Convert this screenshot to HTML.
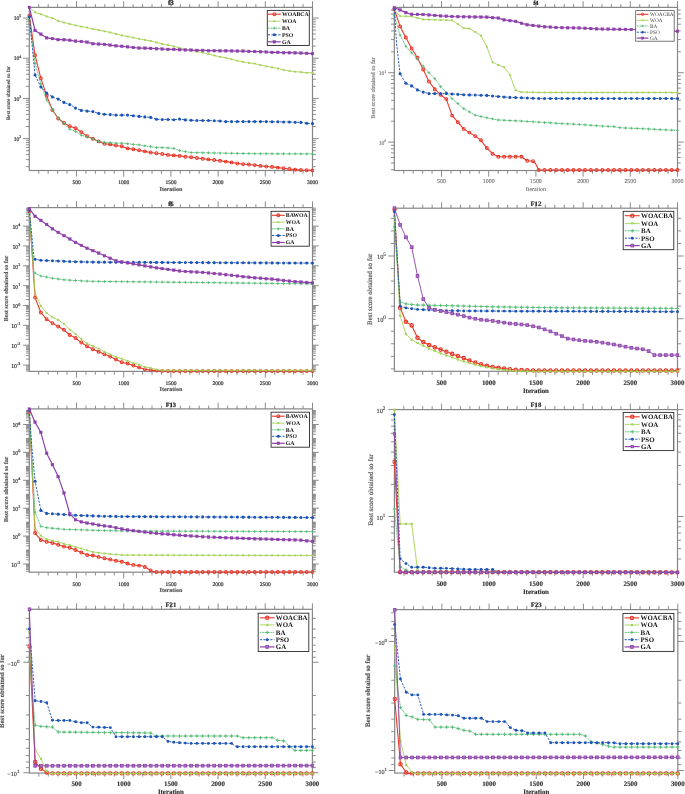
<!DOCTYPE html><html><head><meta charset="utf-8"><style>html,body{margin:0;padding:0;background:#fff;width:685px;height:794px;overflow:hidden}svg{display:block}text{font-family:"Liberation Serif",serif;text-rendering:geometricPrecision}</style></head><body>
<svg width="685" height="794" viewBox="0 0 685 794">
<rect width="685" height="794" fill="#fff"/>
<filter id="bl" x="0" y="0" width="100%" height="100%" filterUnits="userSpaceOnUse"><feGaussianBlur stdDeviation="0.3"/></filter><g filter="url(#bl)"><rect width="685" height="794" fill="#fff"/>
<path d="M38.74 170.5V173.8M38.74 7.4V4.1M48.18 170.5V173.8M48.18 7.4V4.1M57.62 170.5V173.8M57.62 7.4V4.1M67.06 170.5V173.8M67.06 7.4V4.1M76.5 170.5V176.7M76.5 7.4V1.2M85.94 170.5V173.8M85.94 7.4V4.1M95.38 170.5V173.8M95.38 7.4V4.1M104.82 170.5V173.8M104.82 7.4V4.1M114.26 170.5V173.8M114.26 7.4V4.1M123.7 170.5V176.7M123.7 7.4V1.2M133.14 170.5V173.8M133.14 7.4V4.1M142.58 170.5V173.8M142.58 7.4V4.1M152.02 170.5V173.8M152.02 7.4V4.1M161.46 170.5V173.8M161.46 7.4V4.1M170.9 170.5V176.7M170.9 7.4V1.2M180.34 170.5V173.8M180.34 7.4V4.1M189.78 170.5V173.8M189.78 7.4V4.1M199.22 170.5V173.8M199.22 7.4V4.1M208.66 170.5V173.8M208.66 7.4V4.1M218.1 170.5V176.7M218.1 7.4V1.2M227.54 170.5V173.8M227.54 7.4V4.1M236.98 170.5V173.8M236.98 7.4V4.1M246.42 170.5V173.8M246.42 7.4V4.1M255.86 170.5V173.8M255.86 7.4V4.1M265.3 170.5V176.7M265.3 7.4V1.2M274.74 170.5V173.8M274.74 7.4V4.1M284.18 170.5V173.8M284.18 7.4V4.1M293.62 170.5V173.8M293.62 7.4V4.1M303.06 170.5V173.8M303.06 7.4V4.1M312.5 170.5V176.7M312.5 7.4V1.2M29.3 166.7H26M312.5 166.7H315.8M29.3 159.62H26M312.5 159.62H315.8M29.3 154.6H26M312.5 154.6H315.8M29.3 150.7H26M312.5 150.7H315.8M29.3 147.52H26M312.5 147.52H315.8M29.3 144.83H26M312.5 144.83H315.8M29.3 142.5H26M312.5 142.5H315.8M29.3 140.44H26M312.5 140.44H315.8M29.3 138.6H23.1M312.5 138.6H318.7M29.3 126.5H26M312.5 126.5H315.8M29.3 119.42H26M312.5 119.42H315.8M29.3 114.4H26M312.5 114.4H315.8M29.3 110.5H26M312.5 110.5H315.8M29.3 107.32H26M312.5 107.32H315.8M29.3 104.63H26M312.5 104.63H315.8M29.3 102.3H26M312.5 102.3H315.8M29.3 100.24H26M312.5 100.24H315.8M29.3 98.4H23.1M312.5 98.4H318.7M29.3 86.3H26M312.5 86.3H315.8M29.3 79.22H26M312.5 79.22H315.8M29.3 74.2H26M312.5 74.2H315.8M29.3 70.3H26M312.5 70.3H315.8M29.3 67.12H26M312.5 67.12H315.8M29.3 64.43H26M312.5 64.43H315.8M29.3 62.1H26M312.5 62.1H315.8M29.3 60.04H26M312.5 60.04H315.8M29.3 58.2H23.1M312.5 58.2H318.7M29.3 46.1H26M312.5 46.1H315.8M29.3 39.02H26M312.5 39.02H315.8M29.3 34H26M312.5 34H315.8M29.3 30.1H26M312.5 30.1H315.8M29.3 26.92H26M312.5 26.92H315.8M29.3 24.23H26M312.5 24.23H315.8M29.3 21.9H26M312.5 21.9H315.8M29.3 19.84H26M312.5 19.84H315.8M29.3 18H23.1M312.5 18H318.7" stroke="#868686" stroke-width="0.95" fill="none"/>
<text x="76.5" y="184.1" font-size="5.5" text-anchor="middle" font-weight="normal" fill="#3c3c3c" stroke="#3c3c3c" stroke-width="0.22">500</text>
<text x="123.7" y="184.1" font-size="5.5" text-anchor="middle" font-weight="normal" fill="#3c3c3c" stroke="#3c3c3c" stroke-width="0.22">1000</text>
<text x="170.9" y="184.1" font-size="5.5" text-anchor="middle" font-weight="normal" fill="#3c3c3c" stroke="#3c3c3c" stroke-width="0.22">1500</text>
<text x="218.1" y="184.1" font-size="5.5" text-anchor="middle" font-weight="normal" fill="#3c3c3c" stroke="#3c3c3c" stroke-width="0.22">2000</text>
<text x="265.3" y="184.1" font-size="5.5" text-anchor="middle" font-weight="normal" fill="#3c3c3c" stroke="#3c3c3c" stroke-width="0.22">2500</text>
<text x="312.5" y="184.1" font-size="5.5" text-anchor="middle" font-weight="normal" fill="#3c3c3c" stroke="#3c3c3c" stroke-width="0.22">3000</text>
<text x="170.9" y="190.9" font-size="6" text-anchor="middle" font-weight="bold" fill="#5a5a5a" stroke="#5a5a5a" stroke-width="0.22">Iteration</text>
<text x="0" y="0" font-size="5.2" text-anchor="middle" font-weight="normal" fill="#3c3c3c" stroke="#3c3c3c" stroke-width="0.18" transform="translate(8.6 93.3) rotate(-90)" dominant-baseline="central">Best score obtained so far</text>
<text x="170.9" y="5.4" font-size="7" text-anchor="middle" font-weight="bold" fill="#222" stroke="#222" stroke-width="0.22">f3</text>
<text x="21.3" y="20.25" font-size="5.6" text-anchor="end" font-weight="normal" fill="#3c3c3c" stroke="#3c3c3c" stroke-width="0.22">10<tspan font-size="3.92" dy="-2.8">5</tspan></text>
<text x="21.3" y="60.45" font-size="5.6" text-anchor="end" font-weight="normal" fill="#3c3c3c" stroke="#3c3c3c" stroke-width="0.22">10<tspan font-size="3.92" dy="-2.8">4</tspan></text>
<text x="21.3" y="100.85" font-size="5.6" text-anchor="end" font-weight="normal" fill="#3c3c3c" stroke="#3c3c3c" stroke-width="0.22">10<tspan font-size="3.92" dy="-2.8">3</tspan></text>
<text x="21.3" y="140.85" font-size="5.6" text-anchor="end" font-weight="normal" fill="#3c3c3c" stroke="#3c3c3c" stroke-width="0.22">10<tspan font-size="3.92" dy="-2.8">2</tspan></text>
<rect x="29.3" y="7.4" width="283.2" height="163.1" fill="none" stroke="#868686" stroke-width="1.2"/>
<clipPath id="cf3"><rect x="27.3" y="4.9" width="287.2" height="168.1"/></clipPath>
<g clip-path="url(#cf3)">
<path d="M29.3 15.7 L35.08 55.3 L40.86 78.3 L46.64 95.8 L52.42 110 L58.2 118.5 L63.98 123 L69.76 126.2 L75.54 128.3 L81.32 132.1 L87.1 136.2 L92.88 138.8 L98.66 141.4 L104.43 143.7 L110.21 144.4 L115.99 145.5 L121.77 146.2 L127.55 148.4 L133.33 149.3 L139.11 150.2 L144.89 151.4 L150.67 152.5 L156.45 153.2 L162.23 154 L168.01 154.9 L173.79 155.4 L179.57 155.9 L185.35 156.7 L191.13 157.3 L196.91 158 L202.69 158.8 L208.47 159.4 L214.25 160 L220.03 160.8 L225.81 161.6 L231.59 162.4 L237.37 163.5 L243.14 164.1 L248.92 164.5 L254.7 165.1 L260.48 165.9 L266.26 166.5 L272.04 166.9 L277.82 167.6 L283.6 168.2 L289.38 169 L295.16 169.6 L300.94 170 L306.72 170.2 L312.5 170.4" fill="none" stroke="#e8392b" stroke-width="1.1" stroke-linejoin="round"/>
<circle cx="29.3" cy="15.7" r="1.45" fill="none" stroke="#e8392b" stroke-width="1.05"/><circle cx="35.08" cy="55.3" r="1.45" fill="none" stroke="#e8392b" stroke-width="1.05"/><circle cx="40.86" cy="78.3" r="1.45" fill="none" stroke="#e8392b" stroke-width="1.05"/><circle cx="46.64" cy="95.8" r="1.45" fill="none" stroke="#e8392b" stroke-width="1.05"/><circle cx="52.42" cy="110" r="1.45" fill="none" stroke="#e8392b" stroke-width="1.05"/><circle cx="58.2" cy="118.5" r="1.45" fill="none" stroke="#e8392b" stroke-width="1.05"/><circle cx="63.98" cy="123" r="1.45" fill="none" stroke="#e8392b" stroke-width="1.05"/><circle cx="69.76" cy="126.2" r="1.45" fill="none" stroke="#e8392b" stroke-width="1.05"/><circle cx="75.54" cy="128.3" r="1.45" fill="none" stroke="#e8392b" stroke-width="1.05"/><circle cx="81.32" cy="132.1" r="1.45" fill="none" stroke="#e8392b" stroke-width="1.05"/><circle cx="87.1" cy="136.2" r="1.45" fill="none" stroke="#e8392b" stroke-width="1.05"/><circle cx="92.88" cy="138.8" r="1.45" fill="none" stroke="#e8392b" stroke-width="1.05"/><circle cx="98.66" cy="141.4" r="1.45" fill="none" stroke="#e8392b" stroke-width="1.05"/><circle cx="104.43" cy="143.7" r="1.45" fill="none" stroke="#e8392b" stroke-width="1.05"/><circle cx="110.21" cy="144.4" r="1.45" fill="none" stroke="#e8392b" stroke-width="1.05"/><circle cx="115.99" cy="145.5" r="1.45" fill="none" stroke="#e8392b" stroke-width="1.05"/><circle cx="121.77" cy="146.2" r="1.45" fill="none" stroke="#e8392b" stroke-width="1.05"/><circle cx="127.55" cy="148.4" r="1.45" fill="none" stroke="#e8392b" stroke-width="1.05"/><circle cx="133.33" cy="149.3" r="1.45" fill="none" stroke="#e8392b" stroke-width="1.05"/><circle cx="139.11" cy="150.2" r="1.45" fill="none" stroke="#e8392b" stroke-width="1.05"/><circle cx="144.89" cy="151.4" r="1.45" fill="none" stroke="#e8392b" stroke-width="1.05"/><circle cx="150.67" cy="152.5" r="1.45" fill="none" stroke="#e8392b" stroke-width="1.05"/><circle cx="156.45" cy="153.2" r="1.45" fill="none" stroke="#e8392b" stroke-width="1.05"/><circle cx="162.23" cy="154" r="1.45" fill="none" stroke="#e8392b" stroke-width="1.05"/><circle cx="168.01" cy="154.9" r="1.45" fill="none" stroke="#e8392b" stroke-width="1.05"/><circle cx="173.79" cy="155.4" r="1.45" fill="none" stroke="#e8392b" stroke-width="1.05"/><circle cx="179.57" cy="155.9" r="1.45" fill="none" stroke="#e8392b" stroke-width="1.05"/><circle cx="185.35" cy="156.7" r="1.45" fill="none" stroke="#e8392b" stroke-width="1.05"/><circle cx="191.13" cy="157.3" r="1.45" fill="none" stroke="#e8392b" stroke-width="1.05"/><circle cx="196.91" cy="158" r="1.45" fill="none" stroke="#e8392b" stroke-width="1.05"/><circle cx="202.69" cy="158.8" r="1.45" fill="none" stroke="#e8392b" stroke-width="1.05"/><circle cx="208.47" cy="159.4" r="1.45" fill="none" stroke="#e8392b" stroke-width="1.05"/><circle cx="214.25" cy="160" r="1.45" fill="none" stroke="#e8392b" stroke-width="1.05"/><circle cx="220.03" cy="160.8" r="1.45" fill="none" stroke="#e8392b" stroke-width="1.05"/><circle cx="225.81" cy="161.6" r="1.45" fill="none" stroke="#e8392b" stroke-width="1.05"/><circle cx="231.59" cy="162.4" r="1.45" fill="none" stroke="#e8392b" stroke-width="1.05"/><circle cx="237.37" cy="163.5" r="1.45" fill="none" stroke="#e8392b" stroke-width="1.05"/><circle cx="243.14" cy="164.1" r="1.45" fill="none" stroke="#e8392b" stroke-width="1.05"/><circle cx="248.92" cy="164.5" r="1.45" fill="none" stroke="#e8392b" stroke-width="1.05"/><circle cx="254.7" cy="165.1" r="1.45" fill="none" stroke="#e8392b" stroke-width="1.05"/><circle cx="260.48" cy="165.9" r="1.45" fill="none" stroke="#e8392b" stroke-width="1.05"/><circle cx="266.26" cy="166.5" r="1.45" fill="none" stroke="#e8392b" stroke-width="1.05"/><circle cx="272.04" cy="166.9" r="1.45" fill="none" stroke="#e8392b" stroke-width="1.05"/><circle cx="277.82" cy="167.6" r="1.45" fill="none" stroke="#e8392b" stroke-width="1.05"/><circle cx="283.6" cy="168.2" r="1.45" fill="none" stroke="#e8392b" stroke-width="1.05"/><circle cx="289.38" cy="169" r="1.45" fill="none" stroke="#e8392b" stroke-width="1.05"/><circle cx="295.16" cy="169.6" r="1.45" fill="none" stroke="#e8392b" stroke-width="1.05"/><circle cx="300.94" cy="170" r="1.45" fill="none" stroke="#e8392b" stroke-width="1.05"/><circle cx="306.72" cy="170.2" r="1.45" fill="none" stroke="#e8392b" stroke-width="1.05"/><circle cx="312.5" cy="170.4" r="1.45" fill="none" stroke="#e8392b" stroke-width="1.05"/>
<path d="M29.3 7.4 L35.08 12.3 L40.86 14.2 L46.64 16.4 L52.42 18.1 L58.2 20.8 L63.98 22.5 L69.76 24 L75.54 25.4 L81.32 26.6 L87.1 27.6 L92.88 29.1 L98.66 30.1 L104.43 31.3 L110.21 32.4 L115.99 33.9 L121.77 35.4 L127.55 36.5 L133.33 37.6 L139.11 38.8 L144.89 39.9 L150.67 40.9 L156.45 42.4 L162.23 43.9 L168.01 45 L173.79 46.4 L179.57 47.8 L185.35 49.3 L191.13 50.1 L196.91 51.6 L202.69 52.6 L208.47 54.1 L214.25 55.5 L220.03 56.8 L225.81 57.8 L231.59 59.3 L237.37 60.7 L243.14 61.9 L248.92 62.9 L254.7 63.6 L260.48 65.1 L266.26 66.3 L272.04 67.4 L277.82 68.5 L283.6 69.9 L289.38 70.9 L295.16 71.7 L300.94 72.1 L306.72 72.8 L312.5 72.8" fill="none" stroke="#a6d255" stroke-width="0.9" stroke-linejoin="round"/>
<rect x="28.35" y="6.45" width="1.9" height="1.9" fill="#a6d255"/><rect x="34.13" y="11.35" width="1.9" height="1.9" fill="#a6d255"/><rect x="39.91" y="13.25" width="1.9" height="1.9" fill="#a6d255"/><rect x="45.69" y="15.45" width="1.9" height="1.9" fill="#a6d255"/><rect x="51.47" y="17.15" width="1.9" height="1.9" fill="#a6d255"/><rect x="57.25" y="19.85" width="1.9" height="1.9" fill="#a6d255"/><rect x="63.03" y="21.55" width="1.9" height="1.9" fill="#a6d255"/><rect x="68.81" y="23.05" width="1.9" height="1.9" fill="#a6d255"/><rect x="74.59" y="24.45" width="1.9" height="1.9" fill="#a6d255"/><rect x="80.37" y="25.65" width="1.9" height="1.9" fill="#a6d255"/><rect x="86.15" y="26.65" width="1.9" height="1.9" fill="#a6d255"/><rect x="91.93" y="28.15" width="1.9" height="1.9" fill="#a6d255"/><rect x="97.71" y="29.15" width="1.9" height="1.9" fill="#a6d255"/><rect x="103.48" y="30.35" width="1.9" height="1.9" fill="#a6d255"/><rect x="109.26" y="31.45" width="1.9" height="1.9" fill="#a6d255"/><rect x="115.04" y="32.95" width="1.9" height="1.9" fill="#a6d255"/><rect x="120.82" y="34.45" width="1.9" height="1.9" fill="#a6d255"/><rect x="126.6" y="35.55" width="1.9" height="1.9" fill="#a6d255"/><rect x="132.38" y="36.65" width="1.9" height="1.9" fill="#a6d255"/><rect x="138.16" y="37.85" width="1.9" height="1.9" fill="#a6d255"/><rect x="143.94" y="38.95" width="1.9" height="1.9" fill="#a6d255"/><rect x="149.72" y="39.95" width="1.9" height="1.9" fill="#a6d255"/><rect x="155.5" y="41.45" width="1.9" height="1.9" fill="#a6d255"/><rect x="161.28" y="42.95" width="1.9" height="1.9" fill="#a6d255"/><rect x="167.06" y="44.05" width="1.9" height="1.9" fill="#a6d255"/><rect x="172.84" y="45.45" width="1.9" height="1.9" fill="#a6d255"/><rect x="178.62" y="46.85" width="1.9" height="1.9" fill="#a6d255"/><rect x="184.4" y="48.35" width="1.9" height="1.9" fill="#a6d255"/><rect x="190.18" y="49.15" width="1.9" height="1.9" fill="#a6d255"/><rect x="195.96" y="50.65" width="1.9" height="1.9" fill="#a6d255"/><rect x="201.74" y="51.65" width="1.9" height="1.9" fill="#a6d255"/><rect x="207.52" y="53.15" width="1.9" height="1.9" fill="#a6d255"/><rect x="213.3" y="54.55" width="1.9" height="1.9" fill="#a6d255"/><rect x="219.08" y="55.85" width="1.9" height="1.9" fill="#a6d255"/><rect x="224.86" y="56.85" width="1.9" height="1.9" fill="#a6d255"/><rect x="230.64" y="58.35" width="1.9" height="1.9" fill="#a6d255"/><rect x="236.42" y="59.75" width="1.9" height="1.9" fill="#a6d255"/><rect x="242.19" y="60.95" width="1.9" height="1.9" fill="#a6d255"/><rect x="247.97" y="61.95" width="1.9" height="1.9" fill="#a6d255"/><rect x="253.75" y="62.65" width="1.9" height="1.9" fill="#a6d255"/><rect x="259.53" y="64.15" width="1.9" height="1.9" fill="#a6d255"/><rect x="265.31" y="65.35" width="1.9" height="1.9" fill="#a6d255"/><rect x="271.09" y="66.45" width="1.9" height="1.9" fill="#a6d255"/><rect x="276.87" y="67.55" width="1.9" height="1.9" fill="#a6d255"/><rect x="282.65" y="68.95" width="1.9" height="1.9" fill="#a6d255"/><rect x="288.43" y="69.95" width="1.9" height="1.9" fill="#a6d255"/><rect x="294.21" y="70.75" width="1.9" height="1.9" fill="#a6d255"/><rect x="299.99" y="71.15" width="1.9" height="1.9" fill="#a6d255"/><rect x="305.77" y="71.85" width="1.9" height="1.9" fill="#a6d255"/><rect x="311.55" y="71.85" width="1.9" height="1.9" fill="#a6d255"/>
<path d="M29.3 20 L35.08 63.6 L40.86 84 L46.64 99.9 L52.42 109.7 L58.2 118 L63.98 123.5 L69.76 129.2 L75.54 131.4 L81.32 135.3 L87.1 136.7 L92.88 138.8 L98.66 141.4 L104.43 142.3 L110.21 142.7 L115.99 143.2 L121.77 143.2 L127.55 143.7 L133.33 144.4 L139.11 144.9 L144.89 145.8 L150.67 146.7 L156.45 147.6 L162.23 147.6 L168.01 147.9 L173.79 148.4 L179.57 150.6 L185.35 151.6 L191.13 152.6 L196.91 152.6 L225.81 153.2 L256.7 153.7 L312.5 153.9" fill="none" stroke="#52b973" stroke-width="0.95" stroke-dasharray="1.1 0.5" stroke-linejoin="round"/>
<path d="M27.8 20H30.8M29.3 18.5V21.5" stroke="#52b973" stroke-width="0.8"/><path d="M33.58 63.6H36.58M35.08 62.1V65.1" stroke="#52b973" stroke-width="0.8"/><path d="M39.36 84H42.36M40.86 82.5V85.5" stroke="#52b973" stroke-width="0.8"/><path d="M45.14 99.9H48.14M46.64 98.4V101.4" stroke="#52b973" stroke-width="0.8"/><path d="M50.92 109.7H53.92M52.42 108.2V111.2" stroke="#52b973" stroke-width="0.8"/><path d="M56.7 118H59.7M58.2 116.5V119.5" stroke="#52b973" stroke-width="0.8"/><path d="M62.48 123.5H65.48M63.98 122V125" stroke="#52b973" stroke-width="0.8"/><path d="M68.26 129.2H71.26M69.76 127.7V130.7" stroke="#52b973" stroke-width="0.8"/><path d="M74.04 131.4H77.04M75.54 129.9V132.9" stroke="#52b973" stroke-width="0.8"/><path d="M79.82 135.3H82.82M81.32 133.8V136.8" stroke="#52b973" stroke-width="0.8"/><path d="M85.6 136.7H88.6M87.1 135.2V138.2" stroke="#52b973" stroke-width="0.8"/><path d="M91.38 138.8H94.38M92.88 137.3V140.3" stroke="#52b973" stroke-width="0.8"/><path d="M97.16 141.4H100.16M98.66 139.9V142.9" stroke="#52b973" stroke-width="0.8"/><path d="M102.93 142.3H105.93M104.43 140.8V143.8" stroke="#52b973" stroke-width="0.8"/><path d="M108.71 142.7H111.71M110.21 141.2V144.2" stroke="#52b973" stroke-width="0.8"/><path d="M114.49 143.2H117.49M115.99 141.7V144.7" stroke="#52b973" stroke-width="0.8"/><path d="M120.27 143.2H123.27M121.77 141.7V144.7" stroke="#52b973" stroke-width="0.8"/><path d="M126.05 143.7H129.05M127.55 142.2V145.2" stroke="#52b973" stroke-width="0.8"/><path d="M131.83 144.4H134.83M133.33 142.9V145.9" stroke="#52b973" stroke-width="0.8"/><path d="M137.61 144.9H140.61M139.11 143.4V146.4" stroke="#52b973" stroke-width="0.8"/><path d="M143.39 145.8H146.39M144.89 144.3V147.3" stroke="#52b973" stroke-width="0.8"/><path d="M149.17 146.7H152.17M150.67 145.2V148.2" stroke="#52b973" stroke-width="0.8"/><path d="M154.95 147.6H157.95M156.45 146.1V149.1" stroke="#52b973" stroke-width="0.8"/><path d="M160.73 147.6H163.73M162.23 146.1V149.1" stroke="#52b973" stroke-width="0.8"/><path d="M166.51 147.9H169.51M168.01 146.4V149.4" stroke="#52b973" stroke-width="0.8"/><path d="M172.29 148.4H175.29M173.79 146.9V149.9" stroke="#52b973" stroke-width="0.8"/><path d="M178.07 150.6H181.07M179.57 149.1V152.1" stroke="#52b973" stroke-width="0.8"/><path d="M183.85 151.6H186.85M185.35 150.1V153.1" stroke="#52b973" stroke-width="0.8"/><path d="M189.63 152.6H192.63M191.13 151.1V154.1" stroke="#52b973" stroke-width="0.8"/><path d="M195.41 152.6H198.41M196.91 151.1V154.1" stroke="#52b973" stroke-width="0.8"/><path d="M201.19 152.72H204.19M202.69 151.22V154.22" stroke="#52b973" stroke-width="0.8"/><path d="M206.97 152.84H209.97M208.47 151.34V154.34" stroke="#52b973" stroke-width="0.8"/><path d="M212.75 152.96H215.75M214.25 151.46V154.46" stroke="#52b973" stroke-width="0.8"/><path d="M218.53 153.08H221.53M220.03 151.58V154.58" stroke="#52b973" stroke-width="0.8"/><path d="M224.31 153.2H227.31M225.81 151.7V154.7" stroke="#52b973" stroke-width="0.8"/><path d="M230.09 153.29H233.09M231.59 151.79V154.79" stroke="#52b973" stroke-width="0.8"/><path d="M235.87 153.39H238.87M237.37 151.89V154.89" stroke="#52b973" stroke-width="0.8"/><path d="M241.64 153.48H244.64M243.14 151.98V154.98" stroke="#52b973" stroke-width="0.8"/><path d="M247.42 153.57H250.42M248.92 152.07V155.07" stroke="#52b973" stroke-width="0.8"/><path d="M253.2 153.67H256.2M254.7 152.17V155.17" stroke="#52b973" stroke-width="0.8"/><path d="M258.98 153.71H261.98M260.48 152.21V155.21" stroke="#52b973" stroke-width="0.8"/><path d="M264.76 153.73H267.76M266.26 152.23V155.23" stroke="#52b973" stroke-width="0.8"/><path d="M270.54 153.75H273.54M272.04 152.25V155.25" stroke="#52b973" stroke-width="0.8"/><path d="M276.32 153.78H279.32M277.82 152.28V155.28" stroke="#52b973" stroke-width="0.8"/><path d="M282.1 153.8H285.1M283.6 152.3V155.3" stroke="#52b973" stroke-width="0.8"/><path d="M287.88 153.82H290.88M289.38 152.32V155.32" stroke="#52b973" stroke-width="0.8"/><path d="M293.66 153.84H296.66M295.16 152.34V155.34" stroke="#52b973" stroke-width="0.8"/><path d="M299.44 153.86H302.44M300.94 152.36V155.36" stroke="#52b973" stroke-width="0.8"/><path d="M305.22 153.88H308.22M306.72 152.38V155.38" stroke="#52b973" stroke-width="0.8"/><path d="M311 153.9H314M312.5 152.4V155.4" stroke="#52b973" stroke-width="0.8"/>
<path d="M29.3 16.8 L35.08 75 L40.86 87 L46.64 93.1 L52.42 96.9 L58.2 99.1 L63.98 102.4 L69.76 104.6 L75.54 108.1 L81.32 110.4 L87.1 111.1 L92.88 111.6 L98.66 113.4 L104.43 114.3 L110.21 114.6 L115.99 115.1 L121.77 115.1 L127.55 115.1 L133.33 115.7 L139.11 116.4 L144.89 116.9 L150.67 117.4 L156.45 119.2 L162.23 119.5 L168.01 119.5 L173.79 119.7 L179.57 119.1 L185.35 119.9 L191.13 120.3 L196.91 120.5 L202.69 120.5 L208.47 120.5 L214.25 120.8 L220.03 121 L225.81 121.6 L231.59 121.6 L237.37 121.6 L243.14 121.6 L248.92 121.6 L254.7 121.6 L260.48 121.6 L266.26 121.6 L272.04 121.8 L277.82 121.8 L283.6 122 L289.38 122 L295.16 122.2 L300.94 122.4 L306.72 123.2 L312.5 123.6" fill="none" stroke="#1f55b5" stroke-width="0.95" stroke-dasharray="2.2 1.3" stroke-linejoin="round"/>
<circle cx="29.3" cy="16.8" r="1.55" fill="#1f55b5"/><circle cx="35.08" cy="75" r="1.55" fill="#1f55b5"/><circle cx="40.86" cy="87" r="1.55" fill="#1f55b5"/><circle cx="46.64" cy="93.1" r="1.55" fill="#1f55b5"/><circle cx="52.42" cy="96.9" r="1.55" fill="#1f55b5"/><circle cx="58.2" cy="99.1" r="1.55" fill="#1f55b5"/><circle cx="63.98" cy="102.4" r="1.55" fill="#1f55b5"/><circle cx="69.76" cy="104.6" r="1.55" fill="#1f55b5"/><circle cx="75.54" cy="108.1" r="1.55" fill="#1f55b5"/><circle cx="81.32" cy="110.4" r="1.55" fill="#1f55b5"/><circle cx="87.1" cy="111.1" r="1.55" fill="#1f55b5"/><circle cx="92.88" cy="111.6" r="1.55" fill="#1f55b5"/><circle cx="98.66" cy="113.4" r="1.55" fill="#1f55b5"/><circle cx="104.43" cy="114.3" r="1.55" fill="#1f55b5"/><circle cx="110.21" cy="114.6" r="1.55" fill="#1f55b5"/><circle cx="115.99" cy="115.1" r="1.55" fill="#1f55b5"/><circle cx="121.77" cy="115.1" r="1.55" fill="#1f55b5"/><circle cx="127.55" cy="115.1" r="1.55" fill="#1f55b5"/><circle cx="133.33" cy="115.7" r="1.55" fill="#1f55b5"/><circle cx="139.11" cy="116.4" r="1.55" fill="#1f55b5"/><circle cx="144.89" cy="116.9" r="1.55" fill="#1f55b5"/><circle cx="150.67" cy="117.4" r="1.55" fill="#1f55b5"/><circle cx="156.45" cy="119.2" r="1.55" fill="#1f55b5"/><circle cx="162.23" cy="119.5" r="1.55" fill="#1f55b5"/><circle cx="168.01" cy="119.5" r="1.55" fill="#1f55b5"/><circle cx="173.79" cy="119.7" r="1.55" fill="#1f55b5"/><circle cx="179.57" cy="119.1" r="1.55" fill="#1f55b5"/><circle cx="185.35" cy="119.9" r="1.55" fill="#1f55b5"/><circle cx="191.13" cy="120.3" r="1.55" fill="#1f55b5"/><circle cx="196.91" cy="120.5" r="1.55" fill="#1f55b5"/><circle cx="202.69" cy="120.5" r="1.55" fill="#1f55b5"/><circle cx="208.47" cy="120.5" r="1.55" fill="#1f55b5"/><circle cx="214.25" cy="120.8" r="1.55" fill="#1f55b5"/><circle cx="220.03" cy="121" r="1.55" fill="#1f55b5"/><circle cx="225.81" cy="121.6" r="1.55" fill="#1f55b5"/><circle cx="231.59" cy="121.6" r="1.55" fill="#1f55b5"/><circle cx="237.37" cy="121.6" r="1.55" fill="#1f55b5"/><circle cx="243.14" cy="121.6" r="1.55" fill="#1f55b5"/><circle cx="248.92" cy="121.6" r="1.55" fill="#1f55b5"/><circle cx="254.7" cy="121.6" r="1.55" fill="#1f55b5"/><circle cx="260.48" cy="121.6" r="1.55" fill="#1f55b5"/><circle cx="266.26" cy="121.6" r="1.55" fill="#1f55b5"/><circle cx="272.04" cy="121.8" r="1.55" fill="#1f55b5"/><circle cx="277.82" cy="121.8" r="1.55" fill="#1f55b5"/><circle cx="283.6" cy="122" r="1.55" fill="#1f55b5"/><circle cx="289.38" cy="122" r="1.55" fill="#1f55b5"/><circle cx="295.16" cy="122.2" r="1.55" fill="#1f55b5"/><circle cx="300.94" cy="122.4" r="1.55" fill="#1f55b5"/><circle cx="306.72" cy="123.2" r="1.55" fill="#1f55b5"/><circle cx="312.5" cy="123.6" r="1.55" fill="#1f55b5"/>
<path d="M29.3 7.4 L35.08 30.5 L40.86 34.2 L46.64 37.8 L52.42 38.6 L58.2 39.6 L63.98 39.7 L69.76 40.3 L75.54 41.2 L81.32 41.5 L87.1 42.2 L92.88 43.7 L98.66 44.1 L104.43 44.4 L110.21 45.2 L115.99 45.8 L121.77 46.3 L127.55 46.8 L133.33 47.5 L139.11 48.1 L144.89 48.2 L150.67 48.4 L156.45 48.7 L162.23 49 L168.01 49.4 L173.79 49.4 L179.57 49.7 L185.35 50 L191.13 50.1 L196.91 50.4 L202.69 50.4 L208.47 50.7 L214.25 50.7 L220.03 50.8 L225.81 50.8 L231.59 50.9 L237.37 51.1 L243.14 51.1 L248.92 51.4 L254.7 51.5 L260.48 51.7 L266.26 52 L272.04 52.4 L277.82 52.4 L283.6 52.7 L289.38 52.7 L295.16 52.8 L300.94 53.1 L306.72 53.4 L312.5 53.6" fill="none" stroke="#8d40aa" stroke-width="1.2" stroke-linejoin="round"/>
<rect x="27.9" y="6" width="2.8" height="2.8" fill="#8d40aa" stroke="#8d40aa" stroke-width="0.3"/><rect x="33.68" y="29.1" width="2.8" height="2.8" fill="#8d40aa" stroke="#8d40aa" stroke-width="0.3"/><rect x="39.46" y="32.8" width="2.8" height="2.8" fill="#8d40aa" stroke="#8d40aa" stroke-width="0.3"/><rect x="45.24" y="36.4" width="2.8" height="2.8" fill="#8d40aa" stroke="#8d40aa" stroke-width="0.3"/><rect x="51.02" y="37.2" width="2.8" height="2.8" fill="#8d40aa" stroke="#8d40aa" stroke-width="0.3"/><rect x="56.8" y="38.2" width="2.8" height="2.8" fill="#8d40aa" stroke="#8d40aa" stroke-width="0.3"/><rect x="62.58" y="38.3" width="2.8" height="2.8" fill="#8d40aa" stroke="#8d40aa" stroke-width="0.3"/><rect x="68.36" y="38.9" width="2.8" height="2.8" fill="#8d40aa" stroke="#8d40aa" stroke-width="0.3"/><rect x="74.14" y="39.8" width="2.8" height="2.8" fill="#8d40aa" stroke="#8d40aa" stroke-width="0.3"/><rect x="79.92" y="40.1" width="2.8" height="2.8" fill="#8d40aa" stroke="#8d40aa" stroke-width="0.3"/><rect x="85.7" y="40.8" width="2.8" height="2.8" fill="#8d40aa" stroke="#8d40aa" stroke-width="0.3"/><rect x="91.48" y="42.3" width="2.8" height="2.8" fill="#8d40aa" stroke="#8d40aa" stroke-width="0.3"/><rect x="97.26" y="42.7" width="2.8" height="2.8" fill="#8d40aa" stroke="#8d40aa" stroke-width="0.3"/><rect x="103.03" y="43" width="2.8" height="2.8" fill="#8d40aa" stroke="#8d40aa" stroke-width="0.3"/><rect x="108.81" y="43.8" width="2.8" height="2.8" fill="#8d40aa" stroke="#8d40aa" stroke-width="0.3"/><rect x="114.59" y="44.4" width="2.8" height="2.8" fill="#8d40aa" stroke="#8d40aa" stroke-width="0.3"/><rect x="120.37" y="44.9" width="2.8" height="2.8" fill="#8d40aa" stroke="#8d40aa" stroke-width="0.3"/><rect x="126.15" y="45.4" width="2.8" height="2.8" fill="#8d40aa" stroke="#8d40aa" stroke-width="0.3"/><rect x="131.93" y="46.1" width="2.8" height="2.8" fill="#8d40aa" stroke="#8d40aa" stroke-width="0.3"/><rect x="137.71" y="46.7" width="2.8" height="2.8" fill="#8d40aa" stroke="#8d40aa" stroke-width="0.3"/><rect x="143.49" y="46.8" width="2.8" height="2.8" fill="#8d40aa" stroke="#8d40aa" stroke-width="0.3"/><rect x="149.27" y="47" width="2.8" height="2.8" fill="#8d40aa" stroke="#8d40aa" stroke-width="0.3"/><rect x="155.05" y="47.3" width="2.8" height="2.8" fill="#8d40aa" stroke="#8d40aa" stroke-width="0.3"/><rect x="160.83" y="47.6" width="2.8" height="2.8" fill="#8d40aa" stroke="#8d40aa" stroke-width="0.3"/><rect x="166.61" y="48" width="2.8" height="2.8" fill="#8d40aa" stroke="#8d40aa" stroke-width="0.3"/><rect x="172.39" y="48" width="2.8" height="2.8" fill="#8d40aa" stroke="#8d40aa" stroke-width="0.3"/><rect x="178.17" y="48.3" width="2.8" height="2.8" fill="#8d40aa" stroke="#8d40aa" stroke-width="0.3"/><rect x="183.95" y="48.6" width="2.8" height="2.8" fill="#8d40aa" stroke="#8d40aa" stroke-width="0.3"/><rect x="189.73" y="48.7" width="2.8" height="2.8" fill="#8d40aa" stroke="#8d40aa" stroke-width="0.3"/><rect x="195.51" y="49" width="2.8" height="2.8" fill="#8d40aa" stroke="#8d40aa" stroke-width="0.3"/><rect x="201.29" y="49" width="2.8" height="2.8" fill="#8d40aa" stroke="#8d40aa" stroke-width="0.3"/><rect x="207.07" y="49.3" width="2.8" height="2.8" fill="#8d40aa" stroke="#8d40aa" stroke-width="0.3"/><rect x="212.85" y="49.3" width="2.8" height="2.8" fill="#8d40aa" stroke="#8d40aa" stroke-width="0.3"/><rect x="218.63" y="49.4" width="2.8" height="2.8" fill="#8d40aa" stroke="#8d40aa" stroke-width="0.3"/><rect x="224.41" y="49.4" width="2.8" height="2.8" fill="#8d40aa" stroke="#8d40aa" stroke-width="0.3"/><rect x="230.19" y="49.5" width="2.8" height="2.8" fill="#8d40aa" stroke="#8d40aa" stroke-width="0.3"/><rect x="235.97" y="49.7" width="2.8" height="2.8" fill="#8d40aa" stroke="#8d40aa" stroke-width="0.3"/><rect x="241.74" y="49.7" width="2.8" height="2.8" fill="#8d40aa" stroke="#8d40aa" stroke-width="0.3"/><rect x="247.52" y="50" width="2.8" height="2.8" fill="#8d40aa" stroke="#8d40aa" stroke-width="0.3"/><rect x="253.3" y="50.1" width="2.8" height="2.8" fill="#8d40aa" stroke="#8d40aa" stroke-width="0.3"/><rect x="259.08" y="50.3" width="2.8" height="2.8" fill="#8d40aa" stroke="#8d40aa" stroke-width="0.3"/><rect x="264.86" y="50.6" width="2.8" height="2.8" fill="#8d40aa" stroke="#8d40aa" stroke-width="0.3"/><rect x="270.64" y="51" width="2.8" height="2.8" fill="#8d40aa" stroke="#8d40aa" stroke-width="0.3"/><rect x="276.42" y="51" width="2.8" height="2.8" fill="#8d40aa" stroke="#8d40aa" stroke-width="0.3"/><rect x="282.2" y="51.3" width="2.8" height="2.8" fill="#8d40aa" stroke="#8d40aa" stroke-width="0.3"/><rect x="287.98" y="51.3" width="2.8" height="2.8" fill="#8d40aa" stroke="#8d40aa" stroke-width="0.3"/><rect x="293.76" y="51.4" width="2.8" height="2.8" fill="#8d40aa" stroke="#8d40aa" stroke-width="0.3"/><rect x="299.54" y="51.7" width="2.8" height="2.8" fill="#8d40aa" stroke="#8d40aa" stroke-width="0.3"/><rect x="305.32" y="52" width="2.8" height="2.8" fill="#8d40aa" stroke="#8d40aa" stroke-width="0.3"/><rect x="311.1" y="52.2" width="2.8" height="2.8" fill="#8d40aa" stroke="#8d40aa" stroke-width="0.3"/>
</g>
<rect x="267.3" y="10.4" width="42" height="35.1" fill="#fff" stroke="#2a2a2a" stroke-width="0.9"/>
<path d="M267.9 14.2H280.8" stroke="#e8392b" stroke-width="1.1"/>
<circle cx="274.35" cy="14.2" r="1.45" fill="none" stroke="#e8392b" stroke-width="1.05"/>
<text x="281.9" y="16.17" font-size="5.8" font-weight="bold" fill="#111">WOABCA</text>
<path d="M267.9 21.2H280.8" stroke="#a6d255" stroke-width="0.9"/>
<rect x="273.4" y="20.25" width="1.9" height="1.9" fill="#a6d255"/>
<text x="281.9" y="23.17" font-size="5.8" font-weight="bold" fill="#111">WOA</text>
<path d="M267.9 28.2H280.8" stroke="#52b973" stroke-width="0.95" stroke-dasharray="1.1 0.5"/>
<path d="M272.85 28.2H275.85M274.35 26.7V29.7" stroke="#52b973" stroke-width="0.8"/>
<text x="281.9" y="30.17" font-size="5.8" font-weight="bold" fill="#111">BA</text>
<path d="M267.9 34.8H280.8" stroke="#1f55b5" stroke-width="0.95" stroke-dasharray="2.2 1.3"/>
<circle cx="274.35" cy="34.8" r="1.55" fill="#1f55b5"/>
<text x="281.9" y="36.77" font-size="5.8" font-weight="bold" fill="#111">PSO</text>
<path d="M267.9 41.8H280.8" stroke="#8d40aa" stroke-width="1.2"/>
<rect x="272.95" y="40.4" width="2.8" height="2.8" fill="#8d40aa" stroke="#8d40aa" stroke-width="0.3"/>
<text x="281.9" y="43.77" font-size="5.8" font-weight="bold" fill="#111">GA</text>
<path d="M403.74 170.5V173.8M403.74 7.4V4.1M413.18 170.5V173.8M413.18 7.4V4.1M422.62 170.5V173.8M422.62 7.4V4.1M432.06 170.5V173.8M432.06 7.4V4.1M441.5 170.5V176.7M441.5 7.4V1.2M450.94 170.5V173.8M450.94 7.4V4.1M460.38 170.5V173.8M460.38 7.4V4.1M469.82 170.5V173.8M469.82 7.4V4.1M479.26 170.5V173.8M479.26 7.4V4.1M488.7 170.5V176.7M488.7 7.4V1.2M498.14 170.5V173.8M498.14 7.4V4.1M507.58 170.5V173.8M507.58 7.4V4.1M517.02 170.5V173.8M517.02 7.4V4.1M526.46 170.5V173.8M526.46 7.4V4.1M535.9 170.5V176.7M535.9 7.4V1.2M545.34 170.5V173.8M545.34 7.4V4.1M554.78 170.5V173.8M554.78 7.4V4.1M564.22 170.5V173.8M564.22 7.4V4.1M573.66 170.5V173.8M573.66 7.4V4.1M583.1 170.5V176.7M583.1 7.4V1.2M592.54 170.5V173.8M592.54 7.4V4.1M601.98 170.5V173.8M601.98 7.4V4.1M611.42 170.5V173.8M611.42 7.4V4.1M620.86 170.5V173.8M620.86 7.4V4.1M630.3 170.5V176.7M630.3 7.4V1.2M639.74 170.5V173.8M639.74 7.4V4.1M649.18 170.5V173.8M649.18 7.4V4.1M658.62 170.5V173.8M658.62 7.4V4.1M668.06 170.5V173.8M668.06 7.4V4.1M677.5 170.5V176.7M677.5 7.4V1.2M394.3 169.72H391M677.5 169.72H680.8M394.3 162.99H391M677.5 162.99H680.8M394.3 157.5H391M677.5 157.5H680.8M394.3 152.85H391M677.5 152.85H680.8M394.3 148.83H391M677.5 148.83H680.8M394.3 145.28H391M677.5 145.28H680.8M394.3 142.1H388.1M677.5 142.1H683.7M394.3 121.21H391M677.5 121.21H680.8M394.3 108.99H391M677.5 108.99H680.8M394.3 100.32H391M677.5 100.32H680.8M394.3 93.59H391M677.5 93.59H680.8M394.3 88.1H391M677.5 88.1H680.8M394.3 83.45H391M677.5 83.45H680.8M394.3 79.43H391M677.5 79.43H680.8M394.3 75.88H391M677.5 75.88H680.8M394.3 72.7H388.1M677.5 72.7H683.7M394.3 51.81H391M677.5 51.81H680.8M394.3 39.59H391M677.5 39.59H680.8M394.3 30.92H391M677.5 30.92H680.8M394.3 24.19H391M677.5 24.19H680.8M394.3 18.7H391M677.5 18.7H680.8M394.3 14.05H391M677.5 14.05H680.8M394.3 10.03H391M677.5 10.03H680.8" stroke="#868686" stroke-width="0.95" fill="none"/>
<text x="441.5" y="183.4" font-size="5.9" text-anchor="middle" font-weight="normal" fill="#7a7a7a" stroke="#7a7a7a" stroke-width="0.15">500</text>
<text x="488.7" y="183.4" font-size="5.9" text-anchor="middle" font-weight="normal" fill="#7a7a7a" stroke="#7a7a7a" stroke-width="0.15">1000</text>
<text x="535.9" y="183.4" font-size="5.9" text-anchor="middle" font-weight="normal" fill="#7a7a7a" stroke="#7a7a7a" stroke-width="0.15">1500</text>
<text x="583.1" y="183.4" font-size="5.9" text-anchor="middle" font-weight="normal" fill="#7a7a7a" stroke="#7a7a7a" stroke-width="0.15">2000</text>
<text x="630.3" y="183.4" font-size="5.9" text-anchor="middle" font-weight="normal" fill="#7a7a7a" stroke="#7a7a7a" stroke-width="0.15">2500</text>
<text x="677.5" y="183.4" font-size="5.9" text-anchor="middle" font-weight="normal" fill="#7a7a7a" stroke="#7a7a7a" stroke-width="0.15">3000</text>
<text x="535.9" y="190.8" font-size="6" text-anchor="middle" font-weight="normal" fill="#7a7a7a" stroke="#7a7a7a" stroke-width="0.15">Iteration</text>
<text x="0" y="0" font-size="5.9" text-anchor="middle" font-weight="normal" fill="#7a7a7a" stroke="#7a7a7a" stroke-width="0.18" transform="translate(373.6 88) rotate(-90)" dominant-baseline="central">Best score obtained so far</text>
<text x="535.9" y="5" font-size="6.4" text-anchor="middle" font-weight="bold" fill="#222" stroke="#222" stroke-width="0.15">f4</text>
<text x="386.3" y="75.45" font-size="5.6" text-anchor="end" font-weight="normal" fill="#7a7a7a" stroke="#7a7a7a" stroke-width="0.15">10<tspan font-size="3.92" dy="-2.8">1</tspan></text>
<text x="386.3" y="144.75" font-size="5.6" text-anchor="end" font-weight="normal" fill="#7a7a7a" stroke="#7a7a7a" stroke-width="0.15">10<tspan font-size="3.92" dy="-2.8">0</tspan></text>
<rect x="394.3" y="7.4" width="283.2" height="163.1" fill="none" stroke="#868686" stroke-width="1.2"/>
<clipPath id="cf4"><rect x="392.3" y="4.9" width="287.2" height="168.1"/></clipPath>
<g clip-path="url(#cf4)">
<path d="M394.3 9.3 L400.08 26.4 L405.86 37.4 L411.64 48.5 L417.42 57.7 L423.2 69.4 L428.98 81.5 L434.76 89.2 L440.54 94.7 L446.32 99.1 L452.1 115.6 L457.88 122.2 L463.66 128.9 L469.43 132.6 L475.21 136.1 L480.99 140.3 L486.77 148 L492.55 153.7 L498.33 156.8 L521.45 156.8 L527.23 160.8 L533.01 161.2 L535.5 163.5 L538.79 170 L677.5 170" fill="none" stroke="#e8392b" stroke-width="1.1" stroke-linejoin="round"/>
<circle cx="394.3" cy="9.3" r="1.45" fill="none" stroke="#e8392b" stroke-width="1.05"/><circle cx="400.08" cy="26.4" r="1.45" fill="none" stroke="#e8392b" stroke-width="1.05"/><circle cx="405.86" cy="37.4" r="1.45" fill="none" stroke="#e8392b" stroke-width="1.05"/><circle cx="411.64" cy="48.5" r="1.45" fill="none" stroke="#e8392b" stroke-width="1.05"/><circle cx="417.42" cy="57.7" r="1.45" fill="none" stroke="#e8392b" stroke-width="1.05"/><circle cx="423.2" cy="69.4" r="1.45" fill="none" stroke="#e8392b" stroke-width="1.05"/><circle cx="428.98" cy="81.5" r="1.45" fill="none" stroke="#e8392b" stroke-width="1.05"/><circle cx="434.76" cy="89.2" r="1.45" fill="none" stroke="#e8392b" stroke-width="1.05"/><circle cx="440.54" cy="94.7" r="1.45" fill="none" stroke="#e8392b" stroke-width="1.05"/><circle cx="446.32" cy="99.1" r="1.45" fill="none" stroke="#e8392b" stroke-width="1.05"/><circle cx="452.1" cy="115.6" r="1.45" fill="none" stroke="#e8392b" stroke-width="1.05"/><circle cx="457.88" cy="122.2" r="1.45" fill="none" stroke="#e8392b" stroke-width="1.05"/><circle cx="463.66" cy="128.9" r="1.45" fill="none" stroke="#e8392b" stroke-width="1.05"/><circle cx="469.43" cy="132.6" r="1.45" fill="none" stroke="#e8392b" stroke-width="1.05"/><circle cx="475.21" cy="136.1" r="1.45" fill="none" stroke="#e8392b" stroke-width="1.05"/><circle cx="480.99" cy="140.3" r="1.45" fill="none" stroke="#e8392b" stroke-width="1.05"/><circle cx="486.77" cy="148" r="1.45" fill="none" stroke="#e8392b" stroke-width="1.05"/><circle cx="492.55" cy="153.7" r="1.45" fill="none" stroke="#e8392b" stroke-width="1.05"/><circle cx="498.33" cy="156.8" r="1.45" fill="none" stroke="#e8392b" stroke-width="1.05"/><circle cx="504.11" cy="156.8" r="1.45" fill="none" stroke="#e8392b" stroke-width="1.05"/><circle cx="509.89" cy="156.8" r="1.45" fill="none" stroke="#e8392b" stroke-width="1.05"/><circle cx="515.67" cy="156.8" r="1.45" fill="none" stroke="#e8392b" stroke-width="1.05"/><circle cx="521.45" cy="156.8" r="1.45" fill="none" stroke="#e8392b" stroke-width="1.05"/><circle cx="527.23" cy="160.8" r="1.45" fill="none" stroke="#e8392b" stroke-width="1.05"/><circle cx="533.01" cy="161.2" r="1.45" fill="none" stroke="#e8392b" stroke-width="1.05"/><circle cx="538.79" cy="170" r="1.45" fill="none" stroke="#e8392b" stroke-width="1.05"/><circle cx="544.57" cy="170" r="1.45" fill="none" stroke="#e8392b" stroke-width="1.05"/><circle cx="550.35" cy="170" r="1.45" fill="none" stroke="#e8392b" stroke-width="1.05"/><circle cx="556.13" cy="170" r="1.45" fill="none" stroke="#e8392b" stroke-width="1.05"/><circle cx="561.91" cy="170" r="1.45" fill="none" stroke="#e8392b" stroke-width="1.05"/><circle cx="567.69" cy="170" r="1.45" fill="none" stroke="#e8392b" stroke-width="1.05"/><circle cx="573.47" cy="170" r="1.45" fill="none" stroke="#e8392b" stroke-width="1.05"/><circle cx="579.25" cy="170" r="1.45" fill="none" stroke="#e8392b" stroke-width="1.05"/><circle cx="585.03" cy="170" r="1.45" fill="none" stroke="#e8392b" stroke-width="1.05"/><circle cx="590.81" cy="170" r="1.45" fill="none" stroke="#e8392b" stroke-width="1.05"/><circle cx="596.59" cy="170" r="1.45" fill="none" stroke="#e8392b" stroke-width="1.05"/><circle cx="602.37" cy="170" r="1.45" fill="none" stroke="#e8392b" stroke-width="1.05"/><circle cx="608.14" cy="170" r="1.45" fill="none" stroke="#e8392b" stroke-width="1.05"/><circle cx="613.92" cy="170" r="1.45" fill="none" stroke="#e8392b" stroke-width="1.05"/><circle cx="619.7" cy="170" r="1.45" fill="none" stroke="#e8392b" stroke-width="1.05"/><circle cx="625.48" cy="170" r="1.45" fill="none" stroke="#e8392b" stroke-width="1.05"/><circle cx="631.26" cy="170" r="1.45" fill="none" stroke="#e8392b" stroke-width="1.05"/><circle cx="637.04" cy="170" r="1.45" fill="none" stroke="#e8392b" stroke-width="1.05"/><circle cx="642.82" cy="170" r="1.45" fill="none" stroke="#e8392b" stroke-width="1.05"/><circle cx="648.6" cy="170" r="1.45" fill="none" stroke="#e8392b" stroke-width="1.05"/><circle cx="654.38" cy="170" r="1.45" fill="none" stroke="#e8392b" stroke-width="1.05"/><circle cx="660.16" cy="170" r="1.45" fill="none" stroke="#e8392b" stroke-width="1.05"/><circle cx="665.94" cy="170" r="1.45" fill="none" stroke="#e8392b" stroke-width="1.05"/><circle cx="671.72" cy="170" r="1.45" fill="none" stroke="#e8392b" stroke-width="1.05"/><circle cx="677.5" cy="170" r="1.45" fill="none" stroke="#e8392b" stroke-width="1.05"/>
<path d="M394.3 9.9 L400.08 16.1 L411.64 16.5 L423.2 19.4 L452.1 20.3 L457.88 24.2 L463.66 28.2 L469.43 28.6 L475.21 31.9 L480.99 35.7 L486.77 46.7 L492.55 62.3 L498.33 65 L504.11 67.2 L509.89 74.9 L515.67 90.3 L521.45 92.1 L540 92.5 L677.5 92.5" fill="none" stroke="#a6d255" stroke-width="0.9" stroke-linejoin="round"/>
<rect x="393.35" y="8.95" width="1.9" height="1.9" fill="#a6d255"/><rect x="399.13" y="15.15" width="1.9" height="1.9" fill="#a6d255"/><rect x="404.91" y="15.35" width="1.9" height="1.9" fill="#a6d255"/><rect x="410.69" y="15.55" width="1.9" height="1.9" fill="#a6d255"/><rect x="416.47" y="17" width="1.9" height="1.9" fill="#a6d255"/><rect x="422.25" y="18.45" width="1.9" height="1.9" fill="#a6d255"/><rect x="428.03" y="18.63" width="1.9" height="1.9" fill="#a6d255"/><rect x="433.81" y="18.81" width="1.9" height="1.9" fill="#a6d255"/><rect x="439.59" y="18.99" width="1.9" height="1.9" fill="#a6d255"/><rect x="445.37" y="19.17" width="1.9" height="1.9" fill="#a6d255"/><rect x="451.15" y="19.35" width="1.9" height="1.9" fill="#a6d255"/><rect x="456.93" y="23.25" width="1.9" height="1.9" fill="#a6d255"/><rect x="462.71" y="27.25" width="1.9" height="1.9" fill="#a6d255"/><rect x="468.48" y="27.65" width="1.9" height="1.9" fill="#a6d255"/><rect x="474.26" y="30.95" width="1.9" height="1.9" fill="#a6d255"/><rect x="480.04" y="34.75" width="1.9" height="1.9" fill="#a6d255"/><rect x="485.82" y="45.75" width="1.9" height="1.9" fill="#a6d255"/><rect x="491.6" y="61.35" width="1.9" height="1.9" fill="#a6d255"/><rect x="497.38" y="64.05" width="1.9" height="1.9" fill="#a6d255"/><rect x="503.16" y="66.25" width="1.9" height="1.9" fill="#a6d255"/><rect x="508.94" y="73.95" width="1.9" height="1.9" fill="#a6d255"/><rect x="514.72" y="89.35" width="1.9" height="1.9" fill="#a6d255"/><rect x="520.5" y="91.15" width="1.9" height="1.9" fill="#a6d255"/><rect x="526.28" y="91.27" width="1.9" height="1.9" fill="#a6d255"/><rect x="532.06" y="91.4" width="1.9" height="1.9" fill="#a6d255"/><rect x="537.84" y="91.52" width="1.9" height="1.9" fill="#a6d255"/><rect x="543.62" y="91.55" width="1.9" height="1.9" fill="#a6d255"/><rect x="549.4" y="91.55" width="1.9" height="1.9" fill="#a6d255"/><rect x="555.18" y="91.55" width="1.9" height="1.9" fill="#a6d255"/><rect x="560.96" y="91.55" width="1.9" height="1.9" fill="#a6d255"/><rect x="566.74" y="91.55" width="1.9" height="1.9" fill="#a6d255"/><rect x="572.52" y="91.55" width="1.9" height="1.9" fill="#a6d255"/><rect x="578.3" y="91.55" width="1.9" height="1.9" fill="#a6d255"/><rect x="584.08" y="91.55" width="1.9" height="1.9" fill="#a6d255"/><rect x="589.86" y="91.55" width="1.9" height="1.9" fill="#a6d255"/><rect x="595.64" y="91.55" width="1.9" height="1.9" fill="#a6d255"/><rect x="601.42" y="91.55" width="1.9" height="1.9" fill="#a6d255"/><rect x="607.19" y="91.55" width="1.9" height="1.9" fill="#a6d255"/><rect x="612.97" y="91.55" width="1.9" height="1.9" fill="#a6d255"/><rect x="618.75" y="91.55" width="1.9" height="1.9" fill="#a6d255"/><rect x="624.53" y="91.55" width="1.9" height="1.9" fill="#a6d255"/><rect x="630.31" y="91.55" width="1.9" height="1.9" fill="#a6d255"/><rect x="636.09" y="91.55" width="1.9" height="1.9" fill="#a6d255"/><rect x="641.87" y="91.55" width="1.9" height="1.9" fill="#a6d255"/><rect x="647.65" y="91.55" width="1.9" height="1.9" fill="#a6d255"/><rect x="653.43" y="91.55" width="1.9" height="1.9" fill="#a6d255"/><rect x="659.21" y="91.55" width="1.9" height="1.9" fill="#a6d255"/><rect x="664.99" y="91.55" width="1.9" height="1.9" fill="#a6d255"/><rect x="670.77" y="91.55" width="1.9" height="1.9" fill="#a6d255"/><rect x="676.55" y="91.55" width="1.9" height="1.9" fill="#a6d255"/>
<path d="M394.3 15.4 L400.08 35.2 L405.86 46.3 L411.64 52.9 L417.42 59 L423.2 66.1 L428.98 72.7 L434.76 78.6 L440.54 86.6 L446.32 92.5 L452.1 98.7 L457.88 103.5 L463.66 108.6 L469.43 111.9 L475.21 115.2 L486.77 117.8 L498.33 120 L521.45 121.1 L540 122.2 L556.13 123.3 L579.25 124.4 L601.1 126 L613.92 126.7 L620.9 127.8 L640.7 128.6 L667.2 130 L677.5 130.4" fill="none" stroke="#52b973" stroke-width="0.95" stroke-dasharray="1.1 0.5" stroke-linejoin="round"/>
<path d="M392.8 15.4H395.8M394.3 13.9V16.9" stroke="#52b973" stroke-width="0.8"/><path d="M398.58 35.2H401.58M400.08 33.7V36.7" stroke="#52b973" stroke-width="0.8"/><path d="M404.36 46.3H407.36M405.86 44.8V47.8" stroke="#52b973" stroke-width="0.8"/><path d="M410.14 52.9H413.14M411.64 51.4V54.4" stroke="#52b973" stroke-width="0.8"/><path d="M415.92 59H418.92M417.42 57.5V60.5" stroke="#52b973" stroke-width="0.8"/><path d="M421.7 66.1H424.7M423.2 64.6V67.6" stroke="#52b973" stroke-width="0.8"/><path d="M427.48 72.7H430.48M428.98 71.2V74.2" stroke="#52b973" stroke-width="0.8"/><path d="M433.26 78.6H436.26M434.76 77.1V80.1" stroke="#52b973" stroke-width="0.8"/><path d="M439.04 86.6H442.04M440.54 85.1V88.1" stroke="#52b973" stroke-width="0.8"/><path d="M444.82 92.5H447.82M446.32 91V94" stroke="#52b973" stroke-width="0.8"/><path d="M450.6 98.7H453.6M452.1 97.2V100.2" stroke="#52b973" stroke-width="0.8"/><path d="M456.38 103.5H459.38M457.88 102V105" stroke="#52b973" stroke-width="0.8"/><path d="M462.16 108.6H465.16M463.66 107.1V110.1" stroke="#52b973" stroke-width="0.8"/><path d="M467.93 111.9H470.93M469.43 110.4V113.4" stroke="#52b973" stroke-width="0.8"/><path d="M473.71 115.2H476.71M475.21 113.7V116.7" stroke="#52b973" stroke-width="0.8"/><path d="M479.49 116.5H482.49M480.99 115V118" stroke="#52b973" stroke-width="0.8"/><path d="M485.27 117.8H488.27M486.77 116.3V119.3" stroke="#52b973" stroke-width="0.8"/><path d="M491.05 118.9H494.05M492.55 117.4V120.4" stroke="#52b973" stroke-width="0.8"/><path d="M496.83 120H499.83M498.33 118.5V121.5" stroke="#52b973" stroke-width="0.8"/><path d="M502.61 120.28H505.61M504.11 118.78V121.78" stroke="#52b973" stroke-width="0.8"/><path d="M508.39 120.55H511.39M509.89 119.05V122.05" stroke="#52b973" stroke-width="0.8"/><path d="M514.17 120.83H517.17M515.67 119.33V122.33" stroke="#52b973" stroke-width="0.8"/><path d="M519.95 121.1H522.95M521.45 119.6V122.6" stroke="#52b973" stroke-width="0.8"/><path d="M525.73 121.44H528.73M527.23 119.94V122.94" stroke="#52b973" stroke-width="0.8"/><path d="M531.51 121.79H534.51M533.01 120.29V123.29" stroke="#52b973" stroke-width="0.8"/><path d="M537.29 122.13H540.29M538.79 120.63V123.63" stroke="#52b973" stroke-width="0.8"/><path d="M543.07 122.51H546.07M544.57 121.01V124.01" stroke="#52b973" stroke-width="0.8"/><path d="M548.85 122.91H551.85M550.35 121.41V124.41" stroke="#52b973" stroke-width="0.8"/><path d="M554.63 123.3H557.63M556.13 121.8V124.8" stroke="#52b973" stroke-width="0.8"/><path d="M560.41 123.58H563.41M561.91 122.08V125.08" stroke="#52b973" stroke-width="0.8"/><path d="M566.19 123.85H569.19M567.69 122.35V125.35" stroke="#52b973" stroke-width="0.8"/><path d="M571.97 124.12H574.97M573.47 122.62V125.62" stroke="#52b973" stroke-width="0.8"/><path d="M577.75 124.4H580.75M579.25 122.9V125.9" stroke="#52b973" stroke-width="0.8"/><path d="M583.53 124.82H586.53M585.03 123.32V126.32" stroke="#52b973" stroke-width="0.8"/><path d="M589.31 125.25H592.31M590.81 123.75V126.75" stroke="#52b973" stroke-width="0.8"/><path d="M595.09 125.67H598.09M596.59 124.17V127.17" stroke="#52b973" stroke-width="0.8"/><path d="M600.87 126.07H603.87M602.37 124.57V127.57" stroke="#52b973" stroke-width="0.8"/><path d="M606.64 126.38H609.64M608.14 124.88V127.88" stroke="#52b973" stroke-width="0.8"/><path d="M612.42 126.7H615.42M613.92 125.2V128.2" stroke="#52b973" stroke-width="0.8"/><path d="M618.2 127.61H621.2M619.7 126.11V129.11" stroke="#52b973" stroke-width="0.8"/><path d="M623.98 127.99H626.98M625.48 126.49V129.49" stroke="#52b973" stroke-width="0.8"/><path d="M629.76 128.22H632.76M631.26 126.72V129.72" stroke="#52b973" stroke-width="0.8"/><path d="M635.54 128.45H638.54M637.04 126.95V129.95" stroke="#52b973" stroke-width="0.8"/><path d="M641.32 128.71H644.32M642.82 127.21V130.21" stroke="#52b973" stroke-width="0.8"/><path d="M647.1 129.02H650.1M648.6 127.52V130.52" stroke="#52b973" stroke-width="0.8"/><path d="M652.88 129.32H655.88M654.38 127.82V130.82" stroke="#52b973" stroke-width="0.8"/><path d="M658.66 129.63H661.66M660.16 128.13V131.13" stroke="#52b973" stroke-width="0.8"/><path d="M664.44 129.93H667.44M665.94 128.43V131.43" stroke="#52b973" stroke-width="0.8"/><path d="M670.22 130.18H673.22M671.72 128.68V131.68" stroke="#52b973" stroke-width="0.8"/><path d="M676 130.4H679M677.5 128.9V131.9" stroke="#52b973" stroke-width="0.8"/>
<path d="M394.3 8.8 L396.6 44 L400.08 73.8 L405.86 83.3 L411.64 85.9 L417.42 89.9 L423.2 92.1 L428.98 93.6 L446.32 93.6 L463.66 94.7 L486.77 95.4 L498.33 96.5 L509.89 97.4 L540 98.5 L677.5 98.5" fill="none" stroke="#1f55b5" stroke-width="0.95" stroke-dasharray="2.2 1.3" stroke-linejoin="round"/>
<circle cx="394.3" cy="8.8" r="1.55" fill="#1f55b5"/><circle cx="400.08" cy="73.8" r="1.55" fill="#1f55b5"/><circle cx="405.86" cy="83.3" r="1.55" fill="#1f55b5"/><circle cx="411.64" cy="85.9" r="1.55" fill="#1f55b5"/><circle cx="417.42" cy="89.9" r="1.55" fill="#1f55b5"/><circle cx="423.2" cy="92.1" r="1.55" fill="#1f55b5"/><circle cx="428.98" cy="93.6" r="1.55" fill="#1f55b5"/><circle cx="434.76" cy="93.6" r="1.55" fill="#1f55b5"/><circle cx="440.54" cy="93.6" r="1.55" fill="#1f55b5"/><circle cx="446.32" cy="93.6" r="1.55" fill="#1f55b5"/><circle cx="452.1" cy="93.97" r="1.55" fill="#1f55b5"/><circle cx="457.88" cy="94.33" r="1.55" fill="#1f55b5"/><circle cx="463.66" cy="94.7" r="1.55" fill="#1f55b5"/><circle cx="469.43" cy="94.88" r="1.55" fill="#1f55b5"/><circle cx="475.21" cy="95.05" r="1.55" fill="#1f55b5"/><circle cx="480.99" cy="95.23" r="1.55" fill="#1f55b5"/><circle cx="486.77" cy="95.4" r="1.55" fill="#1f55b5"/><circle cx="492.55" cy="95.95" r="1.55" fill="#1f55b5"/><circle cx="498.33" cy="96.5" r="1.55" fill="#1f55b5"/><circle cx="504.11" cy="96.95" r="1.55" fill="#1f55b5"/><circle cx="509.89" cy="97.4" r="1.55" fill="#1f55b5"/><circle cx="515.67" cy="97.61" r="1.55" fill="#1f55b5"/><circle cx="521.45" cy="97.82" r="1.55" fill="#1f55b5"/><circle cx="527.23" cy="98.03" r="1.55" fill="#1f55b5"/><circle cx="533.01" cy="98.24" r="1.55" fill="#1f55b5"/><circle cx="538.79" cy="98.46" r="1.55" fill="#1f55b5"/><circle cx="544.57" cy="98.5" r="1.55" fill="#1f55b5"/><circle cx="550.35" cy="98.5" r="1.55" fill="#1f55b5"/><circle cx="556.13" cy="98.5" r="1.55" fill="#1f55b5"/><circle cx="561.91" cy="98.5" r="1.55" fill="#1f55b5"/><circle cx="567.69" cy="98.5" r="1.55" fill="#1f55b5"/><circle cx="573.47" cy="98.5" r="1.55" fill="#1f55b5"/><circle cx="579.25" cy="98.5" r="1.55" fill="#1f55b5"/><circle cx="585.03" cy="98.5" r="1.55" fill="#1f55b5"/><circle cx="590.81" cy="98.5" r="1.55" fill="#1f55b5"/><circle cx="596.59" cy="98.5" r="1.55" fill="#1f55b5"/><circle cx="602.37" cy="98.5" r="1.55" fill="#1f55b5"/><circle cx="608.14" cy="98.5" r="1.55" fill="#1f55b5"/><circle cx="613.92" cy="98.5" r="1.55" fill="#1f55b5"/><circle cx="619.7" cy="98.5" r="1.55" fill="#1f55b5"/><circle cx="625.48" cy="98.5" r="1.55" fill="#1f55b5"/><circle cx="631.26" cy="98.5" r="1.55" fill="#1f55b5"/><circle cx="637.04" cy="98.5" r="1.55" fill="#1f55b5"/><circle cx="642.82" cy="98.5" r="1.55" fill="#1f55b5"/><circle cx="648.6" cy="98.5" r="1.55" fill="#1f55b5"/><circle cx="654.38" cy="98.5" r="1.55" fill="#1f55b5"/><circle cx="660.16" cy="98.5" r="1.55" fill="#1f55b5"/><circle cx="665.94" cy="98.5" r="1.55" fill="#1f55b5"/><circle cx="671.72" cy="98.5" r="1.55" fill="#1f55b5"/><circle cx="677.5" cy="98.5" r="1.55" fill="#1f55b5"/>
<path d="M394.3 7.7 L400.08 9.9 L405.86 12.6 L411.64 14.3 L423.2 14.5 L440.54 15.9 L452.1 16.5 L486.77 17.2 L498.33 18.1 L504.11 19.8 L515.67 21.4 L521.45 23.3 L527.23 24.7 L540 26.4 L556.13 27.5 L579.25 28 L601.1 29.1 L631.26 29.5 L677.5 31.3" fill="none" stroke="#8d40aa" stroke-width="1.2" stroke-linejoin="round"/>
<rect x="392.9" y="6.3" width="2.8" height="2.8" fill="#8d40aa" stroke="#8d40aa" stroke-width="0.3"/><rect x="398.68" y="8.5" width="2.8" height="2.8" fill="#8d40aa" stroke="#8d40aa" stroke-width="0.3"/><rect x="404.46" y="11.2" width="2.8" height="2.8" fill="#8d40aa" stroke="#8d40aa" stroke-width="0.3"/><rect x="410.24" y="12.9" width="2.8" height="2.8" fill="#8d40aa" stroke="#8d40aa" stroke-width="0.3"/><rect x="416.02" y="13" width="2.8" height="2.8" fill="#8d40aa" stroke="#8d40aa" stroke-width="0.3"/><rect x="421.8" y="13.1" width="2.8" height="2.8" fill="#8d40aa" stroke="#8d40aa" stroke-width="0.3"/><rect x="427.58" y="13.57" width="2.8" height="2.8" fill="#8d40aa" stroke="#8d40aa" stroke-width="0.3"/><rect x="433.36" y="14.03" width="2.8" height="2.8" fill="#8d40aa" stroke="#8d40aa" stroke-width="0.3"/><rect x="439.14" y="14.5" width="2.8" height="2.8" fill="#8d40aa" stroke="#8d40aa" stroke-width="0.3"/><rect x="444.92" y="14.8" width="2.8" height="2.8" fill="#8d40aa" stroke="#8d40aa" stroke-width="0.3"/><rect x="450.7" y="15.1" width="2.8" height="2.8" fill="#8d40aa" stroke="#8d40aa" stroke-width="0.3"/><rect x="456.48" y="15.22" width="2.8" height="2.8" fill="#8d40aa" stroke="#8d40aa" stroke-width="0.3"/><rect x="462.26" y="15.33" width="2.8" height="2.8" fill="#8d40aa" stroke="#8d40aa" stroke-width="0.3"/><rect x="468.03" y="15.45" width="2.8" height="2.8" fill="#8d40aa" stroke="#8d40aa" stroke-width="0.3"/><rect x="473.81" y="15.57" width="2.8" height="2.8" fill="#8d40aa" stroke="#8d40aa" stroke-width="0.3"/><rect x="479.59" y="15.68" width="2.8" height="2.8" fill="#8d40aa" stroke="#8d40aa" stroke-width="0.3"/><rect x="485.37" y="15.8" width="2.8" height="2.8" fill="#8d40aa" stroke="#8d40aa" stroke-width="0.3"/><rect x="491.15" y="16.25" width="2.8" height="2.8" fill="#8d40aa" stroke="#8d40aa" stroke-width="0.3"/><rect x="496.93" y="16.7" width="2.8" height="2.8" fill="#8d40aa" stroke="#8d40aa" stroke-width="0.3"/><rect x="502.71" y="18.4" width="2.8" height="2.8" fill="#8d40aa" stroke="#8d40aa" stroke-width="0.3"/><rect x="508.49" y="19.2" width="2.8" height="2.8" fill="#8d40aa" stroke="#8d40aa" stroke-width="0.3"/><rect x="514.27" y="20" width="2.8" height="2.8" fill="#8d40aa" stroke="#8d40aa" stroke-width="0.3"/><rect x="520.05" y="21.9" width="2.8" height="2.8" fill="#8d40aa" stroke="#8d40aa" stroke-width="0.3"/><rect x="525.83" y="23.3" width="2.8" height="2.8" fill="#8d40aa" stroke="#8d40aa" stroke-width="0.3"/><rect x="531.61" y="24.07" width="2.8" height="2.8" fill="#8d40aa" stroke="#8d40aa" stroke-width="0.3"/><rect x="537.39" y="24.84" width="2.8" height="2.8" fill="#8d40aa" stroke="#8d40aa" stroke-width="0.3"/><rect x="543.17" y="25.31" width="2.8" height="2.8" fill="#8d40aa" stroke="#8d40aa" stroke-width="0.3"/><rect x="548.95" y="25.71" width="2.8" height="2.8" fill="#8d40aa" stroke="#8d40aa" stroke-width="0.3"/><rect x="554.73" y="26.1" width="2.8" height="2.8" fill="#8d40aa" stroke="#8d40aa" stroke-width="0.3"/><rect x="560.51" y="26.23" width="2.8" height="2.8" fill="#8d40aa" stroke="#8d40aa" stroke-width="0.3"/><rect x="566.29" y="26.35" width="2.8" height="2.8" fill="#8d40aa" stroke="#8d40aa" stroke-width="0.3"/><rect x="572.07" y="26.48" width="2.8" height="2.8" fill="#8d40aa" stroke="#8d40aa" stroke-width="0.3"/><rect x="577.85" y="26.6" width="2.8" height="2.8" fill="#8d40aa" stroke="#8d40aa" stroke-width="0.3"/><rect x="583.63" y="26.89" width="2.8" height="2.8" fill="#8d40aa" stroke="#8d40aa" stroke-width="0.3"/><rect x="589.41" y="27.18" width="2.8" height="2.8" fill="#8d40aa" stroke="#8d40aa" stroke-width="0.3"/><rect x="595.19" y="27.47" width="2.8" height="2.8" fill="#8d40aa" stroke="#8d40aa" stroke-width="0.3"/><rect x="600.97" y="27.72" width="2.8" height="2.8" fill="#8d40aa" stroke="#8d40aa" stroke-width="0.3"/><rect x="606.74" y="27.79" width="2.8" height="2.8" fill="#8d40aa" stroke="#8d40aa" stroke-width="0.3"/><rect x="612.52" y="27.87" width="2.8" height="2.8" fill="#8d40aa" stroke="#8d40aa" stroke-width="0.3"/><rect x="618.3" y="27.95" width="2.8" height="2.8" fill="#8d40aa" stroke="#8d40aa" stroke-width="0.3"/><rect x="624.08" y="28.02" width="2.8" height="2.8" fill="#8d40aa" stroke="#8d40aa" stroke-width="0.3"/><rect x="629.86" y="28.1" width="2.8" height="2.8" fill="#8d40aa" stroke="#8d40aa" stroke-width="0.3"/><rect x="635.64" y="28.33" width="2.8" height="2.8" fill="#8d40aa" stroke="#8d40aa" stroke-width="0.3"/><rect x="641.42" y="28.55" width="2.8" height="2.8" fill="#8d40aa" stroke="#8d40aa" stroke-width="0.3"/><rect x="647.2" y="28.78" width="2.8" height="2.8" fill="#8d40aa" stroke="#8d40aa" stroke-width="0.3"/><rect x="652.98" y="29" width="2.8" height="2.8" fill="#8d40aa" stroke="#8d40aa" stroke-width="0.3"/><rect x="658.76" y="29.23" width="2.8" height="2.8" fill="#8d40aa" stroke="#8d40aa" stroke-width="0.3"/><rect x="664.54" y="29.45" width="2.8" height="2.8" fill="#8d40aa" stroke="#8d40aa" stroke-width="0.3"/><rect x="670.32" y="29.68" width="2.8" height="2.8" fill="#8d40aa" stroke="#8d40aa" stroke-width="0.3"/><rect x="676.1" y="29.9" width="2.8" height="2.8" fill="#8d40aa" stroke="#8d40aa" stroke-width="0.3"/>
</g>
<rect x="635.7" y="10.6" width="38.5" height="30.6" fill="#fff" stroke="#555" stroke-width="0.8"/>
<path d="M636.8 14.3H648.4" stroke="#e8392b" stroke-width="1.1"/>
<circle cx="642.6" cy="14.3" r="1.23" fill="none" stroke="#e8392b" stroke-width="0.89"/>
<text x="650" y="16.1" font-size="5.3" font-weight="normal" fill="#444">WOACBA</text>
<path d="M636.8 20.3H648.4" stroke="#a6d255" stroke-width="0.9"/>
<rect x="641.79" y="19.49" width="1.61" height="1.61" fill="#a6d255"/>
<text x="650" y="22.1" font-size="5.3" font-weight="normal" fill="#444">WOA</text>
<path d="M636.8 26H648.4" stroke="#52b973" stroke-width="0.95" stroke-dasharray="1.1 0.5"/>
<path d="M641.32 26H643.87M642.6 24.73V27.27" stroke="#52b973" stroke-width="0.68"/>
<text x="650" y="27.8" font-size="5.3" font-weight="normal" fill="#444">BA</text>
<path d="M636.8 32.2H648.4" stroke="#1f55b5" stroke-width="0.95" stroke-dasharray="2.2 1.3"/>
<circle cx="642.6" cy="32.2" r="1.32" fill="#1f55b5"/>
<text x="650" y="34" font-size="5.3" font-weight="normal" fill="#444">PSO</text>
<path d="M636.8 38.1H648.4" stroke="#8d40aa" stroke-width="1.2"/>
<rect x="641.41" y="36.91" width="2.38" height="2.38" fill="#8d40aa" stroke="#8d40aa" stroke-width="0.3"/>
<text x="650" y="39.9" font-size="5.3" font-weight="normal" fill="#444">GA</text>
<path d="M38.74 371.4V374.7M38.74 207.6V204.3M48.18 371.4V374.7M48.18 207.6V204.3M57.62 371.4V374.7M57.62 207.6V204.3M67.06 371.4V374.7M67.06 207.6V204.3M76.5 371.4V377.6M76.5 207.6V201.4M85.94 371.4V374.7M85.94 207.6V204.3M95.38 371.4V374.7M95.38 207.6V204.3M104.82 371.4V374.7M104.82 207.6V204.3M114.26 371.4V374.7M114.26 207.6V204.3M123.7 371.4V377.6M123.7 207.6V201.4M133.14 371.4V374.7M133.14 207.6V204.3M142.58 371.4V374.7M142.58 207.6V204.3M152.02 371.4V374.7M152.02 207.6V204.3M161.46 371.4V374.7M161.46 207.6V204.3M170.9 371.4V377.6M170.9 207.6V201.4M180.34 371.4V374.7M180.34 207.6V204.3M189.78 371.4V374.7M189.78 207.6V204.3M199.22 371.4V374.7M199.22 207.6V204.3M208.66 371.4V374.7M208.66 207.6V204.3M218.1 371.4V377.6M218.1 207.6V201.4M227.54 371.4V374.7M227.54 207.6V204.3M236.98 371.4V374.7M236.98 207.6V204.3M246.42 371.4V374.7M246.42 207.6V204.3M255.86 371.4V374.7M255.86 207.6V204.3M265.3 371.4V377.6M265.3 207.6V201.4M274.74 371.4V374.7M274.74 207.6V204.3M284.18 371.4V374.7M284.18 207.6V204.3M293.62 371.4V374.7M293.62 207.6V204.3M303.06 371.4V374.7M303.06 207.6V204.3M312.5 371.4V377.6M312.5 207.6V201.4M29.3 371.03H26M312.5 371.03H315.8M29.3 369.45H26M312.5 369.45H315.8M29.3 368.12H26M312.5 368.12H315.8M29.3 366.97H26M312.5 366.97H315.8M29.3 365.96H26M312.5 365.96H315.8M29.3 365.05H23.1M312.5 365.05H318.7M29.3 359.07H26M312.5 359.07H315.8M29.3 355.58H26M312.5 355.58H315.8M29.3 353.1H26M312.5 353.1H315.8M29.3 351.18H26M312.5 351.18H315.8M29.3 349.6H26M312.5 349.6H315.8M29.3 348.27H26M312.5 348.27H315.8M29.3 347.12H26M312.5 347.12H315.8M29.3 346.11H26M312.5 346.11H315.8M29.3 345.2H23.1M312.5 345.2H318.7M29.3 339.22H26M312.5 339.22H315.8M29.3 335.73H26M312.5 335.73H315.8M29.3 333.25H26M312.5 333.25H315.8M29.3 331.33H26M312.5 331.33H315.8M29.3 329.75H26M312.5 329.75H315.8M29.3 328.42H26M312.5 328.42H315.8M29.3 327.27H26M312.5 327.27H315.8M29.3 326.26H26M312.5 326.26H315.8M29.3 325.35H23.1M312.5 325.35H318.7M29.3 319.37H26M312.5 319.37H315.8M29.3 315.88H26M312.5 315.88H315.8M29.3 313.4H26M312.5 313.4H315.8M29.3 311.48H26M312.5 311.48H315.8M29.3 309.9H26M312.5 309.9H315.8M29.3 308.57H26M312.5 308.57H315.8M29.3 307.42H26M312.5 307.42H315.8M29.3 306.41H26M312.5 306.41H315.8M29.3 305.5H23.1M312.5 305.5H318.7M29.3 299.52H26M312.5 299.52H315.8M29.3 296.03H26M312.5 296.03H315.8M29.3 293.55H26M312.5 293.55H315.8M29.3 291.63H26M312.5 291.63H315.8M29.3 290.05H26M312.5 290.05H315.8M29.3 288.72H26M312.5 288.72H315.8M29.3 287.57H26M312.5 287.57H315.8M29.3 286.56H26M312.5 286.56H315.8M29.3 285.65H23.1M312.5 285.65H318.7M29.3 279.67H26M312.5 279.67H315.8M29.3 276.18H26M312.5 276.18H315.8M29.3 273.7H26M312.5 273.7H315.8M29.3 271.78H26M312.5 271.78H315.8M29.3 270.2H26M312.5 270.2H315.8M29.3 268.87H26M312.5 268.87H315.8M29.3 267.72H26M312.5 267.72H315.8M29.3 266.71H26M312.5 266.71H315.8M29.3 265.8H23.1M312.5 265.8H318.7M29.3 259.82H26M312.5 259.82H315.8M29.3 256.33H26M312.5 256.33H315.8M29.3 253.85H26M312.5 253.85H315.8M29.3 251.93H26M312.5 251.93H315.8M29.3 250.35H26M312.5 250.35H315.8M29.3 249.02H26M312.5 249.02H315.8M29.3 247.87H26M312.5 247.87H315.8M29.3 246.86H26M312.5 246.86H315.8M29.3 245.95H23.1M312.5 245.95H318.7M29.3 239.97H26M312.5 239.97H315.8M29.3 236.48H26M312.5 236.48H315.8M29.3 234H26M312.5 234H315.8M29.3 232.08H26M312.5 232.08H315.8M29.3 230.5H26M312.5 230.5H315.8M29.3 229.17H26M312.5 229.17H315.8M29.3 228.02H26M312.5 228.02H315.8M29.3 227.01H26M312.5 227.01H315.8M29.3 226.1H23.1M312.5 226.1H318.7M29.3 220.12H26M312.5 220.12H315.8M29.3 216.63H26M312.5 216.63H315.8M29.3 214.15H26M312.5 214.15H315.8M29.3 212.23H26M312.5 212.23H315.8M29.3 210.65H26M312.5 210.65H315.8M29.3 209.32H26M312.5 209.32H315.8M29.3 208.17H26M312.5 208.17H315.8" stroke="#868686" stroke-width="0.95" fill="none"/>
<text x="76.5" y="384.7" font-size="5.5" text-anchor="middle" font-weight="normal" fill="#3c3c3c" stroke="#3c3c3c" stroke-width="0.22">500</text>
<text x="123.7" y="384.7" font-size="5.5" text-anchor="middle" font-weight="normal" fill="#3c3c3c" stroke="#3c3c3c" stroke-width="0.22">1000</text>
<text x="170.9" y="384.7" font-size="5.5" text-anchor="middle" font-weight="normal" fill="#3c3c3c" stroke="#3c3c3c" stroke-width="0.22">1500</text>
<text x="218.1" y="384.7" font-size="5.5" text-anchor="middle" font-weight="normal" fill="#3c3c3c" stroke="#3c3c3c" stroke-width="0.22">2000</text>
<text x="265.3" y="384.7" font-size="5.5" text-anchor="middle" font-weight="normal" fill="#3c3c3c" stroke="#3c3c3c" stroke-width="0.22">2500</text>
<text x="312.5" y="384.7" font-size="5.5" text-anchor="middle" font-weight="normal" fill="#3c3c3c" stroke="#3c3c3c" stroke-width="0.22">3000</text>
<text x="170.9" y="391.4" font-size="6" text-anchor="middle" font-weight="bold" fill="#5a5a5a" stroke="#5a5a5a" stroke-width="0.22">Iteration</text>
<text x="0" y="0" font-size="6.0" text-anchor="middle" font-weight="bold" fill="#5a5a5a" stroke="#5a5a5a" stroke-width="0.18" transform="translate(6.9 288.4) rotate(-90)" dominant-baseline="central">Best score obtained so far</text>
<text x="170.9" y="205.9" font-size="6.6" text-anchor="middle" font-weight="bold" fill="#222" stroke="#222" stroke-width="0.22">f6</text>
<text x="20.3" y="229.01" font-size="5.8" text-anchor="end" font-weight="normal" fill="#3c3c3c" stroke="#3c3c3c" stroke-width="0.22">10<tspan font-size="4.06" dy="-2.9">4</tspan></text>
<text x="20.3" y="248.86" font-size="5.8" text-anchor="end" font-weight="normal" fill="#3c3c3c" stroke="#3c3c3c" stroke-width="0.22">10<tspan font-size="4.06" dy="-2.9">3</tspan></text>
<text x="20.3" y="268.71" font-size="5.8" text-anchor="end" font-weight="normal" fill="#3c3c3c" stroke="#3c3c3c" stroke-width="0.22">10<tspan font-size="4.06" dy="-2.9">2</tspan></text>
<text x="20.3" y="288.56" font-size="5.8" text-anchor="end" font-weight="normal" fill="#3c3c3c" stroke="#3c3c3c" stroke-width="0.22">10<tspan font-size="4.06" dy="-2.9">1</tspan></text>
<text x="20.3" y="308.41" font-size="5.8" text-anchor="end" font-weight="normal" fill="#3c3c3c" stroke="#3c3c3c" stroke-width="0.22">10<tspan font-size="4.06" dy="-2.9">0</tspan></text>
<text x="20.3" y="328.26" font-size="5.8" text-anchor="end" font-weight="normal" fill="#3c3c3c" stroke="#3c3c3c" stroke-width="0.22">10<tspan font-size="4.06" dy="-2.9">-1</tspan></text>
<text x="20.3" y="348.11" font-size="5.8" text-anchor="end" font-weight="normal" fill="#3c3c3c" stroke="#3c3c3c" stroke-width="0.22">10<tspan font-size="4.06" dy="-2.9">-2</tspan></text>
<text x="20.3" y="367.96" font-size="5.8" text-anchor="end" font-weight="normal" fill="#3c3c3c" stroke="#3c3c3c" stroke-width="0.22">10<tspan font-size="4.06" dy="-2.9">-3</tspan></text>
<rect x="29.3" y="207.6" width="283.2" height="163.8" fill="none" stroke="#868686" stroke-width="1.2"/>
<clipPath id="cf6"><rect x="27.3" y="205.1" width="287.2" height="168.8"/></clipPath>
<g clip-path="url(#cf6)">
<path d="M29.3 211.3 L35.08 297.6 L40.86 312.5 L46.64 319.3 L52.42 323.1 L58.2 326.5 L63.98 329.8 L69.76 335 L75.54 338 L80 341.6 L87.1 346.3 L92.88 349.2 L98.66 351.8 L104.43 354.3 L110.21 356.5 L115.99 359.4 L121.77 362.3 L127.55 363.5 L133.33 365.5 L139.11 367.4 L144.89 369.3 L150.67 370.1 L156.45 370.6 L165 371 L312.5 371" fill="none" stroke="#e8392b" stroke-width="1.1" stroke-linejoin="round"/>
<circle cx="29.3" cy="211.3" r="1.45" fill="none" stroke="#e8392b" stroke-width="1.05"/><circle cx="35.08" cy="297.6" r="1.45" fill="none" stroke="#e8392b" stroke-width="1.05"/><circle cx="40.86" cy="312.5" r="1.45" fill="none" stroke="#e8392b" stroke-width="1.05"/><circle cx="46.64" cy="319.3" r="1.45" fill="none" stroke="#e8392b" stroke-width="1.05"/><circle cx="52.42" cy="323.1" r="1.45" fill="none" stroke="#e8392b" stroke-width="1.05"/><circle cx="58.2" cy="326.5" r="1.45" fill="none" stroke="#e8392b" stroke-width="1.05"/><circle cx="63.98" cy="329.8" r="1.45" fill="none" stroke="#e8392b" stroke-width="1.05"/><circle cx="69.76" cy="335" r="1.45" fill="none" stroke="#e8392b" stroke-width="1.05"/><circle cx="75.54" cy="338" r="1.45" fill="none" stroke="#e8392b" stroke-width="1.05"/><circle cx="81.32" cy="342.47" r="1.45" fill="none" stroke="#e8392b" stroke-width="1.05"/><circle cx="87.1" cy="346.3" r="1.45" fill="none" stroke="#e8392b" stroke-width="1.05"/><circle cx="92.88" cy="349.2" r="1.45" fill="none" stroke="#e8392b" stroke-width="1.05"/><circle cx="98.66" cy="351.8" r="1.45" fill="none" stroke="#e8392b" stroke-width="1.05"/><circle cx="104.43" cy="354.3" r="1.45" fill="none" stroke="#e8392b" stroke-width="1.05"/><circle cx="110.21" cy="356.5" r="1.45" fill="none" stroke="#e8392b" stroke-width="1.05"/><circle cx="115.99" cy="359.4" r="1.45" fill="none" stroke="#e8392b" stroke-width="1.05"/><circle cx="121.77" cy="362.3" r="1.45" fill="none" stroke="#e8392b" stroke-width="1.05"/><circle cx="127.55" cy="363.5" r="1.45" fill="none" stroke="#e8392b" stroke-width="1.05"/><circle cx="133.33" cy="365.5" r="1.45" fill="none" stroke="#e8392b" stroke-width="1.05"/><circle cx="139.11" cy="367.4" r="1.45" fill="none" stroke="#e8392b" stroke-width="1.05"/><circle cx="144.89" cy="369.3" r="1.45" fill="none" stroke="#e8392b" stroke-width="1.05"/><circle cx="150.67" cy="370.1" r="1.45" fill="none" stroke="#e8392b" stroke-width="1.05"/><circle cx="156.45" cy="370.6" r="1.45" fill="none" stroke="#e8392b" stroke-width="1.05"/><circle cx="162.23" cy="370.87" r="1.45" fill="none" stroke="#e8392b" stroke-width="1.05"/><circle cx="168.01" cy="371" r="1.45" fill="none" stroke="#e8392b" stroke-width="1.05"/><circle cx="173.79" cy="371" r="1.45" fill="none" stroke="#e8392b" stroke-width="1.05"/><circle cx="179.57" cy="371" r="1.45" fill="none" stroke="#e8392b" stroke-width="1.05"/><circle cx="185.35" cy="371" r="1.45" fill="none" stroke="#e8392b" stroke-width="1.05"/><circle cx="191.13" cy="371" r="1.45" fill="none" stroke="#e8392b" stroke-width="1.05"/><circle cx="196.91" cy="371" r="1.45" fill="none" stroke="#e8392b" stroke-width="1.05"/><circle cx="202.69" cy="371" r="1.45" fill="none" stroke="#e8392b" stroke-width="1.05"/><circle cx="208.47" cy="371" r="1.45" fill="none" stroke="#e8392b" stroke-width="1.05"/><circle cx="214.25" cy="371" r="1.45" fill="none" stroke="#e8392b" stroke-width="1.05"/><circle cx="220.03" cy="371" r="1.45" fill="none" stroke="#e8392b" stroke-width="1.05"/><circle cx="225.81" cy="371" r="1.45" fill="none" stroke="#e8392b" stroke-width="1.05"/><circle cx="231.59" cy="371" r="1.45" fill="none" stroke="#e8392b" stroke-width="1.05"/><circle cx="237.37" cy="371" r="1.45" fill="none" stroke="#e8392b" stroke-width="1.05"/><circle cx="243.14" cy="371" r="1.45" fill="none" stroke="#e8392b" stroke-width="1.05"/><circle cx="248.92" cy="371" r="1.45" fill="none" stroke="#e8392b" stroke-width="1.05"/><circle cx="254.7" cy="371" r="1.45" fill="none" stroke="#e8392b" stroke-width="1.05"/><circle cx="260.48" cy="371" r="1.45" fill="none" stroke="#e8392b" stroke-width="1.05"/><circle cx="266.26" cy="371" r="1.45" fill="none" stroke="#e8392b" stroke-width="1.05"/><circle cx="272.04" cy="371" r="1.45" fill="none" stroke="#e8392b" stroke-width="1.05"/><circle cx="277.82" cy="371" r="1.45" fill="none" stroke="#e8392b" stroke-width="1.05"/><circle cx="283.6" cy="371" r="1.45" fill="none" stroke="#e8392b" stroke-width="1.05"/><circle cx="289.38" cy="371" r="1.45" fill="none" stroke="#e8392b" stroke-width="1.05"/><circle cx="295.16" cy="371" r="1.45" fill="none" stroke="#e8392b" stroke-width="1.05"/><circle cx="300.94" cy="371" r="1.45" fill="none" stroke="#e8392b" stroke-width="1.05"/><circle cx="306.72" cy="371" r="1.45" fill="none" stroke="#e8392b" stroke-width="1.05"/><circle cx="312.5" cy="371" r="1.45" fill="none" stroke="#e8392b" stroke-width="1.05"/>
<path d="M29.3 210.2 L35.08 292.8 L40.86 306.1 L46.64 312.9 L52.42 317.3 L58.2 319.9 L63.98 323.9 L69.76 329.6 L75.54 334 L81.32 339 L87.1 343.4 L92.88 346 L98.66 348.8 L104.43 351.7 L110.21 354.3 L115.99 356.9 L121.77 358.7 L127.55 360.9 L133.33 363.1 L139.11 364.5 L144.89 367 L150.67 367.9 L156.45 369.6 L162.23 370.4 L312.5 370.4" fill="none" stroke="#a6d255" stroke-width="0.9" stroke-linejoin="round"/>
<rect x="28.35" y="209.25" width="1.9" height="1.9" fill="#a6d255"/><rect x="34.13" y="291.85" width="1.9" height="1.9" fill="#a6d255"/><rect x="39.91" y="305.15" width="1.9" height="1.9" fill="#a6d255"/><rect x="45.69" y="311.95" width="1.9" height="1.9" fill="#a6d255"/><rect x="51.47" y="316.35" width="1.9" height="1.9" fill="#a6d255"/><rect x="57.25" y="318.95" width="1.9" height="1.9" fill="#a6d255"/><rect x="63.03" y="322.95" width="1.9" height="1.9" fill="#a6d255"/><rect x="68.81" y="328.65" width="1.9" height="1.9" fill="#a6d255"/><rect x="74.59" y="333.05" width="1.9" height="1.9" fill="#a6d255"/><rect x="80.37" y="338.05" width="1.9" height="1.9" fill="#a6d255"/><rect x="86.15" y="342.45" width="1.9" height="1.9" fill="#a6d255"/><rect x="91.93" y="345.05" width="1.9" height="1.9" fill="#a6d255"/><rect x="97.71" y="347.85" width="1.9" height="1.9" fill="#a6d255"/><rect x="103.48" y="350.75" width="1.9" height="1.9" fill="#a6d255"/><rect x="109.26" y="353.35" width="1.9" height="1.9" fill="#a6d255"/><rect x="115.04" y="355.95" width="1.9" height="1.9" fill="#a6d255"/><rect x="120.82" y="357.75" width="1.9" height="1.9" fill="#a6d255"/><rect x="126.6" y="359.95" width="1.9" height="1.9" fill="#a6d255"/><rect x="132.38" y="362.15" width="1.9" height="1.9" fill="#a6d255"/><rect x="138.16" y="363.55" width="1.9" height="1.9" fill="#a6d255"/><rect x="143.94" y="366.05" width="1.9" height="1.9" fill="#a6d255"/><rect x="149.72" y="366.95" width="1.9" height="1.9" fill="#a6d255"/><rect x="155.5" y="368.65" width="1.9" height="1.9" fill="#a6d255"/><rect x="161.28" y="369.45" width="1.9" height="1.9" fill="#a6d255"/><rect x="167.06" y="369.45" width="1.9" height="1.9" fill="#a6d255"/><rect x="172.84" y="369.45" width="1.9" height="1.9" fill="#a6d255"/><rect x="178.62" y="369.45" width="1.9" height="1.9" fill="#a6d255"/><rect x="184.4" y="369.45" width="1.9" height="1.9" fill="#a6d255"/><rect x="190.18" y="369.45" width="1.9" height="1.9" fill="#a6d255"/><rect x="195.96" y="369.45" width="1.9" height="1.9" fill="#a6d255"/><rect x="201.74" y="369.45" width="1.9" height="1.9" fill="#a6d255"/><rect x="207.52" y="369.45" width="1.9" height="1.9" fill="#a6d255"/><rect x="213.3" y="369.45" width="1.9" height="1.9" fill="#a6d255"/><rect x="219.08" y="369.45" width="1.9" height="1.9" fill="#a6d255"/><rect x="224.86" y="369.45" width="1.9" height="1.9" fill="#a6d255"/><rect x="230.64" y="369.45" width="1.9" height="1.9" fill="#a6d255"/><rect x="236.42" y="369.45" width="1.9" height="1.9" fill="#a6d255"/><rect x="242.19" y="369.45" width="1.9" height="1.9" fill="#a6d255"/><rect x="247.97" y="369.45" width="1.9" height="1.9" fill="#a6d255"/><rect x="253.75" y="369.45" width="1.9" height="1.9" fill="#a6d255"/><rect x="259.53" y="369.45" width="1.9" height="1.9" fill="#a6d255"/><rect x="265.31" y="369.45" width="1.9" height="1.9" fill="#a6d255"/><rect x="271.09" y="369.45" width="1.9" height="1.9" fill="#a6d255"/><rect x="276.87" y="369.45" width="1.9" height="1.9" fill="#a6d255"/><rect x="282.65" y="369.45" width="1.9" height="1.9" fill="#a6d255"/><rect x="288.43" y="369.45" width="1.9" height="1.9" fill="#a6d255"/><rect x="294.21" y="369.45" width="1.9" height="1.9" fill="#a6d255"/><rect x="299.99" y="369.45" width="1.9" height="1.9" fill="#a6d255"/><rect x="305.77" y="369.45" width="1.9" height="1.9" fill="#a6d255"/><rect x="311.55" y="369.45" width="1.9" height="1.9" fill="#a6d255"/>
<path d="M29.3 213.6 L34 272.6 L40.86 276 L52.42 278.2 L63.98 279.8 L75.54 280.5 L90 281.3 L200 282.5 L312.5 283.9" fill="none" stroke="#52b973" stroke-width="0.95" stroke-dasharray="1.1 0.5" stroke-linejoin="round"/>
<path d="M27.8 213.6H30.8M29.3 212.1V215.1" stroke="#52b973" stroke-width="0.8"/><path d="M33.58 273.14H36.58M35.08 271.64V274.64" stroke="#52b973" stroke-width="0.8"/><path d="M39.36 276H42.36M40.86 274.5V277.5" stroke="#52b973" stroke-width="0.8"/><path d="M45.14 277.1H48.14M46.64 275.6V278.6" stroke="#52b973" stroke-width="0.8"/><path d="M50.92 278.2H53.92M52.42 276.7V279.7" stroke="#52b973" stroke-width="0.8"/><path d="M56.7 279H59.7M58.2 277.5V280.5" stroke="#52b973" stroke-width="0.8"/><path d="M62.48 279.8H65.48M63.98 278.3V281.3" stroke="#52b973" stroke-width="0.8"/><path d="M68.26 280.15H71.26M69.76 278.65V281.65" stroke="#52b973" stroke-width="0.8"/><path d="M74.04 280.5H77.04M75.54 279V282" stroke="#52b973" stroke-width="0.8"/><path d="M79.82 280.82H82.82M81.32 279.32V282.32" stroke="#52b973" stroke-width="0.8"/><path d="M85.6 281.14H88.6M87.1 279.64V282.64" stroke="#52b973" stroke-width="0.8"/><path d="M91.38 281.33H94.38M92.88 279.83V282.83" stroke="#52b973" stroke-width="0.8"/><path d="M97.16 281.39H100.16M98.66 279.89V282.89" stroke="#52b973" stroke-width="0.8"/><path d="M102.93 281.46H105.93M104.43 279.96V282.96" stroke="#52b973" stroke-width="0.8"/><path d="M108.71 281.52H111.71M110.21 280.02V283.02" stroke="#52b973" stroke-width="0.8"/><path d="M114.49 281.58H117.49M115.99 280.08V283.08" stroke="#52b973" stroke-width="0.8"/><path d="M120.27 281.65H123.27M121.77 280.15V283.15" stroke="#52b973" stroke-width="0.8"/><path d="M126.05 281.71H129.05M127.55 280.21V283.21" stroke="#52b973" stroke-width="0.8"/><path d="M131.83 281.77H134.83M133.33 280.27V283.27" stroke="#52b973" stroke-width="0.8"/><path d="M137.61 281.84H140.61M139.11 280.34V283.34" stroke="#52b973" stroke-width="0.8"/><path d="M143.39 281.9H146.39M144.89 280.4V283.4" stroke="#52b973" stroke-width="0.8"/><path d="M149.17 281.96H152.17M150.67 280.46V283.46" stroke="#52b973" stroke-width="0.8"/><path d="M154.95 282.02H157.95M156.45 280.52V283.52" stroke="#52b973" stroke-width="0.8"/><path d="M160.73 282.09H163.73M162.23 280.59V283.59" stroke="#52b973" stroke-width="0.8"/><path d="M166.51 282.15H169.51M168.01 280.65V283.65" stroke="#52b973" stroke-width="0.8"/><path d="M172.29 282.21H175.29M173.79 280.71V283.71" stroke="#52b973" stroke-width="0.8"/><path d="M178.07 282.28H181.07M179.57 280.78V283.78" stroke="#52b973" stroke-width="0.8"/><path d="M183.85 282.34H186.85M185.35 280.84V283.84" stroke="#52b973" stroke-width="0.8"/><path d="M189.63 282.4H192.63M191.13 280.9V283.9" stroke="#52b973" stroke-width="0.8"/><path d="M195.41 282.47H198.41M196.91 280.97V283.97" stroke="#52b973" stroke-width="0.8"/><path d="M201.19 282.53H204.19M202.69 281.03V284.03" stroke="#52b973" stroke-width="0.8"/><path d="M206.97 282.61H209.97M208.47 281.11V284.11" stroke="#52b973" stroke-width="0.8"/><path d="M212.75 282.68H215.75M214.25 281.18V284.18" stroke="#52b973" stroke-width="0.8"/><path d="M218.53 282.75H221.53M220.03 281.25V284.25" stroke="#52b973" stroke-width="0.8"/><path d="M224.31 282.82H227.31M225.81 281.32V284.32" stroke="#52b973" stroke-width="0.8"/><path d="M230.09 282.89H233.09M231.59 281.39V284.39" stroke="#52b973" stroke-width="0.8"/><path d="M235.87 282.96H238.87M237.37 281.46V284.46" stroke="#52b973" stroke-width="0.8"/><path d="M241.64 283.04H244.64M243.14 281.54V284.54" stroke="#52b973" stroke-width="0.8"/><path d="M247.42 283.11H250.42M248.92 281.61V284.61" stroke="#52b973" stroke-width="0.8"/><path d="M253.2 283.18H256.2M254.7 281.68V284.68" stroke="#52b973" stroke-width="0.8"/><path d="M258.98 283.25H261.98M260.48 281.75V284.75" stroke="#52b973" stroke-width="0.8"/><path d="M264.76 283.32H267.76M266.26 281.82V284.82" stroke="#52b973" stroke-width="0.8"/><path d="M270.54 283.4H273.54M272.04 281.9V284.9" stroke="#52b973" stroke-width="0.8"/><path d="M276.32 283.47H279.32M277.82 281.97V284.97" stroke="#52b973" stroke-width="0.8"/><path d="M282.1 283.54H285.1M283.6 282.04V285.04" stroke="#52b973" stroke-width="0.8"/><path d="M287.88 283.61H290.88M289.38 282.11V285.11" stroke="#52b973" stroke-width="0.8"/><path d="M293.66 283.68H296.66M295.16 282.18V285.18" stroke="#52b973" stroke-width="0.8"/><path d="M299.44 283.76H302.44M300.94 282.26V285.26" stroke="#52b973" stroke-width="0.8"/><path d="M305.22 283.83H308.22M306.72 282.33V285.33" stroke="#52b973" stroke-width="0.8"/><path d="M311 283.9H314M312.5 282.4V285.4" stroke="#52b973" stroke-width="0.8"/>
<path d="M29.3 210.2 L31.7 234 L34 259 L40.86 260.3 L52.42 260.8 L63.98 261.2 L75.54 261.7 L90.7 262.1 L312.5 263.1" fill="none" stroke="#1f55b5" stroke-width="0.95" stroke-dasharray="2.2 1.3" stroke-linejoin="round"/>
<circle cx="29.3" cy="210.2" r="1.55" fill="#1f55b5"/><circle cx="35.08" cy="259.2" r="1.55" fill="#1f55b5"/><circle cx="40.86" cy="260.3" r="1.55" fill="#1f55b5"/><circle cx="46.64" cy="260.55" r="1.55" fill="#1f55b5"/><circle cx="52.42" cy="260.8" r="1.55" fill="#1f55b5"/><circle cx="58.2" cy="261" r="1.55" fill="#1f55b5"/><circle cx="63.98" cy="261.2" r="1.55" fill="#1f55b5"/><circle cx="69.76" cy="261.45" r="1.55" fill="#1f55b5"/><circle cx="75.54" cy="261.7" r="1.55" fill="#1f55b5"/><circle cx="81.32" cy="261.85" r="1.55" fill="#1f55b5"/><circle cx="87.1" cy="262" r="1.55" fill="#1f55b5"/><circle cx="92.88" cy="262.11" r="1.55" fill="#1f55b5"/><circle cx="98.66" cy="262.14" r="1.55" fill="#1f55b5"/><circle cx="104.43" cy="262.16" r="1.55" fill="#1f55b5"/><circle cx="110.21" cy="262.19" r="1.55" fill="#1f55b5"/><circle cx="115.99" cy="262.21" r="1.55" fill="#1f55b5"/><circle cx="121.77" cy="262.24" r="1.55" fill="#1f55b5"/><circle cx="127.55" cy="262.27" r="1.55" fill="#1f55b5"/><circle cx="133.33" cy="262.29" r="1.55" fill="#1f55b5"/><circle cx="139.11" cy="262.32" r="1.55" fill="#1f55b5"/><circle cx="144.89" cy="262.34" r="1.55" fill="#1f55b5"/><circle cx="150.67" cy="262.37" r="1.55" fill="#1f55b5"/><circle cx="156.45" cy="262.4" r="1.55" fill="#1f55b5"/><circle cx="162.23" cy="262.42" r="1.55" fill="#1f55b5"/><circle cx="168.01" cy="262.45" r="1.55" fill="#1f55b5"/><circle cx="173.79" cy="262.47" r="1.55" fill="#1f55b5"/><circle cx="179.57" cy="262.5" r="1.55" fill="#1f55b5"/><circle cx="185.35" cy="262.53" r="1.55" fill="#1f55b5"/><circle cx="191.13" cy="262.55" r="1.55" fill="#1f55b5"/><circle cx="196.91" cy="262.58" r="1.55" fill="#1f55b5"/><circle cx="202.69" cy="262.6" r="1.55" fill="#1f55b5"/><circle cx="208.47" cy="262.63" r="1.55" fill="#1f55b5"/><circle cx="214.25" cy="262.66" r="1.55" fill="#1f55b5"/><circle cx="220.03" cy="262.68" r="1.55" fill="#1f55b5"/><circle cx="225.81" cy="262.71" r="1.55" fill="#1f55b5"/><circle cx="231.59" cy="262.74" r="1.55" fill="#1f55b5"/><circle cx="237.37" cy="262.76" r="1.55" fill="#1f55b5"/><circle cx="243.14" cy="262.79" r="1.55" fill="#1f55b5"/><circle cx="248.92" cy="262.81" r="1.55" fill="#1f55b5"/><circle cx="254.7" cy="262.84" r="1.55" fill="#1f55b5"/><circle cx="260.48" cy="262.87" r="1.55" fill="#1f55b5"/><circle cx="266.26" cy="262.89" r="1.55" fill="#1f55b5"/><circle cx="272.04" cy="262.92" r="1.55" fill="#1f55b5"/><circle cx="277.82" cy="262.94" r="1.55" fill="#1f55b5"/><circle cx="283.6" cy="262.97" r="1.55" fill="#1f55b5"/><circle cx="289.38" cy="263" r="1.55" fill="#1f55b5"/><circle cx="295.16" cy="263.02" r="1.55" fill="#1f55b5"/><circle cx="300.94" cy="263.05" r="1.55" fill="#1f55b5"/><circle cx="306.72" cy="263.07" r="1.55" fill="#1f55b5"/><circle cx="312.5" cy="263.1" r="1.55" fill="#1f55b5"/>
<path d="M29.3 208.6 L35.08 216.3 L40.86 220.4 L46.64 224.5 L52.42 228.8 L58.2 232.4 L63.98 235.6 L69.76 239 L75.54 242.4 L81.32 245.4 L87.1 248.3 L92.88 250.6 L100.1 253.8 L110.21 258.3 L116.9 261.1 L133.33 263.8 L156.45 267.8 L180.7 271.2 L204.2 272.5 L224.3 274.5 L247.8 277.2 L272.04 279.2 L291.5 281.3 L312.5 282.9" fill="none" stroke="#8d40aa" stroke-width="1.2" stroke-linejoin="round"/>
<rect x="27.9" y="207.2" width="2.8" height="2.8" fill="#8d40aa" stroke="#8d40aa" stroke-width="0.3"/><rect x="33.68" y="214.9" width="2.8" height="2.8" fill="#8d40aa" stroke="#8d40aa" stroke-width="0.3"/><rect x="39.46" y="219" width="2.8" height="2.8" fill="#8d40aa" stroke="#8d40aa" stroke-width="0.3"/><rect x="45.24" y="223.1" width="2.8" height="2.8" fill="#8d40aa" stroke="#8d40aa" stroke-width="0.3"/><rect x="51.02" y="227.4" width="2.8" height="2.8" fill="#8d40aa" stroke="#8d40aa" stroke-width="0.3"/><rect x="56.8" y="231" width="2.8" height="2.8" fill="#8d40aa" stroke="#8d40aa" stroke-width="0.3"/><rect x="62.58" y="234.2" width="2.8" height="2.8" fill="#8d40aa" stroke="#8d40aa" stroke-width="0.3"/><rect x="68.36" y="237.6" width="2.8" height="2.8" fill="#8d40aa" stroke="#8d40aa" stroke-width="0.3"/><rect x="74.14" y="241" width="2.8" height="2.8" fill="#8d40aa" stroke="#8d40aa" stroke-width="0.3"/><rect x="79.92" y="244" width="2.8" height="2.8" fill="#8d40aa" stroke="#8d40aa" stroke-width="0.3"/><rect x="85.7" y="246.9" width="2.8" height="2.8" fill="#8d40aa" stroke="#8d40aa" stroke-width="0.3"/><rect x="91.48" y="249.2" width="2.8" height="2.8" fill="#8d40aa" stroke="#8d40aa" stroke-width="0.3"/><rect x="97.26" y="251.76" width="2.8" height="2.8" fill="#8d40aa" stroke="#8d40aa" stroke-width="0.3"/><rect x="103.03" y="254.33" width="2.8" height="2.8" fill="#8d40aa" stroke="#8d40aa" stroke-width="0.3"/><rect x="108.81" y="256.9" width="2.8" height="2.8" fill="#8d40aa" stroke="#8d40aa" stroke-width="0.3"/><rect x="114.59" y="259.32" width="2.8" height="2.8" fill="#8d40aa" stroke="#8d40aa" stroke-width="0.3"/><rect x="120.37" y="260.5" width="2.8" height="2.8" fill="#8d40aa" stroke="#8d40aa" stroke-width="0.3"/><rect x="126.15" y="261.45" width="2.8" height="2.8" fill="#8d40aa" stroke="#8d40aa" stroke-width="0.3"/><rect x="131.93" y="262.4" width="2.8" height="2.8" fill="#8d40aa" stroke="#8d40aa" stroke-width="0.3"/><rect x="137.71" y="263.4" width="2.8" height="2.8" fill="#8d40aa" stroke="#8d40aa" stroke-width="0.3"/><rect x="143.49" y="264.4" width="2.8" height="2.8" fill="#8d40aa" stroke="#8d40aa" stroke-width="0.3"/><rect x="149.27" y="265.4" width="2.8" height="2.8" fill="#8d40aa" stroke="#8d40aa" stroke-width="0.3"/><rect x="155.05" y="266.4" width="2.8" height="2.8" fill="#8d40aa" stroke="#8d40aa" stroke-width="0.3"/><rect x="160.83" y="267.21" width="2.8" height="2.8" fill="#8d40aa" stroke="#8d40aa" stroke-width="0.3"/><rect x="166.61" y="268.02" width="2.8" height="2.8" fill="#8d40aa" stroke="#8d40aa" stroke-width="0.3"/><rect x="172.39" y="268.83" width="2.8" height="2.8" fill="#8d40aa" stroke="#8d40aa" stroke-width="0.3"/><rect x="178.17" y="269.64" width="2.8" height="2.8" fill="#8d40aa" stroke="#8d40aa" stroke-width="0.3"/><rect x="183.95" y="270.06" width="2.8" height="2.8" fill="#8d40aa" stroke="#8d40aa" stroke-width="0.3"/><rect x="189.73" y="270.38" width="2.8" height="2.8" fill="#8d40aa" stroke="#8d40aa" stroke-width="0.3"/><rect x="195.51" y="270.7" width="2.8" height="2.8" fill="#8d40aa" stroke="#8d40aa" stroke-width="0.3"/><rect x="201.29" y="271.02" width="2.8" height="2.8" fill="#8d40aa" stroke="#8d40aa" stroke-width="0.3"/><rect x="207.07" y="271.52" width="2.8" height="2.8" fill="#8d40aa" stroke="#8d40aa" stroke-width="0.3"/><rect x="212.85" y="272.1" width="2.8" height="2.8" fill="#8d40aa" stroke="#8d40aa" stroke-width="0.3"/><rect x="218.63" y="272.67" width="2.8" height="2.8" fill="#8d40aa" stroke="#8d40aa" stroke-width="0.3"/><rect x="224.41" y="273.27" width="2.8" height="2.8" fill="#8d40aa" stroke="#8d40aa" stroke-width="0.3"/><rect x="230.19" y="273.94" width="2.8" height="2.8" fill="#8d40aa" stroke="#8d40aa" stroke-width="0.3"/><rect x="235.97" y="274.6" width="2.8" height="2.8" fill="#8d40aa" stroke="#8d40aa" stroke-width="0.3"/><rect x="241.74" y="275.27" width="2.8" height="2.8" fill="#8d40aa" stroke="#8d40aa" stroke-width="0.3"/><rect x="247.52" y="275.89" width="2.8" height="2.8" fill="#8d40aa" stroke="#8d40aa" stroke-width="0.3"/><rect x="253.3" y="276.37" width="2.8" height="2.8" fill="#8d40aa" stroke="#8d40aa" stroke-width="0.3"/><rect x="259.08" y="276.85" width="2.8" height="2.8" fill="#8d40aa" stroke="#8d40aa" stroke-width="0.3"/><rect x="264.86" y="277.32" width="2.8" height="2.8" fill="#8d40aa" stroke="#8d40aa" stroke-width="0.3"/><rect x="270.64" y="277.8" width="2.8" height="2.8" fill="#8d40aa" stroke="#8d40aa" stroke-width="0.3"/><rect x="276.42" y="278.42" width="2.8" height="2.8" fill="#8d40aa" stroke="#8d40aa" stroke-width="0.3"/><rect x="282.2" y="279.05" width="2.8" height="2.8" fill="#8d40aa" stroke="#8d40aa" stroke-width="0.3"/><rect x="287.98" y="279.67" width="2.8" height="2.8" fill="#8d40aa" stroke="#8d40aa" stroke-width="0.3"/><rect x="293.76" y="280.18" width="2.8" height="2.8" fill="#8d40aa" stroke="#8d40aa" stroke-width="0.3"/><rect x="299.54" y="280.62" width="2.8" height="2.8" fill="#8d40aa" stroke="#8d40aa" stroke-width="0.3"/><rect x="305.32" y="281.06" width="2.8" height="2.8" fill="#8d40aa" stroke="#8d40aa" stroke-width="0.3"/><rect x="311.1" y="281.5" width="2.8" height="2.8" fill="#8d40aa" stroke="#8d40aa" stroke-width="0.3"/>
</g>
<rect x="271.1" y="211.3" width="38.2" height="34.9" fill="#fff" stroke="#2a2a2a" stroke-width="0.9"/>
<path d="M272 215.3H284.7" stroke="#e8392b" stroke-width="1.1"/>
<circle cx="278.35" cy="215.3" r="1.45" fill="none" stroke="#e8392b" stroke-width="1.05"/>
<text x="285.8" y="217.27" font-size="5.8" font-weight="bold" fill="#111">BAWOA</text>
<path d="M272 222.2H284.7" stroke="#a6d255" stroke-width="0.9"/>
<rect x="277.4" y="221.25" width="1.9" height="1.9" fill="#a6d255"/>
<text x="285.8" y="224.17" font-size="5.8" font-weight="bold" fill="#111">WOA</text>
<path d="M272 228.8H284.7" stroke="#52b973" stroke-width="0.95" stroke-dasharray="1.1 0.5"/>
<path d="M276.85 228.8H279.85M278.35 227.3V230.3" stroke="#52b973" stroke-width="0.8"/>
<text x="285.8" y="230.77" font-size="5.8" font-weight="bold" fill="#111">BA</text>
<path d="M272 235.5H284.7" stroke="#1f55b5" stroke-width="0.95" stroke-dasharray="2.2 1.3"/>
<circle cx="278.35" cy="235.5" r="1.55" fill="#1f55b5"/>
<text x="285.8" y="237.47" font-size="5.8" font-weight="bold" fill="#111">PSO</text>
<path d="M272 242.5H284.7" stroke="#8d40aa" stroke-width="1.2"/>
<rect x="276.95" y="241.1" width="2.8" height="2.8" fill="#8d40aa" stroke="#8d40aa" stroke-width="0.3"/>
<text x="285.8" y="244.47" font-size="5.8" font-weight="bold" fill="#111">GA</text>
<path d="M403.84 371.3V374.8M403.84 208.2V204.7M413.27 371.3V374.8M413.27 208.2V204.7M422.71 371.3V374.8M422.71 208.2V204.7M432.15 371.3V374.8M432.15 208.2V204.7M441.58 371.3V377.3M441.58 208.2V202.2M451.02 371.3V374.8M451.02 208.2V204.7M460.46 371.3V374.8M460.46 208.2V204.7M469.89 371.3V374.8M469.89 208.2V204.7M479.33 371.3V374.8M479.33 208.2V204.7M488.77 371.3V377.3M488.77 208.2V202.2M498.2 371.3V374.8M498.2 208.2V204.7M507.64 371.3V374.8M507.64 208.2V204.7M517.08 371.3V374.8M517.08 208.2V204.7M526.51 371.3V374.8M526.51 208.2V204.7M535.95 371.3V377.3M535.95 208.2V202.2M545.39 371.3V374.8M545.39 208.2V204.7M554.82 371.3V374.8M554.82 208.2V204.7M564.26 371.3V374.8M564.26 208.2V204.7M573.7 371.3V374.8M573.7 208.2V204.7M583.13 371.3V377.3M583.13 208.2V202.2M592.57 371.3V374.8M592.57 208.2V204.7M602.01 371.3V374.8M602.01 208.2V204.7M611.44 371.3V374.8M611.44 208.2V204.7M620.88 371.3V374.8M620.88 208.2V204.7M630.32 371.3V377.3M630.32 208.2V202.2M639.75 371.3V374.8M639.75 208.2V204.7M649.19 371.3V374.8M649.19 208.2V204.7M658.63 371.3V374.8M658.63 208.2V204.7M668.06 371.3V374.8M668.06 208.2V204.7M677.5 371.3V377.3M677.5 208.2V202.2M394.4 368.86H390.9M677.5 368.86H681M394.4 356.32H390.9M677.5 356.32H681M394.4 343.78H390.9M677.5 343.78H681M394.4 331.24H390.9M677.5 331.24H681M394.4 318.7H388.4M677.5 318.7H683.5M394.4 306.16H390.9M677.5 306.16H681M394.4 293.62H390.9M677.5 293.62H681M394.4 281.08H390.9M677.5 281.08H681M394.4 268.54H390.9M677.5 268.54H681M394.4 256H388.4M677.5 256H683.5M394.4 243.46H390.9M677.5 243.46H681M394.4 230.92H390.9M677.5 230.92H681M394.4 218.38H390.9M677.5 218.38H681" stroke="#868686" stroke-width="0.95" fill="none"/>
<text x="441.58" y="385.1" font-size="6.9" text-anchor="middle" font-weight="bold" fill="#333" stroke="#333" stroke-width="0.15">500</text>
<text x="488.77" y="385.1" font-size="6.9" text-anchor="middle" font-weight="bold" fill="#333" stroke="#333" stroke-width="0.15">1000</text>
<text x="535.95" y="385.1" font-size="6.9" text-anchor="middle" font-weight="bold" fill="#333" stroke="#333" stroke-width="0.15">1500</text>
<text x="583.13" y="385.1" font-size="6.9" text-anchor="middle" font-weight="bold" fill="#333" stroke="#333" stroke-width="0.15">2000</text>
<text x="630.32" y="385.1" font-size="6.9" text-anchor="middle" font-weight="bold" fill="#333" stroke="#333" stroke-width="0.15">2500</text>
<text x="677.5" y="385.1" font-size="6.9" text-anchor="middle" font-weight="bold" fill="#333" stroke="#333" stroke-width="0.15">3000</text>
<text x="535.95" y="393" font-size="6.9" text-anchor="middle" font-weight="bold" fill="#333" stroke="#333" stroke-width="0.15">Iteration</text>
<text x="0" y="0" font-size="6.9" text-anchor="middle" font-weight="normal" fill="#555" stroke="#555" stroke-width="0.18" transform="translate(370.3 289.3) rotate(-90)" dominant-baseline="central">Best score obtained so far</text>
<text x="535.95" y="206" font-size="6.8" text-anchor="middle" font-weight="bold" fill="#222" stroke="#222" stroke-width="0.15">F12</text>
<text x="385.9" y="259.11" font-size="6.4" text-anchor="end" font-weight="normal" fill="#444" stroke="#444" stroke-width="0.15">10<tspan font-size="5.12" dy="-2.88">5</tspan></text>
<text x="385.9" y="321.81" font-size="6.4" text-anchor="end" font-weight="normal" fill="#444" stroke="#444" stroke-width="0.15">10<tspan font-size="5.12" dy="-2.88">0</tspan></text>
<rect x="394.4" y="208.2" width="283.1" height="163.1" fill="none" stroke="#868686" stroke-width="1.2"/>
<clipPath id="cF12"><rect x="392.4" y="205.7" width="287.1" height="168.1"/></clipPath>
<g clip-path="url(#cF12)">
<path d="M394.4 209.4 L400.18 307.9 L405.96 321.8 L411.73 325.4 L417.51 337.8 L423.29 342.1 L430.5 345.7 L440.62 349.6 L452.18 353.9 L462 357.4 L472.6 361.8 L483 365 L493.6 367.1 L504.17 368.5 L514.6 369.7 L525.1 370.2 L535.6 370.6 L677.5 370.6" fill="none" stroke="#e8392b" stroke-width="1.1" stroke-linejoin="round"/>
<circle cx="394.4" cy="209.4" r="1.67" fill="none" stroke="#e8392b" stroke-width="1.21"/><circle cx="400.18" cy="307.9" r="1.67" fill="none" stroke="#e8392b" stroke-width="1.21"/><circle cx="405.96" cy="321.8" r="1.67" fill="none" stroke="#e8392b" stroke-width="1.21"/><circle cx="411.73" cy="325.4" r="1.67" fill="none" stroke="#e8392b" stroke-width="1.21"/><circle cx="417.51" cy="337.8" r="1.67" fill="none" stroke="#e8392b" stroke-width="1.21"/><circle cx="423.29" cy="342.1" r="1.67" fill="none" stroke="#e8392b" stroke-width="1.21"/><circle cx="429.07" cy="344.98" r="1.67" fill="none" stroke="#e8392b" stroke-width="1.21"/><circle cx="434.84" cy="347.37" r="1.67" fill="none" stroke="#e8392b" stroke-width="1.21"/><circle cx="440.62" cy="349.6" r="1.67" fill="none" stroke="#e8392b" stroke-width="1.21"/><circle cx="446.4" cy="351.75" r="1.67" fill="none" stroke="#e8392b" stroke-width="1.21"/><circle cx="452.18" cy="353.9" r="1.67" fill="none" stroke="#e8392b" stroke-width="1.21"/><circle cx="457.95" cy="355.96" r="1.67" fill="none" stroke="#e8392b" stroke-width="1.21"/><circle cx="463.73" cy="358.12" r="1.67" fill="none" stroke="#e8392b" stroke-width="1.21"/><circle cx="469.51" cy="360.52" r="1.67" fill="none" stroke="#e8392b" stroke-width="1.21"/><circle cx="475.29" cy="362.63" r="1.67" fill="none" stroke="#e8392b" stroke-width="1.21"/><circle cx="481.06" cy="364.4" r="1.67" fill="none" stroke="#e8392b" stroke-width="1.21"/><circle cx="486.84" cy="365.76" r="1.67" fill="none" stroke="#e8392b" stroke-width="1.21"/><circle cx="492.62" cy="366.91" r="1.67" fill="none" stroke="#e8392b" stroke-width="1.21"/><circle cx="498.4" cy="367.74" r="1.67" fill="none" stroke="#e8392b" stroke-width="1.21"/><circle cx="504.17" cy="368.5" r="1.67" fill="none" stroke="#e8392b" stroke-width="1.21"/><circle cx="509.95" cy="369.16" r="1.67" fill="none" stroke="#e8392b" stroke-width="1.21"/><circle cx="515.73" cy="369.75" r="1.67" fill="none" stroke="#e8392b" stroke-width="1.21"/><circle cx="521.51" cy="370.03" r="1.67" fill="none" stroke="#e8392b" stroke-width="1.21"/><circle cx="527.28" cy="370.28" r="1.67" fill="none" stroke="#e8392b" stroke-width="1.21"/><circle cx="533.06" cy="370.5" r="1.67" fill="none" stroke="#e8392b" stroke-width="1.21"/><circle cx="538.84" cy="370.6" r="1.67" fill="none" stroke="#e8392b" stroke-width="1.21"/><circle cx="544.62" cy="370.6" r="1.67" fill="none" stroke="#e8392b" stroke-width="1.21"/><circle cx="550.39" cy="370.6" r="1.67" fill="none" stroke="#e8392b" stroke-width="1.21"/><circle cx="556.17" cy="370.6" r="1.67" fill="none" stroke="#e8392b" stroke-width="1.21"/><circle cx="561.95" cy="370.6" r="1.67" fill="none" stroke="#e8392b" stroke-width="1.21"/><circle cx="567.73" cy="370.6" r="1.67" fill="none" stroke="#e8392b" stroke-width="1.21"/><circle cx="573.5" cy="370.6" r="1.67" fill="none" stroke="#e8392b" stroke-width="1.21"/><circle cx="579.28" cy="370.6" r="1.67" fill="none" stroke="#e8392b" stroke-width="1.21"/><circle cx="585.06" cy="370.6" r="1.67" fill="none" stroke="#e8392b" stroke-width="1.21"/><circle cx="590.84" cy="370.6" r="1.67" fill="none" stroke="#e8392b" stroke-width="1.21"/><circle cx="596.61" cy="370.6" r="1.67" fill="none" stroke="#e8392b" stroke-width="1.21"/><circle cx="602.39" cy="370.6" r="1.67" fill="none" stroke="#e8392b" stroke-width="1.21"/><circle cx="608.17" cy="370.6" r="1.67" fill="none" stroke="#e8392b" stroke-width="1.21"/><circle cx="613.95" cy="370.6" r="1.67" fill="none" stroke="#e8392b" stroke-width="1.21"/><circle cx="619.72" cy="370.6" r="1.67" fill="none" stroke="#e8392b" stroke-width="1.21"/><circle cx="625.5" cy="370.6" r="1.67" fill="none" stroke="#e8392b" stroke-width="1.21"/><circle cx="631.28" cy="370.6" r="1.67" fill="none" stroke="#e8392b" stroke-width="1.21"/><circle cx="637.06" cy="370.6" r="1.67" fill="none" stroke="#e8392b" stroke-width="1.21"/><circle cx="642.83" cy="370.6" r="1.67" fill="none" stroke="#e8392b" stroke-width="1.21"/><circle cx="648.61" cy="370.6" r="1.67" fill="none" stroke="#e8392b" stroke-width="1.21"/><circle cx="654.39" cy="370.6" r="1.67" fill="none" stroke="#e8392b" stroke-width="1.21"/><circle cx="660.17" cy="370.6" r="1.67" fill="none" stroke="#e8392b" stroke-width="1.21"/><circle cx="665.94" cy="370.6" r="1.67" fill="none" stroke="#e8392b" stroke-width="1.21"/><circle cx="671.72" cy="370.6" r="1.67" fill="none" stroke="#e8392b" stroke-width="1.21"/><circle cx="677.5" cy="370.6" r="1.67" fill="none" stroke="#e8392b" stroke-width="1.21"/>
<path d="M394.4 216 L400.18 315.8 L405.96 334.2 L411.73 339.7 L420 344.3 L430.5 349.2 L440.62 353.4 L452.18 357.4 L462 361 L472.6 363.9 L483 366.6 L493.6 368.5 L504.17 370.1 L514.6 370.9 L525.1 371.3 L677.5 371.3" fill="none" stroke="#a6d255" stroke-width="0.9" stroke-linejoin="round"/>
<rect x="393.31" y="214.91" width="2.18" height="2.18" fill="#a6d255"/><rect x="399.09" y="314.71" width="2.18" height="2.18" fill="#a6d255"/><rect x="404.86" y="333.11" width="2.18" height="2.18" fill="#a6d255"/><rect x="410.64" y="338.61" width="2.18" height="2.18" fill="#a6d255"/><rect x="416.42" y="341.82" width="2.18" height="2.18" fill="#a6d255"/><rect x="422.2" y="344.74" width="2.18" height="2.18" fill="#a6d255"/><rect x="427.97" y="347.44" width="2.18" height="2.18" fill="#a6d255"/><rect x="433.75" y="349.91" width="2.18" height="2.18" fill="#a6d255"/><rect x="439.53" y="352.31" width="2.18" height="2.18" fill="#a6d255"/><rect x="445.31" y="354.31" width="2.18" height="2.18" fill="#a6d255"/><rect x="451.08" y="356.31" width="2.18" height="2.18" fill="#a6d255"/><rect x="456.86" y="358.42" width="2.18" height="2.18" fill="#a6d255"/><rect x="462.64" y="360.38" width="2.18" height="2.18" fill="#a6d255"/><rect x="468.42" y="361.96" width="2.18" height="2.18" fill="#a6d255"/><rect x="474.19" y="363.5" width="2.18" height="2.18" fill="#a6d255"/><rect x="479.97" y="365" width="2.18" height="2.18" fill="#a6d255"/><rect x="485.75" y="366.2" width="2.18" height="2.18" fill="#a6d255"/><rect x="491.53" y="367.23" width="2.18" height="2.18" fill="#a6d255"/><rect x="497.3" y="368.13" width="2.18" height="2.18" fill="#a6d255"/><rect x="503.08" y="369.01" width="2.18" height="2.18" fill="#a6d255"/><rect x="508.86" y="369.45" width="2.18" height="2.18" fill="#a6d255"/><rect x="514.64" y="369.85" width="2.18" height="2.18" fill="#a6d255"/><rect x="520.41" y="370.07" width="2.18" height="2.18" fill="#a6d255"/><rect x="526.19" y="370.21" width="2.18" height="2.18" fill="#a6d255"/><rect x="531.97" y="370.21" width="2.18" height="2.18" fill="#a6d255"/><rect x="537.75" y="370.21" width="2.18" height="2.18" fill="#a6d255"/><rect x="543.52" y="370.21" width="2.18" height="2.18" fill="#a6d255"/><rect x="549.3" y="370.21" width="2.18" height="2.18" fill="#a6d255"/><rect x="555.08" y="370.21" width="2.18" height="2.18" fill="#a6d255"/><rect x="560.86" y="370.21" width="2.18" height="2.18" fill="#a6d255"/><rect x="566.63" y="370.21" width="2.18" height="2.18" fill="#a6d255"/><rect x="572.41" y="370.21" width="2.18" height="2.18" fill="#a6d255"/><rect x="578.19" y="370.21" width="2.18" height="2.18" fill="#a6d255"/><rect x="583.97" y="370.21" width="2.18" height="2.18" fill="#a6d255"/><rect x="589.74" y="370.21" width="2.18" height="2.18" fill="#a6d255"/><rect x="595.52" y="370.21" width="2.18" height="2.18" fill="#a6d255"/><rect x="601.3" y="370.21" width="2.18" height="2.18" fill="#a6d255"/><rect x="607.08" y="370.21" width="2.18" height="2.18" fill="#a6d255"/><rect x="612.85" y="370.21" width="2.18" height="2.18" fill="#a6d255"/><rect x="618.63" y="370.21" width="2.18" height="2.18" fill="#a6d255"/><rect x="624.41" y="370.21" width="2.18" height="2.18" fill="#a6d255"/><rect x="630.19" y="370.21" width="2.18" height="2.18" fill="#a6d255"/><rect x="635.96" y="370.21" width="2.18" height="2.18" fill="#a6d255"/><rect x="641.74" y="370.21" width="2.18" height="2.18" fill="#a6d255"/><rect x="647.52" y="370.21" width="2.18" height="2.18" fill="#a6d255"/><rect x="653.3" y="370.21" width="2.18" height="2.18" fill="#a6d255"/><rect x="659.07" y="370.21" width="2.18" height="2.18" fill="#a6d255"/><rect x="664.85" y="370.21" width="2.18" height="2.18" fill="#a6d255"/><rect x="670.63" y="370.21" width="2.18" height="2.18" fill="#a6d255"/><rect x="676.41" y="370.21" width="2.18" height="2.18" fill="#a6d255"/>
<path d="M394.4 227 L400.18 301.9 L405.96 303.9 L417.51 305 L441.8 305.5 L469.51 306.2 L492.62 306.8 L558.6 307.8 L677.5 308.4" fill="none" stroke="#52b973" stroke-width="0.95" stroke-dasharray="1.1 0.5" stroke-linejoin="round"/>
<path d="M392.67 227H396.12M394.4 225.28V228.72" stroke="#52b973" stroke-width="0.92"/><path d="M398.45 301.9H401.9M400.18 300.17V303.62" stroke="#52b973" stroke-width="0.92"/><path d="M404.23 303.9H407.68M405.96 302.17V305.62" stroke="#52b973" stroke-width="0.92"/><path d="M410.01 304.45H413.46M411.73 302.72V306.18" stroke="#52b973" stroke-width="0.92"/><path d="M415.79 305H419.24M417.51 303.27V306.73" stroke="#52b973" stroke-width="0.92"/><path d="M421.56 305.12H425.01M423.29 303.39V306.84" stroke="#52b973" stroke-width="0.92"/><path d="M427.34 305.24H430.79M429.07 303.51V306.96" stroke="#52b973" stroke-width="0.92"/><path d="M433.12 305.36H436.57M434.84 303.63V307.08" stroke="#52b973" stroke-width="0.92"/><path d="M438.9 305.48H442.35M440.62 303.75V307.2" stroke="#52b973" stroke-width="0.92"/><path d="M444.67 305.62H448.12M446.4 303.89V307.34" stroke="#52b973" stroke-width="0.92"/><path d="M450.45 305.76H453.9M452.18 304.04V307.49" stroke="#52b973" stroke-width="0.92"/><path d="M456.23 305.91H459.68M457.95 304.18V307.63" stroke="#52b973" stroke-width="0.92"/><path d="M462.01 306.05H465.46M463.73 304.33V307.78" stroke="#52b973" stroke-width="0.92"/><path d="M467.78 306.2H471.23M469.51 304.47V307.93" stroke="#52b973" stroke-width="0.92"/><path d="M473.56 306.35H477.01M475.29 304.62V308.08" stroke="#52b973" stroke-width="0.92"/><path d="M479.34 306.5H482.79M481.06 304.77V308.23" stroke="#52b973" stroke-width="0.92"/><path d="M485.12 306.65H488.57M486.84 304.92V308.38" stroke="#52b973" stroke-width="0.92"/><path d="M490.89 306.8H494.34M492.62 305.07V308.53" stroke="#52b973" stroke-width="0.92"/><path d="M496.67 306.89H500.12M498.4 305.16V308.61" stroke="#52b973" stroke-width="0.92"/><path d="M502.45 306.98H505.9M504.17 305.25V308.7" stroke="#52b973" stroke-width="0.92"/><path d="M508.23 307.06H511.68M509.95 305.34V308.79" stroke="#52b973" stroke-width="0.92"/><path d="M514 307.15H517.45M515.73 305.43V308.88" stroke="#52b973" stroke-width="0.92"/><path d="M519.78 307.24H523.23M521.51 305.51V308.96" stroke="#52b973" stroke-width="0.92"/><path d="M525.56 307.33H529.01M527.28 305.6V309.05" stroke="#52b973" stroke-width="0.92"/><path d="M531.34 307.41H534.79M533.06 305.69V309.14" stroke="#52b973" stroke-width="0.92"/><path d="M537.11 307.5H540.56M538.84 305.78V309.23" stroke="#52b973" stroke-width="0.92"/><path d="M542.89 307.59H546.34M544.62 305.86V309.31" stroke="#52b973" stroke-width="0.92"/><path d="M548.67 307.68H552.12M550.39 305.95V309.4" stroke="#52b973" stroke-width="0.92"/><path d="M554.45 307.76H557.9M556.17 306.04V309.49" stroke="#52b973" stroke-width="0.92"/><path d="M560.22 307.82H563.67M561.95 306.09V309.54" stroke="#52b973" stroke-width="0.92"/><path d="M566 307.85H569.45M567.73 306.12V309.57" stroke="#52b973" stroke-width="0.92"/><path d="M571.78 307.88H575.23M573.5 306.15V309.6" stroke="#52b973" stroke-width="0.92"/><path d="M577.56 307.9H581.01M579.28 306.18V309.63" stroke="#52b973" stroke-width="0.92"/><path d="M583.33 307.93H586.78M585.06 306.21V309.66" stroke="#52b973" stroke-width="0.92"/><path d="M589.11 307.96H592.56M590.84 306.24V309.69" stroke="#52b973" stroke-width="0.92"/><path d="M594.89 307.99H598.34M596.61 306.27V309.72" stroke="#52b973" stroke-width="0.92"/><path d="M600.67 308.02H604.12M602.39 306.3V309.75" stroke="#52b973" stroke-width="0.92"/><path d="M606.44 308.05H609.89M608.17 306.33V309.78" stroke="#52b973" stroke-width="0.92"/><path d="M612.22 308.08H615.67M613.95 306.35V309.8" stroke="#52b973" stroke-width="0.92"/><path d="M618 308.11H621.45M619.72 306.38V309.83" stroke="#52b973" stroke-width="0.92"/><path d="M623.78 308.14H627.23M625.5 306.41V309.86" stroke="#52b973" stroke-width="0.92"/><path d="M629.55 308.17H633M631.28 306.44V309.89" stroke="#52b973" stroke-width="0.92"/><path d="M635.33 308.2H638.78M637.06 306.47V309.92" stroke="#52b973" stroke-width="0.92"/><path d="M641.11 308.23H644.56M642.83 306.5V309.95" stroke="#52b973" stroke-width="0.92"/><path d="M646.89 308.25H650.34M648.61 306.53V309.98" stroke="#52b973" stroke-width="0.92"/><path d="M652.66 308.28H656.11M654.39 306.56V310.01" stroke="#52b973" stroke-width="0.92"/><path d="M658.44 308.31H661.89M660.17 306.59V310.04" stroke="#52b973" stroke-width="0.92"/><path d="M664.22 308.34H667.67M665.94 306.62V310.07" stroke="#52b973" stroke-width="0.92"/><path d="M670 308.37H673.45M671.72 306.65V310.1" stroke="#52b973" stroke-width="0.92"/><path d="M675.77 308.4H679.23M677.5 306.67V310.12" stroke="#52b973" stroke-width="0.92"/>
<path d="M394.4 211.7 L400.18 306.2 L405.96 307.9 L417.51 309.4 L441.8 310.6 L469.51 311 L677.5 311.7" fill="none" stroke="#1f55b5" stroke-width="0.95" stroke-dasharray="2.2 1.3" stroke-linejoin="round"/>
<circle cx="394.4" cy="211.7" r="1.47" fill="#1f55b5"/><circle cx="400.18" cy="306.2" r="1.47" fill="#1f55b5"/><circle cx="405.96" cy="307.9" r="1.47" fill="#1f55b5"/><circle cx="411.73" cy="308.65" r="1.47" fill="#1f55b5"/><circle cx="417.51" cy="309.4" r="1.47" fill="#1f55b5"/><circle cx="423.29" cy="309.69" r="1.47" fill="#1f55b5"/><circle cx="429.07" cy="309.97" r="1.47" fill="#1f55b5"/><circle cx="434.84" cy="310.26" r="1.47" fill="#1f55b5"/><circle cx="440.62" cy="310.54" r="1.47" fill="#1f55b5"/><circle cx="446.4" cy="310.67" r="1.47" fill="#1f55b5"/><circle cx="452.18" cy="310.75" r="1.47" fill="#1f55b5"/><circle cx="457.95" cy="310.83" r="1.47" fill="#1f55b5"/><circle cx="463.73" cy="310.92" r="1.47" fill="#1f55b5"/><circle cx="469.51" cy="311" r="1.47" fill="#1f55b5"/><circle cx="475.29" cy="311.02" r="1.47" fill="#1f55b5"/><circle cx="481.06" cy="311.04" r="1.47" fill="#1f55b5"/><circle cx="486.84" cy="311.06" r="1.47" fill="#1f55b5"/><circle cx="492.62" cy="311.08" r="1.47" fill="#1f55b5"/><circle cx="498.4" cy="311.1" r="1.47" fill="#1f55b5"/><circle cx="504.17" cy="311.12" r="1.47" fill="#1f55b5"/><circle cx="509.95" cy="311.14" r="1.47" fill="#1f55b5"/><circle cx="515.73" cy="311.16" r="1.47" fill="#1f55b5"/><circle cx="521.51" cy="311.18" r="1.47" fill="#1f55b5"/><circle cx="527.28" cy="311.19" r="1.47" fill="#1f55b5"/><circle cx="533.06" cy="311.21" r="1.47" fill="#1f55b5"/><circle cx="538.84" cy="311.23" r="1.47" fill="#1f55b5"/><circle cx="544.62" cy="311.25" r="1.47" fill="#1f55b5"/><circle cx="550.39" cy="311.27" r="1.47" fill="#1f55b5"/><circle cx="556.17" cy="311.29" r="1.47" fill="#1f55b5"/><circle cx="561.95" cy="311.31" r="1.47" fill="#1f55b5"/><circle cx="567.73" cy="311.33" r="1.47" fill="#1f55b5"/><circle cx="573.5" cy="311.35" r="1.47" fill="#1f55b5"/><circle cx="579.28" cy="311.37" r="1.47" fill="#1f55b5"/><circle cx="585.06" cy="311.39" r="1.47" fill="#1f55b5"/><circle cx="590.84" cy="311.41" r="1.47" fill="#1f55b5"/><circle cx="596.61" cy="311.43" r="1.47" fill="#1f55b5"/><circle cx="602.39" cy="311.45" r="1.47" fill="#1f55b5"/><circle cx="608.17" cy="311.47" r="1.47" fill="#1f55b5"/><circle cx="613.95" cy="311.49" r="1.47" fill="#1f55b5"/><circle cx="619.72" cy="311.51" r="1.47" fill="#1f55b5"/><circle cx="625.5" cy="311.52" r="1.47" fill="#1f55b5"/><circle cx="631.28" cy="311.54" r="1.47" fill="#1f55b5"/><circle cx="637.06" cy="311.56" r="1.47" fill="#1f55b5"/><circle cx="642.83" cy="311.58" r="1.47" fill="#1f55b5"/><circle cx="648.61" cy="311.6" r="1.47" fill="#1f55b5"/><circle cx="654.39" cy="311.62" r="1.47" fill="#1f55b5"/><circle cx="660.17" cy="311.64" r="1.47" fill="#1f55b5"/><circle cx="665.94" cy="311.66" r="1.47" fill="#1f55b5"/><circle cx="671.72" cy="311.68" r="1.47" fill="#1f55b5"/><circle cx="677.5" cy="311.7" r="1.47" fill="#1f55b5"/>
<path d="M394.4 208.2 L400.18 224.9 L405.96 237.3 L411.73 247.2 L417.51 275.9 L423.29 299.1 L429.07 307.9 L434.84 309.8 L440.62 311 L446.4 312.2 L452.18 313.4 L457.95 314.6 L469.51 317.6 L479.7 319.6 L492.62 320.9 L509.95 323.5 L525.7 324.8 L538.84 327.5 L548.7 330.7 L558.6 334.7 L567.73 338.6 L581.6 340.6 L598 341.9 L613.95 344.5 L631.28 347.8 L644 349.5 L648.61 351.1 L654.39 355.1 L677.5 355.1" fill="none" stroke="#8d40aa" stroke-width="0.9" stroke-linejoin="round"/>
<rect x="393" y="206.8" width="2.8" height="2.8" fill="#a772c0" stroke="#8d40aa" stroke-width="0.8"/><rect x="398.78" y="223.5" width="2.8" height="2.8" fill="#a772c0" stroke="#8d40aa" stroke-width="0.8"/><rect x="404.56" y="235.9" width="2.8" height="2.8" fill="#a772c0" stroke="#8d40aa" stroke-width="0.8"/><rect x="410.33" y="245.8" width="2.8" height="2.8" fill="#a772c0" stroke="#8d40aa" stroke-width="0.8"/><rect x="416.11" y="274.5" width="2.8" height="2.8" fill="#a772c0" stroke="#8d40aa" stroke-width="0.8"/><rect x="421.89" y="297.7" width="2.8" height="2.8" fill="#a772c0" stroke="#8d40aa" stroke-width="0.8"/><rect x="427.67" y="306.5" width="2.8" height="2.8" fill="#a772c0" stroke="#8d40aa" stroke-width="0.8"/><rect x="433.44" y="308.4" width="2.8" height="2.8" fill="#a772c0" stroke="#8d40aa" stroke-width="0.8"/><rect x="439.22" y="309.6" width="2.8" height="2.8" fill="#a772c0" stroke="#8d40aa" stroke-width="0.8"/><rect x="445" y="310.8" width="2.8" height="2.8" fill="#a772c0" stroke="#8d40aa" stroke-width="0.8"/><rect x="450.78" y="312" width="2.8" height="2.8" fill="#a772c0" stroke="#8d40aa" stroke-width="0.8"/><rect x="456.55" y="313.2" width="2.8" height="2.8" fill="#a772c0" stroke="#8d40aa" stroke-width="0.8"/><rect x="462.33" y="314.7" width="2.8" height="2.8" fill="#a772c0" stroke="#8d40aa" stroke-width="0.8"/><rect x="468.11" y="316.2" width="2.8" height="2.8" fill="#a772c0" stroke="#8d40aa" stroke-width="0.8"/><rect x="473.89" y="317.33" width="2.8" height="2.8" fill="#a772c0" stroke="#8d40aa" stroke-width="0.8"/><rect x="479.66" y="318.34" width="2.8" height="2.8" fill="#a772c0" stroke="#8d40aa" stroke-width="0.8"/><rect x="485.44" y="318.92" width="2.8" height="2.8" fill="#a772c0" stroke="#8d40aa" stroke-width="0.8"/><rect x="491.22" y="319.5" width="2.8" height="2.8" fill="#a772c0" stroke="#8d40aa" stroke-width="0.8"/><rect x="497" y="320.37" width="2.8" height="2.8" fill="#a772c0" stroke="#8d40aa" stroke-width="0.8"/><rect x="502.77" y="321.23" width="2.8" height="2.8" fill="#a772c0" stroke="#8d40aa" stroke-width="0.8"/><rect x="508.55" y="322.1" width="2.8" height="2.8" fill="#a772c0" stroke="#8d40aa" stroke-width="0.8"/><rect x="514.33" y="322.58" width="2.8" height="2.8" fill="#a772c0" stroke="#8d40aa" stroke-width="0.8"/><rect x="520.11" y="323.05" width="2.8" height="2.8" fill="#a772c0" stroke="#8d40aa" stroke-width="0.8"/><rect x="525.88" y="323.73" width="2.8" height="2.8" fill="#a772c0" stroke="#8d40aa" stroke-width="0.8"/><rect x="531.66" y="324.91" width="2.8" height="2.8" fill="#a772c0" stroke="#8d40aa" stroke-width="0.8"/><rect x="537.44" y="326.1" width="2.8" height="2.8" fill="#a772c0" stroke="#8d40aa" stroke-width="0.8"/><rect x="543.22" y="327.97" width="2.8" height="2.8" fill="#a772c0" stroke="#8d40aa" stroke-width="0.8"/><rect x="548.99" y="329.98" width="2.8" height="2.8" fill="#a772c0" stroke="#8d40aa" stroke-width="0.8"/><rect x="554.77" y="332.32" width="2.8" height="2.8" fill="#a772c0" stroke="#8d40aa" stroke-width="0.8"/><rect x="560.55" y="334.73" width="2.8" height="2.8" fill="#a772c0" stroke="#8d40aa" stroke-width="0.8"/><rect x="566.33" y="337.2" width="2.8" height="2.8" fill="#a772c0" stroke="#8d40aa" stroke-width="0.8"/><rect x="572.1" y="338.03" width="2.8" height="2.8" fill="#a772c0" stroke="#8d40aa" stroke-width="0.8"/><rect x="577.88" y="338.87" width="2.8" height="2.8" fill="#a772c0" stroke="#8d40aa" stroke-width="0.8"/><rect x="583.66" y="339.47" width="2.8" height="2.8" fill="#a772c0" stroke="#8d40aa" stroke-width="0.8"/><rect x="589.44" y="339.93" width="2.8" height="2.8" fill="#a772c0" stroke="#8d40aa" stroke-width="0.8"/><rect x="595.21" y="340.39" width="2.8" height="2.8" fill="#a772c0" stroke="#8d40aa" stroke-width="0.8"/><rect x="600.99" y="341.22" width="2.8" height="2.8" fill="#a772c0" stroke="#8d40aa" stroke-width="0.8"/><rect x="606.77" y="342.16" width="2.8" height="2.8" fill="#a772c0" stroke="#8d40aa" stroke-width="0.8"/><rect x="612.55" y="343.1" width="2.8" height="2.8" fill="#a772c0" stroke="#8d40aa" stroke-width="0.8"/><rect x="618.32" y="344.2" width="2.8" height="2.8" fill="#a772c0" stroke="#8d40aa" stroke-width="0.8"/><rect x="624.1" y="345.3" width="2.8" height="2.8" fill="#a772c0" stroke="#8d40aa" stroke-width="0.8"/><rect x="629.88" y="346.4" width="2.8" height="2.8" fill="#a772c0" stroke="#8d40aa" stroke-width="0.8"/><rect x="635.66" y="347.17" width="2.8" height="2.8" fill="#a772c0" stroke="#8d40aa" stroke-width="0.8"/><rect x="641.43" y="347.94" width="2.8" height="2.8" fill="#a772c0" stroke="#8d40aa" stroke-width="0.8"/><rect x="647.21" y="349.7" width="2.8" height="2.8" fill="#a772c0" stroke="#8d40aa" stroke-width="0.8"/><rect x="652.99" y="353.7" width="2.8" height="2.8" fill="#a772c0" stroke="#8d40aa" stroke-width="0.8"/><rect x="658.77" y="353.7" width="2.8" height="2.8" fill="#a772c0" stroke="#8d40aa" stroke-width="0.8"/><rect x="664.54" y="353.7" width="2.8" height="2.8" fill="#a772c0" stroke="#8d40aa" stroke-width="0.8"/><rect x="670.32" y="353.7" width="2.8" height="2.8" fill="#a772c0" stroke="#8d40aa" stroke-width="0.8"/><rect x="676.1" y="353.7" width="2.8" height="2.8" fill="#a772c0" stroke="#8d40aa" stroke-width="0.8"/>
</g>
<rect x="623.2" y="211.3" width="50.6" height="38.4" fill="#fff" stroke="#2a2a2a" stroke-width="0.9"/>
<path d="M624.9 215.7H639.7" stroke="#e8392b" stroke-width="1.1"/>
<circle cx="632.3" cy="215.7" r="1.67" fill="none" stroke="#e8392b" stroke-width="1.21"/>
<text x="641.1" y="218.05" font-size="6.9" font-weight="bold" fill="#111">WOACBA</text>
<path d="M624.9 223.4H639.7" stroke="#a6d255" stroke-width="0.9"/>
<rect x="631.21" y="222.31" width="2.18" height="2.18" fill="#a6d255"/>
<text x="641.1" y="225.75" font-size="6.9" font-weight="bold" fill="#111">WOA</text>
<path d="M624.9 230.8H639.7" stroke="#52b973" stroke-width="0.95" stroke-dasharray="1.1 0.5"/>
<path d="M630.57 230.8H634.02M632.3 229.08V232.53" stroke="#52b973" stroke-width="0.92"/>
<text x="641.1" y="233.15" font-size="6.9" font-weight="bold" fill="#111">BA</text>
<path d="M624.9 238.2H639.7" stroke="#1f55b5" stroke-width="0.95" stroke-dasharray="2.2 1.3"/>
<circle cx="632.3" cy="238.2" r="1.47" fill="#1f55b5"/>
<text x="641.1" y="240.55" font-size="6.9" font-weight="bold" fill="#111">PSO</text>
<path d="M624.9 245.6H639.7" stroke="#8d40aa" stroke-width="1.2"/>
<rect x="630.9" y="244.2" width="2.8" height="2.8" fill="#a772c0" stroke="#8d40aa" stroke-width="0.8"/>
<text x="641.1" y="247.95" font-size="6.9" font-weight="bold" fill="#111">GA</text>
<path d="M38.74 572.2V575.5M38.74 408.9V405.6M48.18 572.2V575.5M48.18 408.9V405.6M57.62 572.2V575.5M57.62 408.9V405.6M67.06 572.2V575.5M67.06 408.9V405.6M76.5 572.2V578.4M76.5 408.9V402.7M85.94 572.2V575.5M85.94 408.9V405.6M95.38 572.2V575.5M95.38 408.9V405.6M104.82 572.2V575.5M104.82 408.9V405.6M114.26 572.2V575.5M114.26 408.9V405.6M123.7 572.2V578.4M123.7 408.9V402.7M133.14 572.2V575.5M133.14 408.9V405.6M142.58 572.2V575.5M142.58 408.9V405.6M152.02 572.2V575.5M152.02 408.9V405.6M161.46 572.2V575.5M161.46 408.9V405.6M170.9 572.2V578.4M170.9 408.9V402.7M180.34 572.2V575.5M180.34 408.9V405.6M189.78 572.2V575.5M189.78 408.9V405.6M199.22 572.2V575.5M199.22 408.9V405.6M208.66 572.2V575.5M208.66 408.9V405.6M218.1 572.2V578.4M218.1 408.9V402.7M227.54 572.2V575.5M227.54 408.9V405.6M236.98 572.2V575.5M236.98 408.9V405.6M246.42 572.2V575.5M246.42 408.9V405.6M255.86 572.2V575.5M255.86 408.9V405.6M265.3 572.2V578.4M265.3 408.9V402.7M274.74 572.2V575.5M274.74 408.9V405.6M284.18 572.2V575.5M284.18 408.9V405.6M293.62 572.2V575.5M293.62 408.9V405.6M303.06 572.2V575.5M303.06 408.9V405.6M312.5 572.2V578.4M312.5 408.9V402.7M29.3 571.29H26M312.5 571.29H315.8M29.3 569.55H26M312.5 569.55H315.8M29.3 568.2H26M312.5 568.2H315.8M29.3 567.09H26M312.5 567.09H315.8M29.3 566.16H26M312.5 566.16H315.8M29.3 565.35H26M312.5 565.35H315.8M29.3 564.64H26M312.5 564.64H315.8M29.3 564H23.1M312.5 564H318.7M29.3 559.8H26M312.5 559.8H315.8M29.3 557.34H26M312.5 557.34H315.8M29.3 555.6H26M312.5 555.6H315.8M29.3 554.25H26M312.5 554.25H315.8M29.3 553.14H26M312.5 553.14H315.8M29.3 552.21H26M312.5 552.21H315.8M29.3 551.4H26M312.5 551.4H315.8M29.3 550.69H26M312.5 550.69H315.8M29.3 550.05H26M312.5 550.05H315.8M29.3 545.85H26M312.5 545.85H315.8M29.3 543.39H26M312.5 543.39H315.8M29.3 541.65H26M312.5 541.65H315.8M29.3 540.3H26M312.5 540.3H315.8M29.3 539.19H26M312.5 539.19H315.8M29.3 538.26H26M312.5 538.26H315.8M29.3 537.45H26M312.5 537.45H315.8M29.3 536.74H26M312.5 536.74H315.8M29.3 536.1H23.1M312.5 536.1H318.7M29.3 531.9H26M312.5 531.9H315.8M29.3 529.44H26M312.5 529.44H315.8M29.3 527.7H26M312.5 527.7H315.8M29.3 526.35H26M312.5 526.35H315.8M29.3 525.24H26M312.5 525.24H315.8M29.3 524.31H26M312.5 524.31H315.8M29.3 523.5H26M312.5 523.5H315.8M29.3 522.79H26M312.5 522.79H315.8M29.3 522.15H26M312.5 522.15H315.8M29.3 517.95H26M312.5 517.95H315.8M29.3 515.49H26M312.5 515.49H315.8M29.3 513.75H26M312.5 513.75H315.8M29.3 512.4H26M312.5 512.4H315.8M29.3 511.29H26M312.5 511.29H315.8M29.3 510.36H26M312.5 510.36H315.8M29.3 509.55H26M312.5 509.55H315.8M29.3 508.84H26M312.5 508.84H315.8M29.3 508.2H23.1M312.5 508.2H318.7M29.3 504H26M312.5 504H315.8M29.3 501.54H26M312.5 501.54H315.8M29.3 499.8H26M312.5 499.8H315.8M29.3 498.45H26M312.5 498.45H315.8M29.3 497.34H26M312.5 497.34H315.8M29.3 496.41H26M312.5 496.41H315.8M29.3 495.6H26M312.5 495.6H315.8M29.3 494.89H26M312.5 494.89H315.8M29.3 494.25H26M312.5 494.25H315.8M29.3 490.05H26M312.5 490.05H315.8M29.3 487.59H26M312.5 487.59H315.8M29.3 485.85H26M312.5 485.85H315.8M29.3 484.5H26M312.5 484.5H315.8M29.3 483.39H26M312.5 483.39H315.8M29.3 482.46H26M312.5 482.46H315.8M29.3 481.65H26M312.5 481.65H315.8M29.3 480.94H26M312.5 480.94H315.8M29.3 480.3H23.1M312.5 480.3H318.7M29.3 476.1H26M312.5 476.1H315.8M29.3 473.64H26M312.5 473.64H315.8M29.3 471.9H26M312.5 471.9H315.8M29.3 470.55H26M312.5 470.55H315.8M29.3 469.44H26M312.5 469.44H315.8M29.3 468.51H26M312.5 468.51H315.8M29.3 467.7H26M312.5 467.7H315.8M29.3 466.99H26M312.5 466.99H315.8M29.3 466.35H26M312.5 466.35H315.8M29.3 462.15H26M312.5 462.15H315.8M29.3 459.69H26M312.5 459.69H315.8M29.3 457.95H26M312.5 457.95H315.8M29.3 456.6H26M312.5 456.6H315.8M29.3 455.49H26M312.5 455.49H315.8M29.3 454.56H26M312.5 454.56H315.8M29.3 453.75H26M312.5 453.75H315.8M29.3 453.04H26M312.5 453.04H315.8M29.3 452.4H23.1M312.5 452.4H318.7M29.3 448.2H26M312.5 448.2H315.8M29.3 445.74H26M312.5 445.74H315.8M29.3 444H26M312.5 444H315.8M29.3 442.65H26M312.5 442.65H315.8M29.3 441.54H26M312.5 441.54H315.8M29.3 440.61H26M312.5 440.61H315.8M29.3 439.8H26M312.5 439.8H315.8M29.3 439.09H26M312.5 439.09H315.8M29.3 438.45H26M312.5 438.45H315.8M29.3 434.25H26M312.5 434.25H315.8M29.3 431.79H26M312.5 431.79H315.8M29.3 430.05H26M312.5 430.05H315.8M29.3 428.7H26M312.5 428.7H315.8M29.3 427.59H26M312.5 427.59H315.8M29.3 426.66H26M312.5 426.66H315.8M29.3 425.85H26M312.5 425.85H315.8M29.3 425.14H26M312.5 425.14H315.8M29.3 424.5H23.1M312.5 424.5H318.7M29.3 420.3H26M312.5 420.3H315.8M29.3 417.84H26M312.5 417.84H315.8M29.3 416.1H26M312.5 416.1H315.8M29.3 414.75H26M312.5 414.75H315.8M29.3 413.64H26M312.5 413.64H315.8M29.3 412.71H26M312.5 412.71H315.8M29.3 411.9H26M312.5 411.9H315.8M29.3 411.19H26M312.5 411.19H315.8M29.3 410.55H26M312.5 410.55H315.8" stroke="#868686" stroke-width="0.95" fill="none"/>
<text x="76.5" y="585.5" font-size="5.5" text-anchor="middle" font-weight="normal" fill="#3c3c3c" stroke="#3c3c3c" stroke-width="0.22">500</text>
<text x="123.7" y="585.5" font-size="5.5" text-anchor="middle" font-weight="normal" fill="#3c3c3c" stroke="#3c3c3c" stroke-width="0.22">1000</text>
<text x="170.9" y="585.5" font-size="5.5" text-anchor="middle" font-weight="normal" fill="#3c3c3c" stroke="#3c3c3c" stroke-width="0.22">1500</text>
<text x="218.1" y="585.5" font-size="5.5" text-anchor="middle" font-weight="normal" fill="#3c3c3c" stroke="#3c3c3c" stroke-width="0.22">2000</text>
<text x="265.3" y="585.5" font-size="5.5" text-anchor="middle" font-weight="normal" fill="#3c3c3c" stroke="#3c3c3c" stroke-width="0.22">2500</text>
<text x="312.5" y="585.5" font-size="5.5" text-anchor="middle" font-weight="normal" fill="#3c3c3c" stroke="#3c3c3c" stroke-width="0.22">3000</text>
<text x="170.9" y="592.2" font-size="6" text-anchor="middle" font-weight="bold" fill="#5a5a5a" stroke="#5a5a5a" stroke-width="0.22">Iteration</text>
<text x="0" y="0" font-size="6.0" text-anchor="middle" font-weight="bold" fill="#5a5a5a" stroke="#5a5a5a" stroke-width="0.18" transform="translate(6.9 489.3) rotate(-90)" dominant-baseline="central">Best score obtained so far</text>
<text x="170.9" y="406.8" font-size="6.4" text-anchor="middle" font-weight="bold" fill="#222" stroke="#222" stroke-width="0.22">F13</text>
<text x="20.3" y="427.41" font-size="5.8" text-anchor="end" font-weight="normal" fill="#3c3c3c" stroke="#3c3c3c" stroke-width="0.22">10<tspan font-size="4.06" dy="-2.9">8</tspan></text>
<text x="20.3" y="455.31" font-size="5.8" text-anchor="end" font-weight="normal" fill="#3c3c3c" stroke="#3c3c3c" stroke-width="0.22">10<tspan font-size="4.06" dy="-2.9">6</tspan></text>
<text x="20.3" y="483.21" font-size="5.8" text-anchor="end" font-weight="normal" fill="#3c3c3c" stroke="#3c3c3c" stroke-width="0.22">10<tspan font-size="4.06" dy="-2.9">4</tspan></text>
<text x="20.3" y="511.11" font-size="5.8" text-anchor="end" font-weight="normal" fill="#3c3c3c" stroke="#3c3c3c" stroke-width="0.22">10<tspan font-size="4.06" dy="-2.9">2</tspan></text>
<text x="20.3" y="539.01" font-size="5.8" text-anchor="end" font-weight="normal" fill="#3c3c3c" stroke="#3c3c3c" stroke-width="0.22">10<tspan font-size="4.06" dy="-2.9">0</tspan></text>
<text x="20.3" y="566.91" font-size="5.8" text-anchor="end" font-weight="normal" fill="#3c3c3c" stroke="#3c3c3c" stroke-width="0.22">10<tspan font-size="4.06" dy="-2.9">-2</tspan></text>
<rect x="29.3" y="408.9" width="283.2" height="163.3" fill="none" stroke="#868686" stroke-width="1.2"/>
<clipPath id="cF13"><rect x="27.3" y="406.4" width="287.2" height="168.3"/></clipPath>
<g clip-path="url(#cF13)">
<path d="M29.3 412 L35.08 533.1 L40.86 539.9 L46.64 541.7 L52.42 542.9 L58.2 544.7 L63.98 546.5 L69.76 547.8 L75.54 550.1 L81.32 552.6 L87.1 554.9 L92.88 555.6 L100.1 557.2 L110.21 559.5 L123.6 562.2 L130.3 564.5 L143.7 566.2 L152.1 571.3 L155 572 L312.5 572" fill="none" stroke="#e8392b" stroke-width="1.1" stroke-linejoin="round"/>
<circle cx="29.3" cy="412" r="1.45" fill="none" stroke="#e8392b" stroke-width="1.05"/><circle cx="35.08" cy="533.1" r="1.45" fill="none" stroke="#e8392b" stroke-width="1.05"/><circle cx="40.86" cy="539.9" r="1.45" fill="none" stroke="#e8392b" stroke-width="1.05"/><circle cx="46.64" cy="541.7" r="1.45" fill="none" stroke="#e8392b" stroke-width="1.05"/><circle cx="52.42" cy="542.9" r="1.45" fill="none" stroke="#e8392b" stroke-width="1.05"/><circle cx="58.2" cy="544.7" r="1.45" fill="none" stroke="#e8392b" stroke-width="1.05"/><circle cx="63.98" cy="546.5" r="1.45" fill="none" stroke="#e8392b" stroke-width="1.05"/><circle cx="69.76" cy="547.8" r="1.45" fill="none" stroke="#e8392b" stroke-width="1.05"/><circle cx="75.54" cy="550.1" r="1.45" fill="none" stroke="#e8392b" stroke-width="1.05"/><circle cx="81.32" cy="552.6" r="1.45" fill="none" stroke="#e8392b" stroke-width="1.05"/><circle cx="87.1" cy="554.9" r="1.45" fill="none" stroke="#e8392b" stroke-width="1.05"/><circle cx="92.88" cy="555.6" r="1.45" fill="none" stroke="#e8392b" stroke-width="1.05"/><circle cx="98.66" cy="556.88" r="1.45" fill="none" stroke="#e8392b" stroke-width="1.05"/><circle cx="104.43" cy="558.19" r="1.45" fill="none" stroke="#e8392b" stroke-width="1.05"/><circle cx="110.21" cy="559.5" r="1.45" fill="none" stroke="#e8392b" stroke-width="1.05"/><circle cx="115.99" cy="560.67" r="1.45" fill="none" stroke="#e8392b" stroke-width="1.05"/><circle cx="121.77" cy="561.83" r="1.45" fill="none" stroke="#e8392b" stroke-width="1.05"/><circle cx="127.55" cy="563.56" r="1.45" fill="none" stroke="#e8392b" stroke-width="1.05"/><circle cx="133.33" cy="564.88" r="1.45" fill="none" stroke="#e8392b" stroke-width="1.05"/><circle cx="139.11" cy="565.62" r="1.45" fill="none" stroke="#e8392b" stroke-width="1.05"/><circle cx="144.89" cy="566.92" r="1.45" fill="none" stroke="#e8392b" stroke-width="1.05"/><circle cx="150.67" cy="570.43" r="1.45" fill="none" stroke="#e8392b" stroke-width="1.05"/><circle cx="156.45" cy="572" r="1.45" fill="none" stroke="#e8392b" stroke-width="1.05"/><circle cx="162.23" cy="572" r="1.45" fill="none" stroke="#e8392b" stroke-width="1.05"/><circle cx="168.01" cy="572" r="1.45" fill="none" stroke="#e8392b" stroke-width="1.05"/><circle cx="173.79" cy="572" r="1.45" fill="none" stroke="#e8392b" stroke-width="1.05"/><circle cx="179.57" cy="572" r="1.45" fill="none" stroke="#e8392b" stroke-width="1.05"/><circle cx="185.35" cy="572" r="1.45" fill="none" stroke="#e8392b" stroke-width="1.05"/><circle cx="191.13" cy="572" r="1.45" fill="none" stroke="#e8392b" stroke-width="1.05"/><circle cx="196.91" cy="572" r="1.45" fill="none" stroke="#e8392b" stroke-width="1.05"/><circle cx="202.69" cy="572" r="1.45" fill="none" stroke="#e8392b" stroke-width="1.05"/><circle cx="208.47" cy="572" r="1.45" fill="none" stroke="#e8392b" stroke-width="1.05"/><circle cx="214.25" cy="572" r="1.45" fill="none" stroke="#e8392b" stroke-width="1.05"/><circle cx="220.03" cy="572" r="1.45" fill="none" stroke="#e8392b" stroke-width="1.05"/><circle cx="225.81" cy="572" r="1.45" fill="none" stroke="#e8392b" stroke-width="1.05"/><circle cx="231.59" cy="572" r="1.45" fill="none" stroke="#e8392b" stroke-width="1.05"/><circle cx="237.37" cy="572" r="1.45" fill="none" stroke="#e8392b" stroke-width="1.05"/><circle cx="243.14" cy="572" r="1.45" fill="none" stroke="#e8392b" stroke-width="1.05"/><circle cx="248.92" cy="572" r="1.45" fill="none" stroke="#e8392b" stroke-width="1.05"/><circle cx="254.7" cy="572" r="1.45" fill="none" stroke="#e8392b" stroke-width="1.05"/><circle cx="260.48" cy="572" r="1.45" fill="none" stroke="#e8392b" stroke-width="1.05"/><circle cx="266.26" cy="572" r="1.45" fill="none" stroke="#e8392b" stroke-width="1.05"/><circle cx="272.04" cy="572" r="1.45" fill="none" stroke="#e8392b" stroke-width="1.05"/><circle cx="277.82" cy="572" r="1.45" fill="none" stroke="#e8392b" stroke-width="1.05"/><circle cx="283.6" cy="572" r="1.45" fill="none" stroke="#e8392b" stroke-width="1.05"/><circle cx="289.38" cy="572" r="1.45" fill="none" stroke="#e8392b" stroke-width="1.05"/><circle cx="295.16" cy="572" r="1.45" fill="none" stroke="#e8392b" stroke-width="1.05"/><circle cx="300.94" cy="572" r="1.45" fill="none" stroke="#e8392b" stroke-width="1.05"/><circle cx="306.72" cy="572" r="1.45" fill="none" stroke="#e8392b" stroke-width="1.05"/><circle cx="312.5" cy="572" r="1.45" fill="none" stroke="#e8392b" stroke-width="1.05"/>
<path d="M29.3 411 L35.08 528 L40.86 535.6 L46.64 539.2 L52.42 540.6 L58.2 541.7 L63.98 544 L69.76 545.1 L75.54 546.9 L81.32 548.5 L87.1 550.3 L92.88 551.9 L106.8 553.8 L123.6 555.1 L312.5 555.5" fill="none" stroke="#a6d255" stroke-width="0.9" stroke-linejoin="round"/>
<rect x="28.35" y="410.05" width="1.9" height="1.9" fill="#a6d255"/><rect x="34.13" y="527.05" width="1.9" height="1.9" fill="#a6d255"/><rect x="39.91" y="534.65" width="1.9" height="1.9" fill="#a6d255"/><rect x="45.69" y="538.25" width="1.9" height="1.9" fill="#a6d255"/><rect x="51.47" y="539.65" width="1.9" height="1.9" fill="#a6d255"/><rect x="57.25" y="540.75" width="1.9" height="1.9" fill="#a6d255"/><rect x="63.03" y="543.05" width="1.9" height="1.9" fill="#a6d255"/><rect x="68.81" y="544.15" width="1.9" height="1.9" fill="#a6d255"/><rect x="74.59" y="545.95" width="1.9" height="1.9" fill="#a6d255"/><rect x="80.37" y="547.55" width="1.9" height="1.9" fill="#a6d255"/><rect x="86.15" y="549.35" width="1.9" height="1.9" fill="#a6d255"/><rect x="91.93" y="550.95" width="1.9" height="1.9" fill="#a6d255"/><rect x="97.71" y="551.74" width="1.9" height="1.9" fill="#a6d255"/><rect x="103.48" y="552.53" width="1.9" height="1.9" fill="#a6d255"/><rect x="109.26" y="553.11" width="1.9" height="1.9" fill="#a6d255"/><rect x="115.04" y="553.56" width="1.9" height="1.9" fill="#a6d255"/><rect x="120.82" y="554.01" width="1.9" height="1.9" fill="#a6d255"/><rect x="126.6" y="554.16" width="1.9" height="1.9" fill="#a6d255"/><rect x="132.38" y="554.17" width="1.9" height="1.9" fill="#a6d255"/><rect x="138.16" y="554.18" width="1.9" height="1.9" fill="#a6d255"/><rect x="143.94" y="554.2" width="1.9" height="1.9" fill="#a6d255"/><rect x="149.72" y="554.21" width="1.9" height="1.9" fill="#a6d255"/><rect x="155.5" y="554.22" width="1.9" height="1.9" fill="#a6d255"/><rect x="161.28" y="554.23" width="1.9" height="1.9" fill="#a6d255"/><rect x="167.06" y="554.24" width="1.9" height="1.9" fill="#a6d255"/><rect x="172.84" y="554.26" width="1.9" height="1.9" fill="#a6d255"/><rect x="178.62" y="554.27" width="1.9" height="1.9" fill="#a6d255"/><rect x="184.4" y="554.28" width="1.9" height="1.9" fill="#a6d255"/><rect x="190.18" y="554.29" width="1.9" height="1.9" fill="#a6d255"/><rect x="195.96" y="554.31" width="1.9" height="1.9" fill="#a6d255"/><rect x="201.74" y="554.32" width="1.9" height="1.9" fill="#a6d255"/><rect x="207.52" y="554.33" width="1.9" height="1.9" fill="#a6d255"/><rect x="213.3" y="554.34" width="1.9" height="1.9" fill="#a6d255"/><rect x="219.08" y="554.35" width="1.9" height="1.9" fill="#a6d255"/><rect x="224.86" y="554.37" width="1.9" height="1.9" fill="#a6d255"/><rect x="230.64" y="554.38" width="1.9" height="1.9" fill="#a6d255"/><rect x="236.42" y="554.39" width="1.9" height="1.9" fill="#a6d255"/><rect x="242.19" y="554.4" width="1.9" height="1.9" fill="#a6d255"/><rect x="247.97" y="554.42" width="1.9" height="1.9" fill="#a6d255"/><rect x="253.75" y="554.43" width="1.9" height="1.9" fill="#a6d255"/><rect x="259.53" y="554.44" width="1.9" height="1.9" fill="#a6d255"/><rect x="265.31" y="554.45" width="1.9" height="1.9" fill="#a6d255"/><rect x="271.09" y="554.46" width="1.9" height="1.9" fill="#a6d255"/><rect x="276.87" y="554.48" width="1.9" height="1.9" fill="#a6d255"/><rect x="282.65" y="554.49" width="1.9" height="1.9" fill="#a6d255"/><rect x="288.43" y="554.5" width="1.9" height="1.9" fill="#a6d255"/><rect x="294.21" y="554.51" width="1.9" height="1.9" fill="#a6d255"/><rect x="299.99" y="554.53" width="1.9" height="1.9" fill="#a6d255"/><rect x="305.77" y="554.54" width="1.9" height="1.9" fill="#a6d255"/><rect x="311.55" y="554.55" width="1.9" height="1.9" fill="#a6d255"/>
<path d="M29.3 415 L35.08 512.2 L40.86 526.3 L46.64 527.7 L63.98 529.3 L98.66 530.4 L123.6 531 L312.5 531.6" fill="none" stroke="#52b973" stroke-width="0.95" stroke-dasharray="1.1 0.5" stroke-linejoin="round"/>
<path d="M27.8 415H30.8M29.3 413.5V416.5" stroke="#52b973" stroke-width="0.8"/><path d="M33.58 512.2H36.58M35.08 510.7V513.7" stroke="#52b973" stroke-width="0.8"/><path d="M39.36 526.3H42.36M40.86 524.8V527.8" stroke="#52b973" stroke-width="0.8"/><path d="M45.14 527.7H48.14M46.64 526.2V529.2" stroke="#52b973" stroke-width="0.8"/><path d="M50.92 528.23H53.92M52.42 526.73V529.73" stroke="#52b973" stroke-width="0.8"/><path d="M56.7 528.77H59.7M58.2 527.27V530.27" stroke="#52b973" stroke-width="0.8"/><path d="M62.48 529.3H65.48M63.98 527.8V530.8" stroke="#52b973" stroke-width="0.8"/><path d="M68.26 529.48H71.26M69.76 527.98V530.98" stroke="#52b973" stroke-width="0.8"/><path d="M74.04 529.67H77.04M75.54 528.17V531.17" stroke="#52b973" stroke-width="0.8"/><path d="M79.82 529.85H82.82M81.32 528.35V531.35" stroke="#52b973" stroke-width="0.8"/><path d="M85.6 530.03H88.6M87.1 528.53V531.53" stroke="#52b973" stroke-width="0.8"/><path d="M91.38 530.22H94.38M92.88 528.72V531.72" stroke="#52b973" stroke-width="0.8"/><path d="M97.16 530.4H100.16M98.66 528.9V531.9" stroke="#52b973" stroke-width="0.8"/><path d="M102.93 530.54H105.93M104.43 529.04V532.04" stroke="#52b973" stroke-width="0.8"/><path d="M108.71 530.68H111.71M110.21 529.18V532.18" stroke="#52b973" stroke-width="0.8"/><path d="M114.49 530.82H117.49M115.99 529.32V532.32" stroke="#52b973" stroke-width="0.8"/><path d="M120.27 530.96H123.27M121.77 529.46V532.46" stroke="#52b973" stroke-width="0.8"/><path d="M126.05 531.01H129.05M127.55 529.51V532.51" stroke="#52b973" stroke-width="0.8"/><path d="M131.83 531.03H134.83M133.33 529.53V532.53" stroke="#52b973" stroke-width="0.8"/><path d="M137.61 531.05H140.61M139.11 529.55V532.55" stroke="#52b973" stroke-width="0.8"/><path d="M143.39 531.07H146.39M144.89 529.57V532.57" stroke="#52b973" stroke-width="0.8"/><path d="M149.17 531.09H152.17M150.67 529.59V532.59" stroke="#52b973" stroke-width="0.8"/><path d="M154.95 531.1H157.95M156.45 529.6V532.6" stroke="#52b973" stroke-width="0.8"/><path d="M160.73 531.12H163.73M162.23 529.62V532.62" stroke="#52b973" stroke-width="0.8"/><path d="M166.51 531.14H169.51M168.01 529.64V532.64" stroke="#52b973" stroke-width="0.8"/><path d="M172.29 531.16H175.29M173.79 529.66V532.66" stroke="#52b973" stroke-width="0.8"/><path d="M178.07 531.18H181.07M179.57 529.68V532.68" stroke="#52b973" stroke-width="0.8"/><path d="M183.85 531.2H186.85M185.35 529.7V532.7" stroke="#52b973" stroke-width="0.8"/><path d="M189.63 531.21H192.63M191.13 529.71V532.71" stroke="#52b973" stroke-width="0.8"/><path d="M195.41 531.23H198.41M196.91 529.73V532.73" stroke="#52b973" stroke-width="0.8"/><path d="M201.19 531.25H204.19M202.69 529.75V532.75" stroke="#52b973" stroke-width="0.8"/><path d="M206.97 531.27H209.97M208.47 529.77V532.77" stroke="#52b973" stroke-width="0.8"/><path d="M212.75 531.29H215.75M214.25 529.79V532.79" stroke="#52b973" stroke-width="0.8"/><path d="M218.53 531.31H221.53M220.03 529.81V532.81" stroke="#52b973" stroke-width="0.8"/><path d="M224.31 531.32H227.31M225.81 529.82V532.82" stroke="#52b973" stroke-width="0.8"/><path d="M230.09 531.34H233.09M231.59 529.84V532.84" stroke="#52b973" stroke-width="0.8"/><path d="M235.87 531.36H238.87M237.37 529.86V532.86" stroke="#52b973" stroke-width="0.8"/><path d="M241.64 531.38H244.64M243.14 529.88V532.88" stroke="#52b973" stroke-width="0.8"/><path d="M247.42 531.4H250.42M248.92 529.9V532.9" stroke="#52b973" stroke-width="0.8"/><path d="M253.2 531.42H256.2M254.7 529.92V532.92" stroke="#52b973" stroke-width="0.8"/><path d="M258.98 531.43H261.98M260.48 529.93V532.93" stroke="#52b973" stroke-width="0.8"/><path d="M264.76 531.45H267.76M266.26 529.95V532.95" stroke="#52b973" stroke-width="0.8"/><path d="M270.54 531.47H273.54M272.04 529.97V532.97" stroke="#52b973" stroke-width="0.8"/><path d="M276.32 531.49H279.32M277.82 529.99V532.99" stroke="#52b973" stroke-width="0.8"/><path d="M282.1 531.51H285.1M283.6 530.01V533.01" stroke="#52b973" stroke-width="0.8"/><path d="M287.88 531.53H290.88M289.38 530.03V533.03" stroke="#52b973" stroke-width="0.8"/><path d="M293.66 531.54H296.66M295.16 530.04V533.04" stroke="#52b973" stroke-width="0.8"/><path d="M299.44 531.56H302.44M300.94 530.06V533.06" stroke="#52b973" stroke-width="0.8"/><path d="M305.22 531.58H308.22M306.72 530.08V533.08" stroke="#52b973" stroke-width="0.8"/><path d="M311 531.6H314M312.5 530.1V533.1" stroke="#52b973" stroke-width="0.8"/>
<path d="M29.3 410.2 L31.7 445.4 L35.08 481.2 L40.86 510.4 L46.64 513.4 L52.42 513.8 L63.98 514.5 L75.54 515.2 L98.66 516.1 L123.6 516.5 L312.5 517.5" fill="none" stroke="#1f55b5" stroke-width="0.95" stroke-dasharray="2.2 1.3" stroke-linejoin="round"/>
<circle cx="29.3" cy="410.2" r="1.55" fill="#1f55b5"/><circle cx="35.08" cy="481.2" r="1.55" fill="#1f55b5"/><circle cx="40.86" cy="510.4" r="1.55" fill="#1f55b5"/><circle cx="46.64" cy="513.4" r="1.55" fill="#1f55b5"/><circle cx="52.42" cy="513.8" r="1.55" fill="#1f55b5"/><circle cx="58.2" cy="514.15" r="1.55" fill="#1f55b5"/><circle cx="63.98" cy="514.5" r="1.55" fill="#1f55b5"/><circle cx="69.76" cy="514.85" r="1.55" fill="#1f55b5"/><circle cx="75.54" cy="515.2" r="1.55" fill="#1f55b5"/><circle cx="81.32" cy="515.43" r="1.55" fill="#1f55b5"/><circle cx="87.1" cy="515.65" r="1.55" fill="#1f55b5"/><circle cx="92.88" cy="515.88" r="1.55" fill="#1f55b5"/><circle cx="98.66" cy="516.1" r="1.55" fill="#1f55b5"/><circle cx="104.43" cy="516.19" r="1.55" fill="#1f55b5"/><circle cx="110.21" cy="516.29" r="1.55" fill="#1f55b5"/><circle cx="115.99" cy="516.38" r="1.55" fill="#1f55b5"/><circle cx="121.77" cy="516.47" r="1.55" fill="#1f55b5"/><circle cx="127.55" cy="516.52" r="1.55" fill="#1f55b5"/><circle cx="133.33" cy="516.55" r="1.55" fill="#1f55b5"/><circle cx="139.11" cy="516.58" r="1.55" fill="#1f55b5"/><circle cx="144.89" cy="516.61" r="1.55" fill="#1f55b5"/><circle cx="150.67" cy="516.64" r="1.55" fill="#1f55b5"/><circle cx="156.45" cy="516.67" r="1.55" fill="#1f55b5"/><circle cx="162.23" cy="516.7" r="1.55" fill="#1f55b5"/><circle cx="168.01" cy="516.74" r="1.55" fill="#1f55b5"/><circle cx="173.79" cy="516.77" r="1.55" fill="#1f55b5"/><circle cx="179.57" cy="516.8" r="1.55" fill="#1f55b5"/><circle cx="185.35" cy="516.83" r="1.55" fill="#1f55b5"/><circle cx="191.13" cy="516.86" r="1.55" fill="#1f55b5"/><circle cx="196.91" cy="516.89" r="1.55" fill="#1f55b5"/><circle cx="202.69" cy="516.92" r="1.55" fill="#1f55b5"/><circle cx="208.47" cy="516.95" r="1.55" fill="#1f55b5"/><circle cx="214.25" cy="516.98" r="1.55" fill="#1f55b5"/><circle cx="220.03" cy="517.01" r="1.55" fill="#1f55b5"/><circle cx="225.81" cy="517.04" r="1.55" fill="#1f55b5"/><circle cx="231.59" cy="517.07" r="1.55" fill="#1f55b5"/><circle cx="237.37" cy="517.1" r="1.55" fill="#1f55b5"/><circle cx="243.14" cy="517.13" r="1.55" fill="#1f55b5"/><circle cx="248.92" cy="517.16" r="1.55" fill="#1f55b5"/><circle cx="254.7" cy="517.19" r="1.55" fill="#1f55b5"/><circle cx="260.48" cy="517.22" r="1.55" fill="#1f55b5"/><circle cx="266.26" cy="517.26" r="1.55" fill="#1f55b5"/><circle cx="272.04" cy="517.29" r="1.55" fill="#1f55b5"/><circle cx="277.82" cy="517.32" r="1.55" fill="#1f55b5"/><circle cx="283.6" cy="517.35" r="1.55" fill="#1f55b5"/><circle cx="289.38" cy="517.38" r="1.55" fill="#1f55b5"/><circle cx="295.16" cy="517.41" r="1.55" fill="#1f55b5"/><circle cx="300.94" cy="517.44" r="1.55" fill="#1f55b5"/><circle cx="306.72" cy="517.47" r="1.55" fill="#1f55b5"/><circle cx="312.5" cy="517.5" r="1.55" fill="#1f55b5"/>
<path d="M29.3 409.1 L35.08 422.2 L40.86 432.4 L46.64 453.3 L52.42 464.6 L58.2 476.6 L63.98 493 L69.76 513.8 L75.54 519.7 L81.32 521.8 L87.1 523.1 L92.88 524 L98.66 525.2 L110.21 526.5 L123.6 529.3 L140.4 531.6 L156.45 533.3 L180.7 535.3 L207.5 537 L241.1 538.3 L274.7 539.4 L298.2 540 L312.5 541.4" fill="none" stroke="#8d40aa" stroke-width="1.2" stroke-linejoin="round"/>
<rect x="27.9" y="407.7" width="2.8" height="2.8" fill="#8d40aa" stroke="#8d40aa" stroke-width="0.3"/><rect x="33.68" y="420.8" width="2.8" height="2.8" fill="#8d40aa" stroke="#8d40aa" stroke-width="0.3"/><rect x="39.46" y="431" width="2.8" height="2.8" fill="#8d40aa" stroke="#8d40aa" stroke-width="0.3"/><rect x="45.24" y="451.9" width="2.8" height="2.8" fill="#8d40aa" stroke="#8d40aa" stroke-width="0.3"/><rect x="51.02" y="463.2" width="2.8" height="2.8" fill="#8d40aa" stroke="#8d40aa" stroke-width="0.3"/><rect x="56.8" y="475.2" width="2.8" height="2.8" fill="#8d40aa" stroke="#8d40aa" stroke-width="0.3"/><rect x="62.58" y="491.6" width="2.8" height="2.8" fill="#8d40aa" stroke="#8d40aa" stroke-width="0.3"/><rect x="68.36" y="512.4" width="2.8" height="2.8" fill="#8d40aa" stroke="#8d40aa" stroke-width="0.3"/><rect x="74.14" y="518.3" width="2.8" height="2.8" fill="#8d40aa" stroke="#8d40aa" stroke-width="0.3"/><rect x="79.92" y="520.4" width="2.8" height="2.8" fill="#8d40aa" stroke="#8d40aa" stroke-width="0.3"/><rect x="85.7" y="521.7" width="2.8" height="2.8" fill="#8d40aa" stroke="#8d40aa" stroke-width="0.3"/><rect x="91.48" y="522.6" width="2.8" height="2.8" fill="#8d40aa" stroke="#8d40aa" stroke-width="0.3"/><rect x="97.26" y="523.8" width="2.8" height="2.8" fill="#8d40aa" stroke="#8d40aa" stroke-width="0.3"/><rect x="103.03" y="524.45" width="2.8" height="2.8" fill="#8d40aa" stroke="#8d40aa" stroke-width="0.3"/><rect x="108.81" y="525.1" width="2.8" height="2.8" fill="#8d40aa" stroke="#8d40aa" stroke-width="0.3"/><rect x="114.59" y="526.31" width="2.8" height="2.8" fill="#8d40aa" stroke="#8d40aa" stroke-width="0.3"/><rect x="120.37" y="527.52" width="2.8" height="2.8" fill="#8d40aa" stroke="#8d40aa" stroke-width="0.3"/><rect x="126.15" y="528.44" width="2.8" height="2.8" fill="#8d40aa" stroke="#8d40aa" stroke-width="0.3"/><rect x="131.93" y="529.23" width="2.8" height="2.8" fill="#8d40aa" stroke="#8d40aa" stroke-width="0.3"/><rect x="137.71" y="530.02" width="2.8" height="2.8" fill="#8d40aa" stroke="#8d40aa" stroke-width="0.3"/><rect x="143.49" y="530.68" width="2.8" height="2.8" fill="#8d40aa" stroke="#8d40aa" stroke-width="0.3"/><rect x="149.27" y="531.29" width="2.8" height="2.8" fill="#8d40aa" stroke="#8d40aa" stroke-width="0.3"/><rect x="155.05" y="531.9" width="2.8" height="2.8" fill="#8d40aa" stroke="#8d40aa" stroke-width="0.3"/><rect x="160.83" y="532.38" width="2.8" height="2.8" fill="#8d40aa" stroke="#8d40aa" stroke-width="0.3"/><rect x="166.61" y="532.85" width="2.8" height="2.8" fill="#8d40aa" stroke="#8d40aa" stroke-width="0.3"/><rect x="172.39" y="533.33" width="2.8" height="2.8" fill="#8d40aa" stroke="#8d40aa" stroke-width="0.3"/><rect x="178.17" y="533.81" width="2.8" height="2.8" fill="#8d40aa" stroke="#8d40aa" stroke-width="0.3"/><rect x="183.95" y="534.19" width="2.8" height="2.8" fill="#8d40aa" stroke="#8d40aa" stroke-width="0.3"/><rect x="189.73" y="534.56" width="2.8" height="2.8" fill="#8d40aa" stroke="#8d40aa" stroke-width="0.3"/><rect x="195.51" y="534.93" width="2.8" height="2.8" fill="#8d40aa" stroke="#8d40aa" stroke-width="0.3"/><rect x="201.29" y="535.29" width="2.8" height="2.8" fill="#8d40aa" stroke="#8d40aa" stroke-width="0.3"/><rect x="207.07" y="535.64" width="2.8" height="2.8" fill="#8d40aa" stroke="#8d40aa" stroke-width="0.3"/><rect x="212.85" y="535.86" width="2.8" height="2.8" fill="#8d40aa" stroke="#8d40aa" stroke-width="0.3"/><rect x="218.63" y="536.08" width="2.8" height="2.8" fill="#8d40aa" stroke="#8d40aa" stroke-width="0.3"/><rect x="224.41" y="536.31" width="2.8" height="2.8" fill="#8d40aa" stroke="#8d40aa" stroke-width="0.3"/><rect x="230.19" y="536.53" width="2.8" height="2.8" fill="#8d40aa" stroke="#8d40aa" stroke-width="0.3"/><rect x="235.97" y="536.76" width="2.8" height="2.8" fill="#8d40aa" stroke="#8d40aa" stroke-width="0.3"/><rect x="241.74" y="536.97" width="2.8" height="2.8" fill="#8d40aa" stroke="#8d40aa" stroke-width="0.3"/><rect x="247.52" y="537.16" width="2.8" height="2.8" fill="#8d40aa" stroke="#8d40aa" stroke-width="0.3"/><rect x="253.3" y="537.35" width="2.8" height="2.8" fill="#8d40aa" stroke="#8d40aa" stroke-width="0.3"/><rect x="259.08" y="537.53" width="2.8" height="2.8" fill="#8d40aa" stroke="#8d40aa" stroke-width="0.3"/><rect x="264.86" y="537.72" width="2.8" height="2.8" fill="#8d40aa" stroke="#8d40aa" stroke-width="0.3"/><rect x="270.64" y="537.91" width="2.8" height="2.8" fill="#8d40aa" stroke="#8d40aa" stroke-width="0.3"/><rect x="276.42" y="538.08" width="2.8" height="2.8" fill="#8d40aa" stroke="#8d40aa" stroke-width="0.3"/><rect x="282.2" y="538.23" width="2.8" height="2.8" fill="#8d40aa" stroke="#8d40aa" stroke-width="0.3"/><rect x="287.98" y="538.37" width="2.8" height="2.8" fill="#8d40aa" stroke="#8d40aa" stroke-width="0.3"/><rect x="293.76" y="538.52" width="2.8" height="2.8" fill="#8d40aa" stroke="#8d40aa" stroke-width="0.3"/><rect x="299.54" y="538.87" width="2.8" height="2.8" fill="#8d40aa" stroke="#8d40aa" stroke-width="0.3"/><rect x="305.32" y="539.43" width="2.8" height="2.8" fill="#8d40aa" stroke="#8d40aa" stroke-width="0.3"/><rect x="311.1" y="540" width="2.8" height="2.8" fill="#8d40aa" stroke="#8d40aa" stroke-width="0.3"/>
</g>
<rect x="271.1" y="412.2" width="38.4" height="35" fill="#fff" stroke="#2a2a2a" stroke-width="0.9"/>
<path d="M272 416.2H284.7" stroke="#e8392b" stroke-width="1.1"/>
<circle cx="278.35" cy="416.2" r="1.45" fill="none" stroke="#e8392b" stroke-width="1.05"/>
<text x="285.8" y="418.17" font-size="5.8" font-weight="bold" fill="#111">BAWOA</text>
<path d="M272 423.1H284.7" stroke="#a6d255" stroke-width="0.9"/>
<rect x="277.4" y="422.15" width="1.9" height="1.9" fill="#a6d255"/>
<text x="285.8" y="425.07" font-size="5.8" font-weight="bold" fill="#111">WOA</text>
<path d="M272 429.8H284.7" stroke="#52b973" stroke-width="0.95" stroke-dasharray="1.1 0.5"/>
<path d="M276.85 429.8H279.85M278.35 428.3V431.3" stroke="#52b973" stroke-width="0.8"/>
<text x="285.8" y="431.77" font-size="5.8" font-weight="bold" fill="#111">BA</text>
<path d="M272 436.3H284.7" stroke="#1f55b5" stroke-width="0.95" stroke-dasharray="2.2 1.3"/>
<circle cx="278.35" cy="436.3" r="1.55" fill="#1f55b5"/>
<text x="285.8" y="438.27" font-size="5.8" font-weight="bold" fill="#111">PSO</text>
<path d="M272 443.3H284.7" stroke="#8d40aa" stroke-width="1.2"/>
<rect x="276.95" y="441.9" width="2.8" height="2.8" fill="#8d40aa" stroke="#8d40aa" stroke-width="0.3"/>
<text x="285.8" y="445.27" font-size="5.8" font-weight="bold" fill="#111">GA</text>
<path d="M403.84 572.2V575.7M403.84 409.6V406.1M413.27 572.2V575.7M413.27 409.6V406.1M422.71 572.2V575.7M422.71 409.6V406.1M432.15 572.2V575.7M432.15 409.6V406.1M441.58 572.2V578.2M441.58 409.6V403.6M451.02 572.2V575.7M451.02 409.6V406.1M460.46 572.2V575.7M460.46 409.6V406.1M469.89 572.2V575.7M469.89 409.6V406.1M479.33 572.2V575.7M479.33 409.6V406.1M488.77 572.2V578.2M488.77 409.6V403.6M498.2 572.2V575.7M498.2 409.6V406.1M507.64 572.2V575.7M507.64 409.6V406.1M517.08 572.2V575.7M517.08 409.6V406.1M526.51 572.2V575.7M526.51 409.6V406.1M535.95 572.2V578.2M535.95 409.6V403.6M545.39 572.2V575.7M545.39 409.6V406.1M554.82 572.2V575.7M554.82 409.6V406.1M564.26 572.2V575.7M564.26 409.6V406.1M573.7 572.2V575.7M573.7 409.6V406.1M583.13 572.2V578.2M583.13 409.6V403.6M592.57 572.2V575.7M592.57 409.6V406.1M602.01 572.2V575.7M602.01 409.6V406.1M611.44 572.2V575.7M611.44 409.6V406.1M620.88 572.2V575.7M620.88 409.6V406.1M630.32 572.2V578.2M630.32 409.6V403.6M639.75 572.2V575.7M639.75 409.6V406.1M649.19 572.2V575.7M649.19 409.6V406.1M658.63 572.2V575.7M658.63 409.6V406.1M668.06 572.2V575.7M668.06 409.6V406.1M677.5 572.2V578.2M677.5 409.6V403.6M394.4 559.04H390.9M677.5 559.04H681M394.4 548.68H390.9M677.5 548.68H681M394.4 540.22H390.9M677.5 540.22H681M394.4 533.06H390.9M677.5 533.06H681M394.4 526.86H390.9M677.5 526.86H681M394.4 521.39H390.9M677.5 521.39H681M394.4 516.5H388.4M677.5 516.5H683.5M394.4 484.32H390.9M677.5 484.32H681M394.4 465.5H390.9M677.5 465.5H681M394.4 452.14H390.9M677.5 452.14H681M394.4 441.78H390.9M677.5 441.78H681M394.4 433.32H390.9M677.5 433.32H681M394.4 426.16H390.9M677.5 426.16H681M394.4 419.96H390.9M677.5 419.96H681M394.4 414.49H390.9M677.5 414.49H681M394.4 409.6H388.4M677.5 409.6H683.5" stroke="#868686" stroke-width="0.95" fill="none"/>
<text x="441.58" y="586" font-size="6.9" text-anchor="middle" font-weight="bold" fill="#333" stroke="#333" stroke-width="0.15">500</text>
<text x="488.77" y="586" font-size="6.9" text-anchor="middle" font-weight="bold" fill="#333" stroke="#333" stroke-width="0.15">1000</text>
<text x="535.95" y="586" font-size="6.9" text-anchor="middle" font-weight="bold" fill="#333" stroke="#333" stroke-width="0.15">1500</text>
<text x="583.13" y="586" font-size="6.9" text-anchor="middle" font-weight="bold" fill="#333" stroke="#333" stroke-width="0.15">2000</text>
<text x="630.32" y="586" font-size="6.9" text-anchor="middle" font-weight="bold" fill="#333" stroke="#333" stroke-width="0.15">2500</text>
<text x="677.5" y="586" font-size="6.9" text-anchor="middle" font-weight="bold" fill="#333" stroke="#333" stroke-width="0.15">3000</text>
<text x="535.95" y="593.9" font-size="6.9" text-anchor="middle" font-weight="bold" fill="#333" stroke="#333" stroke-width="0.15">Iteration</text>
<text x="0" y="0" font-size="6.9" text-anchor="middle" font-weight="normal" fill="#555" stroke="#555" stroke-width="0.18" transform="translate(371.9 489.8) rotate(-90)" dominant-baseline="central">Best score obtained so far</text>
<text x="535.95" y="407" font-size="6.8" text-anchor="middle" font-weight="bold" fill="#222" stroke="#222" stroke-width="0.15">F18</text>
<text x="385.4" y="412.71" font-size="6.4" text-anchor="end" font-weight="normal" fill="#444" stroke="#444" stroke-width="0.15">10<tspan font-size="5.12" dy="-2.88">2</tspan></text>
<text x="385.4" y="519.61" font-size="6.4" text-anchor="end" font-weight="normal" fill="#444" stroke="#444" stroke-width="0.15">10<tspan font-size="5.12" dy="-2.88">1</tspan></text>
<rect x="394.4" y="409.6" width="283.1" height="162.6" fill="none" stroke="#868686" stroke-width="1.2"/>
<clipPath id="cF18"><rect x="392.4" y="407.1" width="287.1" height="167.6"/></clipPath>
<g clip-path="url(#cF18)">
<path d="M394.4 461.8 L400.18 572.2 L677.5 572.4" fill="none" stroke="#e8392b" stroke-width="1.1" stroke-linejoin="round"/>
<circle cx="394.4" cy="461.8" r="1.67" fill="none" stroke="#e8392b" stroke-width="1.21"/><circle cx="400.18" cy="572.2" r="1.67" fill="none" stroke="#e8392b" stroke-width="1.21"/><circle cx="405.96" cy="572.2" r="1.67" fill="none" stroke="#e8392b" stroke-width="1.21"/><circle cx="411.73" cy="572.21" r="1.67" fill="none" stroke="#e8392b" stroke-width="1.21"/><circle cx="417.51" cy="572.21" r="1.67" fill="none" stroke="#e8392b" stroke-width="1.21"/><circle cx="423.29" cy="572.22" r="1.67" fill="none" stroke="#e8392b" stroke-width="1.21"/><circle cx="429.07" cy="572.22" r="1.67" fill="none" stroke="#e8392b" stroke-width="1.21"/><circle cx="434.84" cy="572.23" r="1.67" fill="none" stroke="#e8392b" stroke-width="1.21"/><circle cx="440.62" cy="572.23" r="1.67" fill="none" stroke="#e8392b" stroke-width="1.21"/><circle cx="446.4" cy="572.23" r="1.67" fill="none" stroke="#e8392b" stroke-width="1.21"/><circle cx="452.18" cy="572.24" r="1.67" fill="none" stroke="#e8392b" stroke-width="1.21"/><circle cx="457.95" cy="572.24" r="1.67" fill="none" stroke="#e8392b" stroke-width="1.21"/><circle cx="463.73" cy="572.25" r="1.67" fill="none" stroke="#e8392b" stroke-width="1.21"/><circle cx="469.51" cy="572.25" r="1.67" fill="none" stroke="#e8392b" stroke-width="1.21"/><circle cx="475.29" cy="572.25" r="1.67" fill="none" stroke="#e8392b" stroke-width="1.21"/><circle cx="481.06" cy="572.26" r="1.67" fill="none" stroke="#e8392b" stroke-width="1.21"/><circle cx="486.84" cy="572.26" r="1.67" fill="none" stroke="#e8392b" stroke-width="1.21"/><circle cx="492.62" cy="572.27" r="1.67" fill="none" stroke="#e8392b" stroke-width="1.21"/><circle cx="498.4" cy="572.27" r="1.67" fill="none" stroke="#e8392b" stroke-width="1.21"/><circle cx="504.17" cy="572.27" r="1.67" fill="none" stroke="#e8392b" stroke-width="1.21"/><circle cx="509.95" cy="572.28" r="1.67" fill="none" stroke="#e8392b" stroke-width="1.21"/><circle cx="515.73" cy="572.28" r="1.67" fill="none" stroke="#e8392b" stroke-width="1.21"/><circle cx="521.51" cy="572.29" r="1.67" fill="none" stroke="#e8392b" stroke-width="1.21"/><circle cx="527.28" cy="572.29" r="1.67" fill="none" stroke="#e8392b" stroke-width="1.21"/><circle cx="533.06" cy="572.3" r="1.67" fill="none" stroke="#e8392b" stroke-width="1.21"/><circle cx="538.84" cy="572.3" r="1.67" fill="none" stroke="#e8392b" stroke-width="1.21"/><circle cx="544.62" cy="572.3" r="1.67" fill="none" stroke="#e8392b" stroke-width="1.21"/><circle cx="550.39" cy="572.31" r="1.67" fill="none" stroke="#e8392b" stroke-width="1.21"/><circle cx="556.17" cy="572.31" r="1.67" fill="none" stroke="#e8392b" stroke-width="1.21"/><circle cx="561.95" cy="572.32" r="1.67" fill="none" stroke="#e8392b" stroke-width="1.21"/><circle cx="567.73" cy="572.32" r="1.67" fill="none" stroke="#e8392b" stroke-width="1.21"/><circle cx="573.5" cy="572.33" r="1.67" fill="none" stroke="#e8392b" stroke-width="1.21"/><circle cx="579.28" cy="572.33" r="1.67" fill="none" stroke="#e8392b" stroke-width="1.21"/><circle cx="585.06" cy="572.33" r="1.67" fill="none" stroke="#e8392b" stroke-width="1.21"/><circle cx="590.84" cy="572.34" r="1.67" fill="none" stroke="#e8392b" stroke-width="1.21"/><circle cx="596.61" cy="572.34" r="1.67" fill="none" stroke="#e8392b" stroke-width="1.21"/><circle cx="602.39" cy="572.35" r="1.67" fill="none" stroke="#e8392b" stroke-width="1.21"/><circle cx="608.17" cy="572.35" r="1.67" fill="none" stroke="#e8392b" stroke-width="1.21"/><circle cx="613.95" cy="572.35" r="1.67" fill="none" stroke="#e8392b" stroke-width="1.21"/><circle cx="619.72" cy="572.36" r="1.67" fill="none" stroke="#e8392b" stroke-width="1.21"/><circle cx="625.5" cy="572.36" r="1.67" fill="none" stroke="#e8392b" stroke-width="1.21"/><circle cx="631.28" cy="572.37" r="1.67" fill="none" stroke="#e8392b" stroke-width="1.21"/><circle cx="637.06" cy="572.37" r="1.67" fill="none" stroke="#e8392b" stroke-width="1.21"/><circle cx="642.83" cy="572.38" r="1.67" fill="none" stroke="#e8392b" stroke-width="1.21"/><circle cx="648.61" cy="572.38" r="1.67" fill="none" stroke="#e8392b" stroke-width="1.21"/><circle cx="654.39" cy="572.38" r="1.67" fill="none" stroke="#e8392b" stroke-width="1.21"/><circle cx="660.17" cy="572.39" r="1.67" fill="none" stroke="#e8392b" stroke-width="1.21"/><circle cx="665.94" cy="572.39" r="1.67" fill="none" stroke="#e8392b" stroke-width="1.21"/><circle cx="671.72" cy="572.4" r="1.67" fill="none" stroke="#e8392b" stroke-width="1.21"/><circle cx="677.5" cy="572.4" r="1.67" fill="none" stroke="#e8392b" stroke-width="1.21"/>
<path d="M394.4 409.6 L400.18 523.9 L411.73 523.9 L417.51 570 L420 572.4 L677.5 572.4" fill="none" stroke="#a6d255" stroke-width="0.9" stroke-linejoin="round"/>
<rect x="393.31" y="408.51" width="2.18" height="2.18" fill="#a6d255"/><rect x="399.09" y="522.81" width="2.18" height="2.18" fill="#a6d255"/><rect x="404.86" y="522.81" width="2.18" height="2.18" fill="#a6d255"/><rect x="410.64" y="522.81" width="2.18" height="2.18" fill="#a6d255"/><rect x="416.42" y="568.91" width="2.18" height="2.18" fill="#a6d255"/><rect x="422.2" y="571.31" width="2.18" height="2.18" fill="#a6d255"/><rect x="427.97" y="571.31" width="2.18" height="2.18" fill="#a6d255"/><rect x="433.75" y="571.31" width="2.18" height="2.18" fill="#a6d255"/><rect x="439.53" y="571.31" width="2.18" height="2.18" fill="#a6d255"/><rect x="445.31" y="571.31" width="2.18" height="2.18" fill="#a6d255"/><rect x="451.08" y="571.31" width="2.18" height="2.18" fill="#a6d255"/><rect x="456.86" y="571.31" width="2.18" height="2.18" fill="#a6d255"/><rect x="462.64" y="571.31" width="2.18" height="2.18" fill="#a6d255"/><rect x="468.42" y="571.31" width="2.18" height="2.18" fill="#a6d255"/><rect x="474.19" y="571.31" width="2.18" height="2.18" fill="#a6d255"/><rect x="479.97" y="571.31" width="2.18" height="2.18" fill="#a6d255"/><rect x="485.75" y="571.31" width="2.18" height="2.18" fill="#a6d255"/><rect x="491.53" y="571.31" width="2.18" height="2.18" fill="#a6d255"/><rect x="497.3" y="571.31" width="2.18" height="2.18" fill="#a6d255"/><rect x="503.08" y="571.31" width="2.18" height="2.18" fill="#a6d255"/><rect x="508.86" y="571.31" width="2.18" height="2.18" fill="#a6d255"/><rect x="514.64" y="571.31" width="2.18" height="2.18" fill="#a6d255"/><rect x="520.41" y="571.31" width="2.18" height="2.18" fill="#a6d255"/><rect x="526.19" y="571.31" width="2.18" height="2.18" fill="#a6d255"/><rect x="531.97" y="571.31" width="2.18" height="2.18" fill="#a6d255"/><rect x="537.75" y="571.31" width="2.18" height="2.18" fill="#a6d255"/><rect x="543.52" y="571.31" width="2.18" height="2.18" fill="#a6d255"/><rect x="549.3" y="571.31" width="2.18" height="2.18" fill="#a6d255"/><rect x="555.08" y="571.31" width="2.18" height="2.18" fill="#a6d255"/><rect x="560.86" y="571.31" width="2.18" height="2.18" fill="#a6d255"/><rect x="566.63" y="571.31" width="2.18" height="2.18" fill="#a6d255"/><rect x="572.41" y="571.31" width="2.18" height="2.18" fill="#a6d255"/><rect x="578.19" y="571.31" width="2.18" height="2.18" fill="#a6d255"/><rect x="583.97" y="571.31" width="2.18" height="2.18" fill="#a6d255"/><rect x="589.74" y="571.31" width="2.18" height="2.18" fill="#a6d255"/><rect x="595.52" y="571.31" width="2.18" height="2.18" fill="#a6d255"/><rect x="601.3" y="571.31" width="2.18" height="2.18" fill="#a6d255"/><rect x="607.08" y="571.31" width="2.18" height="2.18" fill="#a6d255"/><rect x="612.85" y="571.31" width="2.18" height="2.18" fill="#a6d255"/><rect x="618.63" y="571.31" width="2.18" height="2.18" fill="#a6d255"/><rect x="624.41" y="571.31" width="2.18" height="2.18" fill="#a6d255"/><rect x="630.19" y="571.31" width="2.18" height="2.18" fill="#a6d255"/><rect x="635.96" y="571.31" width="2.18" height="2.18" fill="#a6d255"/><rect x="641.74" y="571.31" width="2.18" height="2.18" fill="#a6d255"/><rect x="647.52" y="571.31" width="2.18" height="2.18" fill="#a6d255"/><rect x="653.3" y="571.31" width="2.18" height="2.18" fill="#a6d255"/><rect x="659.07" y="571.31" width="2.18" height="2.18" fill="#a6d255"/><rect x="664.85" y="571.31" width="2.18" height="2.18" fill="#a6d255"/><rect x="670.63" y="571.31" width="2.18" height="2.18" fill="#a6d255"/><rect x="676.41" y="571.31" width="2.18" height="2.18" fill="#a6d255"/>
<path d="M394.4 508.9 L400.18 566.8 L405.96 570 L411.73 572.4 L677.5 572.4" fill="none" stroke="#52b973" stroke-width="0.95" stroke-dasharray="1.1 0.5" stroke-linejoin="round"/>
<path d="M392.67 508.9H396.12M394.4 507.17V510.62" stroke="#52b973" stroke-width="0.92"/><path d="M398.45 566.8H401.9M400.18 565.07V568.52" stroke="#52b973" stroke-width="0.92"/><path d="M404.23 570H407.68M405.96 568.27V571.73" stroke="#52b973" stroke-width="0.92"/><path d="M410.01 572.4H413.46M411.73 570.67V574.12" stroke="#52b973" stroke-width="0.92"/><path d="M415.79 572.4H419.24M417.51 570.67V574.12" stroke="#52b973" stroke-width="0.92"/><path d="M421.56 572.4H425.01M423.29 570.67V574.12" stroke="#52b973" stroke-width="0.92"/><path d="M427.34 572.4H430.79M429.07 570.67V574.12" stroke="#52b973" stroke-width="0.92"/><path d="M433.12 572.4H436.57M434.84 570.67V574.12" stroke="#52b973" stroke-width="0.92"/><path d="M438.9 572.4H442.35M440.62 570.67V574.12" stroke="#52b973" stroke-width="0.92"/><path d="M444.67 572.4H448.12M446.4 570.67V574.12" stroke="#52b973" stroke-width="0.92"/><path d="M450.45 572.4H453.9M452.18 570.67V574.12" stroke="#52b973" stroke-width="0.92"/><path d="M456.23 572.4H459.68M457.95 570.67V574.12" stroke="#52b973" stroke-width="0.92"/><path d="M462.01 572.4H465.46M463.73 570.67V574.12" stroke="#52b973" stroke-width="0.92"/><path d="M467.78 572.4H471.23M469.51 570.67V574.12" stroke="#52b973" stroke-width="0.92"/><path d="M473.56 572.4H477.01M475.29 570.67V574.12" stroke="#52b973" stroke-width="0.92"/><path d="M479.34 572.4H482.79M481.06 570.67V574.12" stroke="#52b973" stroke-width="0.92"/><path d="M485.12 572.4H488.57M486.84 570.67V574.12" stroke="#52b973" stroke-width="0.92"/><path d="M490.89 572.4H494.34M492.62 570.67V574.12" stroke="#52b973" stroke-width="0.92"/><path d="M496.67 572.4H500.12M498.4 570.67V574.12" stroke="#52b973" stroke-width="0.92"/><path d="M502.45 572.4H505.9M504.17 570.67V574.12" stroke="#52b973" stroke-width="0.92"/><path d="M508.23 572.4H511.68M509.95 570.67V574.12" stroke="#52b973" stroke-width="0.92"/><path d="M514 572.4H517.45M515.73 570.67V574.12" stroke="#52b973" stroke-width="0.92"/><path d="M519.78 572.4H523.23M521.51 570.67V574.12" stroke="#52b973" stroke-width="0.92"/><path d="M525.56 572.4H529.01M527.28 570.67V574.12" stroke="#52b973" stroke-width="0.92"/><path d="M531.34 572.4H534.79M533.06 570.67V574.12" stroke="#52b973" stroke-width="0.92"/><path d="M537.11 572.4H540.56M538.84 570.67V574.12" stroke="#52b973" stroke-width="0.92"/><path d="M542.89 572.4H546.34M544.62 570.67V574.12" stroke="#52b973" stroke-width="0.92"/><path d="M548.67 572.4H552.12M550.39 570.67V574.12" stroke="#52b973" stroke-width="0.92"/><path d="M554.45 572.4H557.9M556.17 570.67V574.12" stroke="#52b973" stroke-width="0.92"/><path d="M560.22 572.4H563.67M561.95 570.67V574.12" stroke="#52b973" stroke-width="0.92"/><path d="M566 572.4H569.45M567.73 570.67V574.12" stroke="#52b973" stroke-width="0.92"/><path d="M571.78 572.4H575.23M573.5 570.67V574.12" stroke="#52b973" stroke-width="0.92"/><path d="M577.56 572.4H581.01M579.28 570.67V574.12" stroke="#52b973" stroke-width="0.92"/><path d="M583.33 572.4H586.78M585.06 570.67V574.12" stroke="#52b973" stroke-width="0.92"/><path d="M589.11 572.4H592.56M590.84 570.67V574.12" stroke="#52b973" stroke-width="0.92"/><path d="M594.89 572.4H598.34M596.61 570.67V574.12" stroke="#52b973" stroke-width="0.92"/><path d="M600.67 572.4H604.12M602.39 570.67V574.12" stroke="#52b973" stroke-width="0.92"/><path d="M606.44 572.4H609.89M608.17 570.67V574.12" stroke="#52b973" stroke-width="0.92"/><path d="M612.22 572.4H615.67M613.95 570.67V574.12" stroke="#52b973" stroke-width="0.92"/><path d="M618 572.4H621.45M619.72 570.67V574.12" stroke="#52b973" stroke-width="0.92"/><path d="M623.78 572.4H627.23M625.5 570.67V574.12" stroke="#52b973" stroke-width="0.92"/><path d="M629.55 572.4H633M631.28 570.67V574.12" stroke="#52b973" stroke-width="0.92"/><path d="M635.33 572.4H638.78M637.06 570.67V574.12" stroke="#52b973" stroke-width="0.92"/><path d="M641.11 572.4H644.56M642.83 570.67V574.12" stroke="#52b973" stroke-width="0.92"/><path d="M646.89 572.4H650.34M648.61 570.67V574.12" stroke="#52b973" stroke-width="0.92"/><path d="M652.66 572.4H656.11M654.39 570.67V574.12" stroke="#52b973" stroke-width="0.92"/><path d="M658.44 572.4H661.89M660.17 570.67V574.12" stroke="#52b973" stroke-width="0.92"/><path d="M664.22 572.4H667.67M665.94 570.67V574.12" stroke="#52b973" stroke-width="0.92"/><path d="M670 572.4H673.45M671.72 570.67V574.12" stroke="#52b973" stroke-width="0.92"/><path d="M675.77 572.4H679.23M677.5 570.67V574.12" stroke="#52b973" stroke-width="0.92"/>
<path d="M394.4 414.6 L400.18 558.8 L405.96 563.6 L411.73 567.2 L423.29 567.2 L434.84 568.3 L445 568.3 L469.51 569.4 L492.62 569.4 L498.4 572.4 L677.5 572.4" fill="none" stroke="#1f55b5" stroke-width="0.95" stroke-dasharray="2.2 1.3" stroke-linejoin="round"/>
<circle cx="394.4" cy="414.6" r="1.47" fill="#1f55b5"/><circle cx="400.18" cy="558.8" r="1.47" fill="#1f55b5"/><circle cx="405.96" cy="563.6" r="1.47" fill="#1f55b5"/><circle cx="411.73" cy="567.2" r="1.47" fill="#1f55b5"/><circle cx="417.51" cy="567.2" r="1.47" fill="#1f55b5"/><circle cx="423.29" cy="567.2" r="1.47" fill="#1f55b5"/><circle cx="429.07" cy="567.75" r="1.47" fill="#1f55b5"/><circle cx="434.84" cy="568.3" r="1.47" fill="#1f55b5"/><circle cx="440.62" cy="568.3" r="1.47" fill="#1f55b5"/><circle cx="446.4" cy="568.36" r="1.47" fill="#1f55b5"/><circle cx="452.18" cy="568.62" r="1.47" fill="#1f55b5"/><circle cx="457.95" cy="568.88" r="1.47" fill="#1f55b5"/><circle cx="463.73" cy="569.14" r="1.47" fill="#1f55b5"/><circle cx="469.51" cy="569.4" r="1.47" fill="#1f55b5"/><circle cx="475.29" cy="569.4" r="1.47" fill="#1f55b5"/><circle cx="481.06" cy="569.4" r="1.47" fill="#1f55b5"/><circle cx="486.84" cy="569.4" r="1.47" fill="#1f55b5"/><circle cx="492.62" cy="569.4" r="1.47" fill="#1f55b5"/><circle cx="498.4" cy="572.4" r="1.47" fill="#1f55b5"/><circle cx="504.17" cy="572.4" r="1.47" fill="#1f55b5"/><circle cx="509.95" cy="572.4" r="1.47" fill="#1f55b5"/><circle cx="515.73" cy="572.4" r="1.47" fill="#1f55b5"/><circle cx="521.51" cy="572.4" r="1.47" fill="#1f55b5"/><circle cx="527.28" cy="572.4" r="1.47" fill="#1f55b5"/><circle cx="533.06" cy="572.4" r="1.47" fill="#1f55b5"/><circle cx="538.84" cy="572.4" r="1.47" fill="#1f55b5"/><circle cx="544.62" cy="572.4" r="1.47" fill="#1f55b5"/><circle cx="550.39" cy="572.4" r="1.47" fill="#1f55b5"/><circle cx="556.17" cy="572.4" r="1.47" fill="#1f55b5"/><circle cx="561.95" cy="572.4" r="1.47" fill="#1f55b5"/><circle cx="567.73" cy="572.4" r="1.47" fill="#1f55b5"/><circle cx="573.5" cy="572.4" r="1.47" fill="#1f55b5"/><circle cx="579.28" cy="572.4" r="1.47" fill="#1f55b5"/><circle cx="585.06" cy="572.4" r="1.47" fill="#1f55b5"/><circle cx="590.84" cy="572.4" r="1.47" fill="#1f55b5"/><circle cx="596.61" cy="572.4" r="1.47" fill="#1f55b5"/><circle cx="602.39" cy="572.4" r="1.47" fill="#1f55b5"/><circle cx="608.17" cy="572.4" r="1.47" fill="#1f55b5"/><circle cx="613.95" cy="572.4" r="1.47" fill="#1f55b5"/><circle cx="619.72" cy="572.4" r="1.47" fill="#1f55b5"/><circle cx="625.5" cy="572.4" r="1.47" fill="#1f55b5"/><circle cx="631.28" cy="572.4" r="1.47" fill="#1f55b5"/><circle cx="637.06" cy="572.4" r="1.47" fill="#1f55b5"/><circle cx="642.83" cy="572.4" r="1.47" fill="#1f55b5"/><circle cx="648.61" cy="572.4" r="1.47" fill="#1f55b5"/><circle cx="654.39" cy="572.4" r="1.47" fill="#1f55b5"/><circle cx="660.17" cy="572.4" r="1.47" fill="#1f55b5"/><circle cx="665.94" cy="572.4" r="1.47" fill="#1f55b5"/><circle cx="671.72" cy="572.4" r="1.47" fill="#1f55b5"/><circle cx="677.5" cy="572.4" r="1.47" fill="#1f55b5"/>
<path d="M394.4 433.9 L400.18 572.2 L677.5 572.4" fill="none" stroke="#8d40aa" stroke-width="0.9" stroke-linejoin="round"/>
<rect x="393.21" y="432.71" width="2.38" height="2.38" fill="#a772c0" stroke="#8d40aa" stroke-width="0.8"/><rect x="398.99" y="571.01" width="2.38" height="2.38" fill="#a772c0" stroke="#8d40aa" stroke-width="0.8"/><rect x="404.77" y="571.01" width="2.38" height="2.38" fill="#a772c0" stroke="#8d40aa" stroke-width="0.8"/><rect x="410.54" y="571.02" width="2.38" height="2.38" fill="#a772c0" stroke="#8d40aa" stroke-width="0.8"/><rect x="416.32" y="571.02" width="2.38" height="2.38" fill="#a772c0" stroke="#8d40aa" stroke-width="0.8"/><rect x="422.1" y="571.03" width="2.38" height="2.38" fill="#a772c0" stroke="#8d40aa" stroke-width="0.8"/><rect x="427.88" y="571.03" width="2.38" height="2.38" fill="#a772c0" stroke="#8d40aa" stroke-width="0.8"/><rect x="433.65" y="571.03" width="2.38" height="2.38" fill="#a772c0" stroke="#8d40aa" stroke-width="0.8"/><rect x="439.43" y="571.04" width="2.38" height="2.38" fill="#a772c0" stroke="#8d40aa" stroke-width="0.8"/><rect x="445.21" y="571.04" width="2.38" height="2.38" fill="#a772c0" stroke="#8d40aa" stroke-width="0.8"/><rect x="450.99" y="571.05" width="2.38" height="2.38" fill="#a772c0" stroke="#8d40aa" stroke-width="0.8"/><rect x="456.76" y="571.05" width="2.38" height="2.38" fill="#a772c0" stroke="#8d40aa" stroke-width="0.8"/><rect x="462.54" y="571.06" width="2.38" height="2.38" fill="#a772c0" stroke="#8d40aa" stroke-width="0.8"/><rect x="468.32" y="571.06" width="2.38" height="2.38" fill="#a772c0" stroke="#8d40aa" stroke-width="0.8"/><rect x="474.1" y="571.06" width="2.38" height="2.38" fill="#a772c0" stroke="#8d40aa" stroke-width="0.8"/><rect x="479.87" y="571.07" width="2.38" height="2.38" fill="#a772c0" stroke="#8d40aa" stroke-width="0.8"/><rect x="485.65" y="571.07" width="2.38" height="2.38" fill="#a772c0" stroke="#8d40aa" stroke-width="0.8"/><rect x="491.43" y="571.08" width="2.38" height="2.38" fill="#a772c0" stroke="#8d40aa" stroke-width="0.8"/><rect x="497.21" y="571.08" width="2.38" height="2.38" fill="#a772c0" stroke="#8d40aa" stroke-width="0.8"/><rect x="502.98" y="571.08" width="2.38" height="2.38" fill="#a772c0" stroke="#8d40aa" stroke-width="0.8"/><rect x="508.76" y="571.09" width="2.38" height="2.38" fill="#a772c0" stroke="#8d40aa" stroke-width="0.8"/><rect x="514.54" y="571.09" width="2.38" height="2.38" fill="#a772c0" stroke="#8d40aa" stroke-width="0.8"/><rect x="520.32" y="571.1" width="2.38" height="2.38" fill="#a772c0" stroke="#8d40aa" stroke-width="0.8"/><rect x="526.09" y="571.1" width="2.38" height="2.38" fill="#a772c0" stroke="#8d40aa" stroke-width="0.8"/><rect x="531.87" y="571.11" width="2.38" height="2.38" fill="#a772c0" stroke="#8d40aa" stroke-width="0.8"/><rect x="537.65" y="571.11" width="2.38" height="2.38" fill="#a772c0" stroke="#8d40aa" stroke-width="0.8"/><rect x="543.43" y="571.11" width="2.38" height="2.38" fill="#a772c0" stroke="#8d40aa" stroke-width="0.8"/><rect x="549.2" y="571.12" width="2.38" height="2.38" fill="#a772c0" stroke="#8d40aa" stroke-width="0.8"/><rect x="554.98" y="571.12" width="2.38" height="2.38" fill="#a772c0" stroke="#8d40aa" stroke-width="0.8"/><rect x="560.76" y="571.13" width="2.38" height="2.38" fill="#a772c0" stroke="#8d40aa" stroke-width="0.8"/><rect x="566.54" y="571.13" width="2.38" height="2.38" fill="#a772c0" stroke="#8d40aa" stroke-width="0.8"/><rect x="572.31" y="571.13" width="2.38" height="2.38" fill="#a772c0" stroke="#8d40aa" stroke-width="0.8"/><rect x="578.09" y="571.14" width="2.38" height="2.38" fill="#a772c0" stroke="#8d40aa" stroke-width="0.8"/><rect x="583.87" y="571.14" width="2.38" height="2.38" fill="#a772c0" stroke="#8d40aa" stroke-width="0.8"/><rect x="589.65" y="571.15" width="2.38" height="2.38" fill="#a772c0" stroke="#8d40aa" stroke-width="0.8"/><rect x="595.42" y="571.15" width="2.38" height="2.38" fill="#a772c0" stroke="#8d40aa" stroke-width="0.8"/><rect x="601.2" y="571.16" width="2.38" height="2.38" fill="#a772c0" stroke="#8d40aa" stroke-width="0.8"/><rect x="606.98" y="571.16" width="2.38" height="2.38" fill="#a772c0" stroke="#8d40aa" stroke-width="0.8"/><rect x="612.76" y="571.16" width="2.38" height="2.38" fill="#a772c0" stroke="#8d40aa" stroke-width="0.8"/><rect x="618.53" y="571.17" width="2.38" height="2.38" fill="#a772c0" stroke="#8d40aa" stroke-width="0.8"/><rect x="624.31" y="571.17" width="2.38" height="2.38" fill="#a772c0" stroke="#8d40aa" stroke-width="0.8"/><rect x="630.09" y="571.18" width="2.38" height="2.38" fill="#a772c0" stroke="#8d40aa" stroke-width="0.8"/><rect x="635.87" y="571.18" width="2.38" height="2.38" fill="#a772c0" stroke="#8d40aa" stroke-width="0.8"/><rect x="641.64" y="571.18" width="2.38" height="2.38" fill="#a772c0" stroke="#8d40aa" stroke-width="0.8"/><rect x="647.42" y="571.19" width="2.38" height="2.38" fill="#a772c0" stroke="#8d40aa" stroke-width="0.8"/><rect x="653.2" y="571.19" width="2.38" height="2.38" fill="#a772c0" stroke="#8d40aa" stroke-width="0.8"/><rect x="658.98" y="571.2" width="2.38" height="2.38" fill="#a772c0" stroke="#8d40aa" stroke-width="0.8"/><rect x="664.75" y="571.2" width="2.38" height="2.38" fill="#a772c0" stroke="#8d40aa" stroke-width="0.8"/><rect x="670.53" y="571.21" width="2.38" height="2.38" fill="#a772c0" stroke="#8d40aa" stroke-width="0.8"/><rect x="676.31" y="571.21" width="2.38" height="2.38" fill="#a772c0" stroke="#8d40aa" stroke-width="0.8"/>
</g>
<rect x="623.2" y="412.4" width="50.6" height="38.2" fill="#fff" stroke="#2a2a2a" stroke-width="0.9"/>
<path d="M624.9 416.8H639.7" stroke="#e8392b" stroke-width="1.1"/>
<circle cx="632.3" cy="416.8" r="1.67" fill="none" stroke="#e8392b" stroke-width="1.21"/>
<text x="641.1" y="419.15" font-size="6.9" font-weight="bold" fill="#111">WOACBA</text>
<path d="M624.9 424.4H639.7" stroke="#a6d255" stroke-width="0.9"/>
<rect x="631.21" y="423.31" width="2.18" height="2.18" fill="#a6d255"/>
<text x="641.1" y="426.75" font-size="6.9" font-weight="bold" fill="#111">WOA</text>
<path d="M624.9 431.8H639.7" stroke="#52b973" stroke-width="0.95" stroke-dasharray="1.1 0.5"/>
<path d="M630.57 431.8H634.02M632.3 430.07V433.53" stroke="#52b973" stroke-width="0.92"/>
<text x="641.1" y="434.15" font-size="6.9" font-weight="bold" fill="#111">BA</text>
<path d="M624.9 439.2H639.7" stroke="#1f55b5" stroke-width="0.95" stroke-dasharray="2.2 1.3"/>
<circle cx="632.3" cy="439.2" r="1.47" fill="#1f55b5"/>
<text x="641.1" y="441.55" font-size="6.9" font-weight="bold" fill="#111">PSO</text>
<path d="M624.9 446.6H639.7" stroke="#8d40aa" stroke-width="1.2"/>
<rect x="631.11" y="445.41" width="2.38" height="2.38" fill="#a772c0" stroke="#8d40aa" stroke-width="0.8"/>
<text x="641.1" y="448.95" font-size="6.9" font-weight="bold" fill="#111">GA</text>
<path d="M38.83 773.05V776.55M38.83 609.3V605.8M48.27 773.05V776.55M48.27 609.3V605.8M57.7 773.05V776.55M57.7 609.3V605.8M67.13 773.05V776.55M67.13 609.3V605.8M76.57 773.05V779.05M76.57 609.3V603.3M86 773.05V776.55M86 609.3V605.8M95.43 773.05V776.55M95.43 609.3V605.8M104.87 773.05V776.55M104.87 609.3V605.8M114.3 773.05V776.55M114.3 609.3V605.8M123.73 773.05V779.05M123.73 609.3V603.3M133.17 773.05V776.55M133.17 609.3V605.8M142.6 773.05V776.55M142.6 609.3V605.8M152.03 773.05V776.55M152.03 609.3V605.8M161.47 773.05V776.55M161.47 609.3V605.8M170.9 773.05V779.05M170.9 609.3V603.3M180.33 773.05V776.55M180.33 609.3V605.8M189.77 773.05V776.55M189.77 609.3V605.8M199.2 773.05V776.55M199.2 609.3V605.8M208.63 773.05V776.55M208.63 609.3V605.8M218.07 773.05V779.05M218.07 609.3V603.3M227.5 773.05V776.55M227.5 609.3V605.8M236.93 773.05V776.55M236.93 609.3V605.8M246.37 773.05V776.55M246.37 609.3V605.8M255.8 773.05V776.55M255.8 609.3V605.8M265.23 773.05V779.05M265.23 609.3V603.3M274.67 773.05V776.55M274.67 609.3V605.8M284.1 773.05V776.55M284.1 609.3V605.8M293.53 773.05V776.55M293.53 609.3V605.8M302.97 773.05V776.55M302.97 609.3V605.8M312.4 773.05V779.05M312.4 609.3V603.3M29.4 618.37H25.9M312.4 618.37H315.9M29.4 629.07H25.9M312.4 629.07H315.9M29.4 637.81H25.9M312.4 637.81H315.9M29.4 645.2H25.9M312.4 645.2H315.9M29.4 651.6H25.9M312.4 651.6H315.9M29.4 657.25H25.9M312.4 657.25H315.9M29.4 662.3H23.4M312.4 662.3H318.4M29.4 695.53H25.9M312.4 695.53H315.9M29.4 714.97H25.9M312.4 714.97H315.9M29.4 728.77H25.9M312.4 728.77H315.9M29.4 739.47H25.9M312.4 739.47H315.9M29.4 748.21H25.9M312.4 748.21H315.9M29.4 755.6H25.9M312.4 755.6H315.9M29.4 762H25.9M312.4 762H315.9M29.4 767.65H25.9M312.4 767.65H315.9M29.4 772.7H23.4M312.4 772.7H318.4" stroke="#868686" stroke-width="0.95" fill="none"/>
<text x="76.57" y="786.35" font-size="6.9" text-anchor="middle" font-weight="bold" fill="#333" stroke="#333" stroke-width="0.15">500</text>
<text x="123.73" y="786.35" font-size="6.9" text-anchor="middle" font-weight="bold" fill="#333" stroke="#333" stroke-width="0.15">1000</text>
<text x="170.9" y="786.35" font-size="6.9" text-anchor="middle" font-weight="bold" fill="#333" stroke="#333" stroke-width="0.15">1500</text>
<text x="218.07" y="786.35" font-size="6.9" text-anchor="middle" font-weight="bold" fill="#333" stroke="#333" stroke-width="0.15">2000</text>
<text x="265.23" y="786.35" font-size="6.9" text-anchor="middle" font-weight="bold" fill="#333" stroke="#333" stroke-width="0.15">2500</text>
<text x="312.4" y="786.35" font-size="6.9" text-anchor="middle" font-weight="bold" fill="#333" stroke="#333" stroke-width="0.15">3000</text>
<text x="170.9" y="793.55" font-size="6.9" text-anchor="middle" font-weight="bold" fill="#333" stroke="#333" stroke-width="0.15">Iteration</text>
<text x="0" y="0" font-size="6.75" text-anchor="middle" font-weight="bold" fill="#555" stroke="#555" stroke-width="0.18" transform="translate(2.9 691) rotate(-90)" dominant-baseline="central">Best score obtained so far</text>
<text x="170.9" y="607" font-size="6.8" text-anchor="middle" font-weight="bold" fill="#222" stroke="#222" stroke-width="0.15">F21</text>
<text x="19.4" y="665.55" font-size="6.2" text-anchor="end" font-weight="normal" fill="#444" stroke="#444" stroke-width="0.15">&#8722;10<tspan font-size="4.96" dy="-2.79">0</tspan></text>
<text x="19.4" y="775.95" font-size="6.2" text-anchor="end" font-weight="normal" fill="#444" stroke="#444" stroke-width="0.15">&#8722;10<tspan font-size="4.96" dy="-2.79">1</tspan></text>
<rect x="29.4" y="609.3" width="283" height="163.75" fill="none" stroke="#868686" stroke-width="1.2"/>
<clipPath id="cF21"><rect x="27.4" y="606.8" width="287" height="168.75"/></clipPath>
<g clip-path="url(#cF21)">
<path d="M29.4 646.5 L35.18 761.9 L40.95 768.7 L46.73 772.4 L49 773.5 L312.4 773.5" fill="none" stroke="#e8392b" stroke-width="1.1" stroke-linejoin="round"/>
<circle cx="29.4" cy="646.5" r="1.67" fill="none" stroke="#e8392b" stroke-width="1.21"/><circle cx="35.18" cy="761.9" r="1.67" fill="none" stroke="#e8392b" stroke-width="1.21"/><circle cx="40.95" cy="768.7" r="1.67" fill="none" stroke="#e8392b" stroke-width="1.21"/><circle cx="46.73" cy="772.4" r="1.67" fill="none" stroke="#e8392b" stroke-width="1.21"/><circle cx="52.5" cy="773.5" r="1.67" fill="none" stroke="#e8392b" stroke-width="1.21"/><circle cx="58.28" cy="773.5" r="1.67" fill="none" stroke="#e8392b" stroke-width="1.21"/><circle cx="64.05" cy="773.5" r="1.67" fill="none" stroke="#e8392b" stroke-width="1.21"/><circle cx="69.83" cy="773.5" r="1.67" fill="none" stroke="#e8392b" stroke-width="1.21"/><circle cx="75.6" cy="773.5" r="1.67" fill="none" stroke="#e8392b" stroke-width="1.21"/><circle cx="81.38" cy="773.5" r="1.67" fill="none" stroke="#e8392b" stroke-width="1.21"/><circle cx="87.16" cy="773.5" r="1.67" fill="none" stroke="#e8392b" stroke-width="1.21"/><circle cx="92.93" cy="773.5" r="1.67" fill="none" stroke="#e8392b" stroke-width="1.21"/><circle cx="98.71" cy="773.5" r="1.67" fill="none" stroke="#e8392b" stroke-width="1.21"/><circle cx="104.48" cy="773.5" r="1.67" fill="none" stroke="#e8392b" stroke-width="1.21"/><circle cx="110.26" cy="773.5" r="1.67" fill="none" stroke="#e8392b" stroke-width="1.21"/><circle cx="116.03" cy="773.5" r="1.67" fill="none" stroke="#e8392b" stroke-width="1.21"/><circle cx="121.81" cy="773.5" r="1.67" fill="none" stroke="#e8392b" stroke-width="1.21"/><circle cx="127.58" cy="773.5" r="1.67" fill="none" stroke="#e8392b" stroke-width="1.21"/><circle cx="133.36" cy="773.5" r="1.67" fill="none" stroke="#e8392b" stroke-width="1.21"/><circle cx="139.13" cy="773.5" r="1.67" fill="none" stroke="#e8392b" stroke-width="1.21"/><circle cx="144.91" cy="773.5" r="1.67" fill="none" stroke="#e8392b" stroke-width="1.21"/><circle cx="150.69" cy="773.5" r="1.67" fill="none" stroke="#e8392b" stroke-width="1.21"/><circle cx="156.46" cy="773.5" r="1.67" fill="none" stroke="#e8392b" stroke-width="1.21"/><circle cx="162.24" cy="773.5" r="1.67" fill="none" stroke="#e8392b" stroke-width="1.21"/><circle cx="168.01" cy="773.5" r="1.67" fill="none" stroke="#e8392b" stroke-width="1.21"/><circle cx="173.79" cy="773.5" r="1.67" fill="none" stroke="#e8392b" stroke-width="1.21"/><circle cx="179.56" cy="773.5" r="1.67" fill="none" stroke="#e8392b" stroke-width="1.21"/><circle cx="185.34" cy="773.5" r="1.67" fill="none" stroke="#e8392b" stroke-width="1.21"/><circle cx="191.11" cy="773.5" r="1.67" fill="none" stroke="#e8392b" stroke-width="1.21"/><circle cx="196.89" cy="773.5" r="1.67" fill="none" stroke="#e8392b" stroke-width="1.21"/><circle cx="202.67" cy="773.5" r="1.67" fill="none" stroke="#e8392b" stroke-width="1.21"/><circle cx="208.44" cy="773.5" r="1.67" fill="none" stroke="#e8392b" stroke-width="1.21"/><circle cx="214.22" cy="773.5" r="1.67" fill="none" stroke="#e8392b" stroke-width="1.21"/><circle cx="219.99" cy="773.5" r="1.67" fill="none" stroke="#e8392b" stroke-width="1.21"/><circle cx="225.77" cy="773.5" r="1.67" fill="none" stroke="#e8392b" stroke-width="1.21"/><circle cx="231.54" cy="773.5" r="1.67" fill="none" stroke="#e8392b" stroke-width="1.21"/><circle cx="237.32" cy="773.5" r="1.67" fill="none" stroke="#e8392b" stroke-width="1.21"/><circle cx="243.09" cy="773.5" r="1.67" fill="none" stroke="#e8392b" stroke-width="1.21"/><circle cx="248.87" cy="773.5" r="1.67" fill="none" stroke="#e8392b" stroke-width="1.21"/><circle cx="254.64" cy="773.5" r="1.67" fill="none" stroke="#e8392b" stroke-width="1.21"/><circle cx="260.42" cy="773.5" r="1.67" fill="none" stroke="#e8392b" stroke-width="1.21"/><circle cx="266.2" cy="773.5" r="1.67" fill="none" stroke="#e8392b" stroke-width="1.21"/><circle cx="271.97" cy="773.5" r="1.67" fill="none" stroke="#e8392b" stroke-width="1.21"/><circle cx="277.75" cy="773.5" r="1.67" fill="none" stroke="#e8392b" stroke-width="1.21"/><circle cx="283.52" cy="773.5" r="1.67" fill="none" stroke="#e8392b" stroke-width="1.21"/><circle cx="289.3" cy="773.5" r="1.67" fill="none" stroke="#e8392b" stroke-width="1.21"/><circle cx="295.07" cy="773.5" r="1.67" fill="none" stroke="#e8392b" stroke-width="1.21"/><circle cx="300.85" cy="773.5" r="1.67" fill="none" stroke="#e8392b" stroke-width="1.21"/><circle cx="306.62" cy="773.5" r="1.67" fill="none" stroke="#e8392b" stroke-width="1.21"/><circle cx="312.4" cy="773.5" r="1.67" fill="none" stroke="#e8392b" stroke-width="1.21"/>
<path d="M29.4 631.8 L35.18 749.6 L40.95 758.9 L46.73 771.1 L49 773.5 L312.4 773.5" fill="none" stroke="#a6d255" stroke-width="0.9" stroke-linejoin="round"/>
<rect x="28.31" y="630.71" width="2.18" height="2.18" fill="#a6d255"/><rect x="34.08" y="748.51" width="2.18" height="2.18" fill="#a6d255"/><rect x="39.86" y="757.81" width="2.18" height="2.18" fill="#a6d255"/><rect x="45.63" y="770.01" width="2.18" height="2.18" fill="#a6d255"/><rect x="51.41" y="772.41" width="2.18" height="2.18" fill="#a6d255"/><rect x="57.19" y="772.41" width="2.18" height="2.18" fill="#a6d255"/><rect x="62.96" y="772.41" width="2.18" height="2.18" fill="#a6d255"/><rect x="68.74" y="772.41" width="2.18" height="2.18" fill="#a6d255"/><rect x="74.51" y="772.41" width="2.18" height="2.18" fill="#a6d255"/><rect x="80.29" y="772.41" width="2.18" height="2.18" fill="#a6d255"/><rect x="86.06" y="772.41" width="2.18" height="2.18" fill="#a6d255"/><rect x="91.84" y="772.41" width="2.18" height="2.18" fill="#a6d255"/><rect x="97.61" y="772.41" width="2.18" height="2.18" fill="#a6d255"/><rect x="103.39" y="772.41" width="2.18" height="2.18" fill="#a6d255"/><rect x="109.16" y="772.41" width="2.18" height="2.18" fill="#a6d255"/><rect x="114.94" y="772.41" width="2.18" height="2.18" fill="#a6d255"/><rect x="120.72" y="772.41" width="2.18" height="2.18" fill="#a6d255"/><rect x="126.49" y="772.41" width="2.18" height="2.18" fill="#a6d255"/><rect x="132.27" y="772.41" width="2.18" height="2.18" fill="#a6d255"/><rect x="138.04" y="772.41" width="2.18" height="2.18" fill="#a6d255"/><rect x="143.82" y="772.41" width="2.18" height="2.18" fill="#a6d255"/><rect x="149.59" y="772.41" width="2.18" height="2.18" fill="#a6d255"/><rect x="155.37" y="772.41" width="2.18" height="2.18" fill="#a6d255"/><rect x="161.14" y="772.41" width="2.18" height="2.18" fill="#a6d255"/><rect x="166.92" y="772.41" width="2.18" height="2.18" fill="#a6d255"/><rect x="172.7" y="772.41" width="2.18" height="2.18" fill="#a6d255"/><rect x="178.47" y="772.41" width="2.18" height="2.18" fill="#a6d255"/><rect x="184.25" y="772.41" width="2.18" height="2.18" fill="#a6d255"/><rect x="190.02" y="772.41" width="2.18" height="2.18" fill="#a6d255"/><rect x="195.8" y="772.41" width="2.18" height="2.18" fill="#a6d255"/><rect x="201.57" y="772.41" width="2.18" height="2.18" fill="#a6d255"/><rect x="207.35" y="772.41" width="2.18" height="2.18" fill="#a6d255"/><rect x="213.12" y="772.41" width="2.18" height="2.18" fill="#a6d255"/><rect x="218.9" y="772.41" width="2.18" height="2.18" fill="#a6d255"/><rect x="224.67" y="772.41" width="2.18" height="2.18" fill="#a6d255"/><rect x="230.45" y="772.41" width="2.18" height="2.18" fill="#a6d255"/><rect x="236.23" y="772.41" width="2.18" height="2.18" fill="#a6d255"/><rect x="242" y="772.41" width="2.18" height="2.18" fill="#a6d255"/><rect x="247.78" y="772.41" width="2.18" height="2.18" fill="#a6d255"/><rect x="253.55" y="772.41" width="2.18" height="2.18" fill="#a6d255"/><rect x="259.33" y="772.41" width="2.18" height="2.18" fill="#a6d255"/><rect x="265.1" y="772.41" width="2.18" height="2.18" fill="#a6d255"/><rect x="270.88" y="772.41" width="2.18" height="2.18" fill="#a6d255"/><rect x="276.65" y="772.41" width="2.18" height="2.18" fill="#a6d255"/><rect x="282.43" y="772.41" width="2.18" height="2.18" fill="#a6d255"/><rect x="288.21" y="772.41" width="2.18" height="2.18" fill="#a6d255"/><rect x="293.98" y="772.41" width="2.18" height="2.18" fill="#a6d255"/><rect x="299.76" y="772.41" width="2.18" height="2.18" fill="#a6d255"/><rect x="305.53" y="772.41" width="2.18" height="2.18" fill="#a6d255"/><rect x="311.31" y="772.41" width="2.18" height="2.18" fill="#a6d255"/>
<path d="M29.4 661.1 L35.18 725.2 L40.95 726.4 L52.5 727.1 L58.28 732 L150.69 733 L155.5 736 L237.32 736 L243.09 737.7 L273 737.7 L277.75 740.4 L284.8 741 L289.3 746.7 L295.07 750.4 L312.4 750.4" fill="none" stroke="#52b973" stroke-width="0.95" stroke-dasharray="1.1 0.5" stroke-linejoin="round"/>
<path d="M27.67 661.1H31.12M29.4 659.38V662.83" stroke="#52b973" stroke-width="0.92"/><path d="M33.45 725.2H36.9M35.18 723.48V726.93" stroke="#52b973" stroke-width="0.92"/><path d="M39.23 726.4H42.68M40.95 724.67V728.12" stroke="#52b973" stroke-width="0.92"/><path d="M45 726.75H48.45M46.73 725.02V728.48" stroke="#52b973" stroke-width="0.92"/><path d="M50.78 727.1H54.23M52.5 725.38V728.83" stroke="#52b973" stroke-width="0.92"/><path d="M56.55 732H60M58.28 730.27V733.73" stroke="#52b973" stroke-width="0.92"/><path d="M62.33 732.06H65.78M64.05 730.34V733.79" stroke="#52b973" stroke-width="0.92"/><path d="M68.1 732.12H71.55M69.83 730.4V733.85" stroke="#52b973" stroke-width="0.92"/><path d="M73.88 732.19H77.33M75.6 730.46V733.91" stroke="#52b973" stroke-width="0.92"/><path d="M79.65 732.25H83.1M81.38 730.52V733.98" stroke="#52b973" stroke-width="0.92"/><path d="M85.43 732.31H88.88M87.16 730.59V734.04" stroke="#52b973" stroke-width="0.92"/><path d="M91.21 732.38H94.66M92.93 730.65V734.1" stroke="#52b973" stroke-width="0.92"/><path d="M96.98 732.44H100.43M98.71 730.71V734.16" stroke="#52b973" stroke-width="0.92"/><path d="M102.76 732.5H106.21M104.48 730.77V734.23" stroke="#52b973" stroke-width="0.92"/><path d="M108.53 732.56H111.98M110.26 730.84V734.29" stroke="#52b973" stroke-width="0.92"/><path d="M114.31 732.62H117.76M116.03 730.9V734.35" stroke="#52b973" stroke-width="0.92"/><path d="M120.08 732.69H123.53M121.81 730.96V734.41" stroke="#52b973" stroke-width="0.92"/><path d="M125.86 732.75H129.31M127.58 731.02V734.48" stroke="#52b973" stroke-width="0.92"/><path d="M131.63 732.81H135.08M133.36 731.09V734.54" stroke="#52b973" stroke-width="0.92"/><path d="M137.41 732.88H140.86M139.13 731.15V734.6" stroke="#52b973" stroke-width="0.92"/><path d="M143.19 732.94H146.64M144.91 731.21V734.66" stroke="#52b973" stroke-width="0.92"/><path d="M148.96 733H152.41M150.69 731.27V734.73" stroke="#52b973" stroke-width="0.92"/><path d="M154.74 736H158.19M156.46 734.27V737.73" stroke="#52b973" stroke-width="0.92"/><path d="M160.51 736H163.96M162.24 734.27V737.73" stroke="#52b973" stroke-width="0.92"/><path d="M166.29 736H169.74M168.01 734.27V737.73" stroke="#52b973" stroke-width="0.92"/><path d="M172.06 736H175.51M173.79 734.27V737.73" stroke="#52b973" stroke-width="0.92"/><path d="M177.84 736H181.29M179.56 734.27V737.73" stroke="#52b973" stroke-width="0.92"/><path d="M183.61 736H187.06M185.34 734.27V737.73" stroke="#52b973" stroke-width="0.92"/><path d="M189.39 736H192.84M191.11 734.27V737.73" stroke="#52b973" stroke-width="0.92"/><path d="M195.16 736H198.61M196.89 734.27V737.73" stroke="#52b973" stroke-width="0.92"/><path d="M200.94 736H204.39M202.67 734.27V737.73" stroke="#52b973" stroke-width="0.92"/><path d="M206.72 736H210.17M208.44 734.27V737.73" stroke="#52b973" stroke-width="0.92"/><path d="M212.49 736H215.94M214.22 734.27V737.73" stroke="#52b973" stroke-width="0.92"/><path d="M218.27 736H221.72M219.99 734.27V737.73" stroke="#52b973" stroke-width="0.92"/><path d="M224.04 736H227.49M225.77 734.27V737.73" stroke="#52b973" stroke-width="0.92"/><path d="M229.82 736H233.27M231.54 734.27V737.73" stroke="#52b973" stroke-width="0.92"/><path d="M235.59 736H239.04M237.32 734.27V737.73" stroke="#52b973" stroke-width="0.92"/><path d="M241.37 737.7H244.82M243.09 735.98V739.43" stroke="#52b973" stroke-width="0.92"/><path d="M247.14 737.7H250.59M248.87 735.98V739.43" stroke="#52b973" stroke-width="0.92"/><path d="M252.92 737.7H256.37M254.64 735.98V739.43" stroke="#52b973" stroke-width="0.92"/><path d="M258.7 737.7H262.15M260.42 735.98V739.43" stroke="#52b973" stroke-width="0.92"/><path d="M264.47 737.7H267.92M266.2 735.98V739.43" stroke="#52b973" stroke-width="0.92"/><path d="M270.25 737.7H273.7M271.97 735.98V739.43" stroke="#52b973" stroke-width="0.92"/><path d="M276.02 740.4H279.47M277.75 738.67V742.12" stroke="#52b973" stroke-width="0.92"/><path d="M281.8 740.89H285.25M283.52 739.17V742.62" stroke="#52b973" stroke-width="0.92"/><path d="M287.57 746.7H291.02M289.3 744.98V748.43" stroke="#52b973" stroke-width="0.92"/><path d="M293.35 750.4H296.8M295.07 748.67V752.12" stroke="#52b973" stroke-width="0.92"/><path d="M299.12 750.4H302.57M300.85 748.67V752.12" stroke="#52b973" stroke-width="0.92"/><path d="M304.9 750.4H308.35M306.62 748.67V752.12" stroke="#52b973" stroke-width="0.92"/><path d="M310.67 750.4H314.12M312.4 748.67V752.12" stroke="#52b973" stroke-width="0.92"/>
<path d="M29.4 628.9 L35.18 700.7 L40.95 701.5 L46.73 702.7 L52.5 720.3 L58.28 720.5 L69.83 720.5 L75.6 721.8 L81.38 722.7 L87.16 722.7 L92.93 727.1 L110.26 727.6 L116.03 736.7 L156.46 736.7 L162.24 736.7 L168.01 741.4 L177.3 742.7 L191.11 743.4 L231.54 743.4 L236.1 746.7 L312.4 746.7" fill="none" stroke="#1f55b5" stroke-width="0.95" stroke-dasharray="2.2 1.3" stroke-linejoin="round"/>
<circle cx="29.4" cy="628.9" r="1.47" fill="#1f55b5"/><circle cx="35.18" cy="700.7" r="1.47" fill="#1f55b5"/><circle cx="40.95" cy="701.5" r="1.47" fill="#1f55b5"/><circle cx="46.73" cy="702.7" r="1.47" fill="#1f55b5"/><circle cx="52.5" cy="720.3" r="1.47" fill="#1f55b5"/><circle cx="58.28" cy="720.5" r="1.47" fill="#1f55b5"/><circle cx="64.05" cy="720.5" r="1.47" fill="#1f55b5"/><circle cx="69.83" cy="720.5" r="1.47" fill="#1f55b5"/><circle cx="75.6" cy="721.8" r="1.47" fill="#1f55b5"/><circle cx="81.38" cy="722.7" r="1.47" fill="#1f55b5"/><circle cx="87.16" cy="722.7" r="1.47" fill="#1f55b5"/><circle cx="92.93" cy="727.1" r="1.47" fill="#1f55b5"/><circle cx="98.71" cy="727.27" r="1.47" fill="#1f55b5"/><circle cx="104.48" cy="727.43" r="1.47" fill="#1f55b5"/><circle cx="110.26" cy="727.6" r="1.47" fill="#1f55b5"/><circle cx="116.03" cy="736.7" r="1.47" fill="#1f55b5"/><circle cx="121.81" cy="736.7" r="1.47" fill="#1f55b5"/><circle cx="127.58" cy="736.7" r="1.47" fill="#1f55b5"/><circle cx="133.36" cy="736.7" r="1.47" fill="#1f55b5"/><circle cx="139.13" cy="736.7" r="1.47" fill="#1f55b5"/><circle cx="144.91" cy="736.7" r="1.47" fill="#1f55b5"/><circle cx="150.69" cy="736.7" r="1.47" fill="#1f55b5"/><circle cx="156.46" cy="736.7" r="1.47" fill="#1f55b5"/><circle cx="162.24" cy="736.7" r="1.47" fill="#1f55b5"/><circle cx="168.01" cy="741.4" r="1.47" fill="#1f55b5"/><circle cx="173.79" cy="742.21" r="1.47" fill="#1f55b5"/><circle cx="179.56" cy="742.81" r="1.47" fill="#1f55b5"/><circle cx="185.34" cy="743.11" r="1.47" fill="#1f55b5"/><circle cx="191.11" cy="743.4" r="1.47" fill="#1f55b5"/><circle cx="196.89" cy="743.4" r="1.47" fill="#1f55b5"/><circle cx="202.67" cy="743.4" r="1.47" fill="#1f55b5"/><circle cx="208.44" cy="743.4" r="1.47" fill="#1f55b5"/><circle cx="214.22" cy="743.4" r="1.47" fill="#1f55b5"/><circle cx="219.99" cy="743.4" r="1.47" fill="#1f55b5"/><circle cx="225.77" cy="743.4" r="1.47" fill="#1f55b5"/><circle cx="231.54" cy="743.4" r="1.47" fill="#1f55b5"/><circle cx="237.32" cy="746.7" r="1.47" fill="#1f55b5"/><circle cx="243.09" cy="746.7" r="1.47" fill="#1f55b5"/><circle cx="248.87" cy="746.7" r="1.47" fill="#1f55b5"/><circle cx="254.64" cy="746.7" r="1.47" fill="#1f55b5"/><circle cx="260.42" cy="746.7" r="1.47" fill="#1f55b5"/><circle cx="266.2" cy="746.7" r="1.47" fill="#1f55b5"/><circle cx="271.97" cy="746.7" r="1.47" fill="#1f55b5"/><circle cx="277.75" cy="746.7" r="1.47" fill="#1f55b5"/><circle cx="283.52" cy="746.7" r="1.47" fill="#1f55b5"/><circle cx="289.3" cy="746.7" r="1.47" fill="#1f55b5"/><circle cx="295.07" cy="746.7" r="1.47" fill="#1f55b5"/><circle cx="300.85" cy="746.7" r="1.47" fill="#1f55b5"/><circle cx="306.62" cy="746.7" r="1.47" fill="#1f55b5"/><circle cx="312.4" cy="746.7" r="1.47" fill="#1f55b5"/>
<path d="M29.4 609.3 L35.18 765.8 L312.4 765.6" fill="none" stroke="#8d40aa" stroke-width="0.9" stroke-linejoin="round"/>
<rect x="28" y="607.9" width="2.8" height="2.8" fill="#a772c0" stroke="#8d40aa" stroke-width="0.8"/><rect x="33.78" y="764.4" width="2.8" height="2.8" fill="#a772c0" stroke="#8d40aa" stroke-width="0.8"/><rect x="39.55" y="764.4" width="2.8" height="2.8" fill="#a772c0" stroke="#8d40aa" stroke-width="0.8"/><rect x="45.33" y="764.39" width="2.8" height="2.8" fill="#a772c0" stroke="#8d40aa" stroke-width="0.8"/><rect x="51.1" y="764.39" width="2.8" height="2.8" fill="#a772c0" stroke="#8d40aa" stroke-width="0.8"/><rect x="56.88" y="764.38" width="2.8" height="2.8" fill="#a772c0" stroke="#8d40aa" stroke-width="0.8"/><rect x="62.65" y="764.38" width="2.8" height="2.8" fill="#a772c0" stroke="#8d40aa" stroke-width="0.8"/><rect x="68.43" y="764.38" width="2.8" height="2.8" fill="#a772c0" stroke="#8d40aa" stroke-width="0.8"/><rect x="74.2" y="764.37" width="2.8" height="2.8" fill="#a772c0" stroke="#8d40aa" stroke-width="0.8"/><rect x="79.98" y="764.37" width="2.8" height="2.8" fill="#a772c0" stroke="#8d40aa" stroke-width="0.8"/><rect x="85.76" y="764.36" width="2.8" height="2.8" fill="#a772c0" stroke="#8d40aa" stroke-width="0.8"/><rect x="91.53" y="764.36" width="2.8" height="2.8" fill="#a772c0" stroke="#8d40aa" stroke-width="0.8"/><rect x="97.31" y="764.35" width="2.8" height="2.8" fill="#a772c0" stroke="#8d40aa" stroke-width="0.8"/><rect x="103.08" y="764.35" width="2.8" height="2.8" fill="#a772c0" stroke="#8d40aa" stroke-width="0.8"/><rect x="108.86" y="764.35" width="2.8" height="2.8" fill="#a772c0" stroke="#8d40aa" stroke-width="0.8"/><rect x="114.63" y="764.34" width="2.8" height="2.8" fill="#a772c0" stroke="#8d40aa" stroke-width="0.8"/><rect x="120.41" y="764.34" width="2.8" height="2.8" fill="#a772c0" stroke="#8d40aa" stroke-width="0.8"/><rect x="126.18" y="764.33" width="2.8" height="2.8" fill="#a772c0" stroke="#8d40aa" stroke-width="0.8"/><rect x="131.96" y="764.33" width="2.8" height="2.8" fill="#a772c0" stroke="#8d40aa" stroke-width="0.8"/><rect x="137.73" y="764.33" width="2.8" height="2.8" fill="#a772c0" stroke="#8d40aa" stroke-width="0.8"/><rect x="143.51" y="764.32" width="2.8" height="2.8" fill="#a772c0" stroke="#8d40aa" stroke-width="0.8"/><rect x="149.29" y="764.32" width="2.8" height="2.8" fill="#a772c0" stroke="#8d40aa" stroke-width="0.8"/><rect x="155.06" y="764.31" width="2.8" height="2.8" fill="#a772c0" stroke="#8d40aa" stroke-width="0.8"/><rect x="160.84" y="764.31" width="2.8" height="2.8" fill="#a772c0" stroke="#8d40aa" stroke-width="0.8"/><rect x="166.61" y="764.3" width="2.8" height="2.8" fill="#a772c0" stroke="#8d40aa" stroke-width="0.8"/><rect x="172.39" y="764.3" width="2.8" height="2.8" fill="#a772c0" stroke="#8d40aa" stroke-width="0.8"/><rect x="178.16" y="764.3" width="2.8" height="2.8" fill="#a772c0" stroke="#8d40aa" stroke-width="0.8"/><rect x="183.94" y="764.29" width="2.8" height="2.8" fill="#a772c0" stroke="#8d40aa" stroke-width="0.8"/><rect x="189.71" y="764.29" width="2.8" height="2.8" fill="#a772c0" stroke="#8d40aa" stroke-width="0.8"/><rect x="195.49" y="764.28" width="2.8" height="2.8" fill="#a772c0" stroke="#8d40aa" stroke-width="0.8"/><rect x="201.27" y="764.28" width="2.8" height="2.8" fill="#a772c0" stroke="#8d40aa" stroke-width="0.8"/><rect x="207.04" y="764.27" width="2.8" height="2.8" fill="#a772c0" stroke="#8d40aa" stroke-width="0.8"/><rect x="212.82" y="764.27" width="2.8" height="2.8" fill="#a772c0" stroke="#8d40aa" stroke-width="0.8"/><rect x="218.59" y="764.27" width="2.8" height="2.8" fill="#a772c0" stroke="#8d40aa" stroke-width="0.8"/><rect x="224.37" y="764.26" width="2.8" height="2.8" fill="#a772c0" stroke="#8d40aa" stroke-width="0.8"/><rect x="230.14" y="764.26" width="2.8" height="2.8" fill="#a772c0" stroke="#8d40aa" stroke-width="0.8"/><rect x="235.92" y="764.25" width="2.8" height="2.8" fill="#a772c0" stroke="#8d40aa" stroke-width="0.8"/><rect x="241.69" y="764.25" width="2.8" height="2.8" fill="#a772c0" stroke="#8d40aa" stroke-width="0.8"/><rect x="247.47" y="764.25" width="2.8" height="2.8" fill="#a772c0" stroke="#8d40aa" stroke-width="0.8"/><rect x="253.24" y="764.24" width="2.8" height="2.8" fill="#a772c0" stroke="#8d40aa" stroke-width="0.8"/><rect x="259.02" y="764.24" width="2.8" height="2.8" fill="#a772c0" stroke="#8d40aa" stroke-width="0.8"/><rect x="264.8" y="764.23" width="2.8" height="2.8" fill="#a772c0" stroke="#8d40aa" stroke-width="0.8"/><rect x="270.57" y="764.23" width="2.8" height="2.8" fill="#a772c0" stroke="#8d40aa" stroke-width="0.8"/><rect x="276.35" y="764.23" width="2.8" height="2.8" fill="#a772c0" stroke="#8d40aa" stroke-width="0.8"/><rect x="282.12" y="764.22" width="2.8" height="2.8" fill="#a772c0" stroke="#8d40aa" stroke-width="0.8"/><rect x="287.9" y="764.22" width="2.8" height="2.8" fill="#a772c0" stroke="#8d40aa" stroke-width="0.8"/><rect x="293.67" y="764.21" width="2.8" height="2.8" fill="#a772c0" stroke="#8d40aa" stroke-width="0.8"/><rect x="299.45" y="764.21" width="2.8" height="2.8" fill="#a772c0" stroke="#8d40aa" stroke-width="0.8"/><rect x="305.22" y="764.2" width="2.8" height="2.8" fill="#a772c0" stroke="#8d40aa" stroke-width="0.8"/><rect x="311" y="764.2" width="2.8" height="2.8" fill="#a772c0" stroke="#8d40aa" stroke-width="0.8"/>
</g>
<rect x="258.2" y="613.2" width="50.6" height="38.3" fill="#fff" stroke="#2a2a2a" stroke-width="0.9"/>
<path d="M259.9 617.8H274.5" stroke="#e8392b" stroke-width="1.1"/>
<circle cx="267.2" cy="617.8" r="1.67" fill="none" stroke="#e8392b" stroke-width="1.21"/>
<text x="275.8" y="620.15" font-size="6.9" font-weight="bold" fill="#111">WOACBA</text>
<path d="M259.9 624.9H274.5" stroke="#a6d255" stroke-width="0.9"/>
<rect x="266.11" y="623.81" width="2.18" height="2.18" fill="#a6d255"/>
<text x="275.8" y="627.25" font-size="6.9" font-weight="bold" fill="#111">WOA</text>
<path d="M259.9 632.4H274.5" stroke="#52b973" stroke-width="0.95" stroke-dasharray="1.1 0.5"/>
<path d="M265.47 632.4H268.93M267.2 630.67V634.12" stroke="#52b973" stroke-width="0.92"/>
<text x="275.8" y="634.75" font-size="6.9" font-weight="bold" fill="#111">BA</text>
<path d="M259.9 639.7H274.5" stroke="#1f55b5" stroke-width="0.95" stroke-dasharray="2.2 1.3"/>
<circle cx="267.2" cy="639.7" r="1.47" fill="#1f55b5"/>
<text x="275.8" y="642.05" font-size="6.9" font-weight="bold" fill="#111">PSO</text>
<path d="M259.9 646.9H274.5" stroke="#8d40aa" stroke-width="1.2"/>
<rect x="265.8" y="645.5" width="2.8" height="2.8" fill="#a772c0" stroke="#8d40aa" stroke-width="0.8"/>
<text x="275.8" y="649.25" font-size="6.9" font-weight="bold" fill="#111">GA</text>
<path d="M404.14 773.05V776.55M404.14 609.6V606.1M413.57 773.05V776.55M413.57 609.6V606.1M423.01 773.05V776.55M423.01 609.6V606.1M432.45 773.05V776.55M432.45 609.6V606.1M441.88 773.05V779.05M441.88 609.6V603.6M451.32 773.05V776.55M451.32 609.6V606.1M460.76 773.05V776.55M460.76 609.6V606.1M470.19 773.05V776.55M470.19 609.6V606.1M479.63 773.05V776.55M479.63 609.6V606.1M489.07 773.05V779.05M489.07 609.6V603.6M498.5 773.05V776.55M498.5 609.6V606.1M507.94 773.05V776.55M507.94 609.6V606.1M517.38 773.05V776.55M517.38 609.6V606.1M526.81 773.05V776.55M526.81 609.6V606.1M536.25 773.05V779.05M536.25 609.6V603.6M545.69 773.05V776.55M545.69 609.6V606.1M555.12 773.05V776.55M555.12 609.6V606.1M564.56 773.05V776.55M564.56 609.6V606.1M574 773.05V776.55M574 609.6V606.1M583.43 773.05V779.05M583.43 609.6V603.6M592.87 773.05V776.55M592.87 609.6V606.1M602.31 773.05V776.55M602.31 609.6V606.1M611.74 773.05V776.55M611.74 609.6V606.1M621.18 773.05V776.55M621.18 609.6V606.1M630.62 773.05V779.05M630.62 609.6V603.6M640.05 773.05V776.55M640.05 609.6V606.1M649.49 773.05V776.55M649.49 609.6V606.1M658.93 773.05V776.55M658.93 609.6V606.1M668.36 773.05V776.55M668.36 609.6V606.1M677.8 773.05V779.05M677.8 609.6V603.6M394.7 612.76H391.2M677.8 612.76H681.3M394.7 621.4H391.2M677.8 621.4H681.3M394.7 628.89H391.2M677.8 628.89H681.3M394.7 635.49H391.2M677.8 635.49H681.3M394.7 641.4H388.7M677.8 641.4H683.8M394.7 680.26H391.2M677.8 680.26H681.3M394.7 703H391.2M677.8 703H681.3M394.7 719.13H391.2M677.8 719.13H681.3M394.7 731.64H391.2M677.8 731.64H681.3M394.7 741.86H391.2M677.8 741.86H681.3M394.7 750.5H391.2M677.8 750.5H681.3M394.7 757.99H391.2M677.8 757.99H681.3M394.7 764.59H391.2M677.8 764.59H681.3M394.7 770.5H388.7M677.8 770.5H683.8" stroke="#868686" stroke-width="0.95" fill="none"/>
<text x="441.88" y="786.35" font-size="6.9" text-anchor="middle" font-weight="bold" fill="#333" stroke="#333" stroke-width="0.15">500</text>
<text x="489.07" y="786.35" font-size="6.9" text-anchor="middle" font-weight="bold" fill="#333" stroke="#333" stroke-width="0.15">1000</text>
<text x="536.25" y="786.35" font-size="6.9" text-anchor="middle" font-weight="bold" fill="#333" stroke="#333" stroke-width="0.15">1500</text>
<text x="583.43" y="786.35" font-size="6.9" text-anchor="middle" font-weight="bold" fill="#333" stroke="#333" stroke-width="0.15">2000</text>
<text x="630.62" y="786.35" font-size="6.9" text-anchor="middle" font-weight="bold" fill="#333" stroke="#333" stroke-width="0.15">2500</text>
<text x="677.8" y="786.35" font-size="6.9" text-anchor="middle" font-weight="bold" fill="#333" stroke="#333" stroke-width="0.15">3000</text>
<text x="536.25" y="793.55" font-size="6.9" text-anchor="middle" font-weight="bold" fill="#333" stroke="#333" stroke-width="0.15">Iteration</text>
<text x="0" y="0" font-size="6.9" text-anchor="middle" font-weight="bold" fill="#555" stroke="#555" stroke-width="0.18" transform="translate(368.7 690.8) rotate(-90)" dominant-baseline="central">Best score obtaind so far</text>
<text x="536.25" y="607" font-size="6.8" text-anchor="middle" font-weight="bold" fill="#222" stroke="#222" stroke-width="0.15">F23</text>
<text x="387.1" y="644.65" font-size="6.2" text-anchor="end" font-weight="normal" fill="#444" stroke="#444" stroke-width="0.15">&#8722;10<tspan font-size="4.96" dy="-2.79">0</tspan></text>
<text x="387.1" y="773.75" font-size="6.2" text-anchor="end" font-weight="normal" fill="#444" stroke="#444" stroke-width="0.15">&#8722;10<tspan font-size="4.96" dy="-2.79">1</tspan></text>
<rect x="394.7" y="609.6" width="283.1" height="163.45" fill="none" stroke="#868686" stroke-width="1.2"/>
<clipPath id="cF23"><rect x="392.7" y="607.1" width="287.1" height="168.45"/></clipPath>
<g clip-path="url(#cF23)">
<path d="M394.7 699 L400.48 764.3 L406.26 772.4 L408 773.5 L677.8 773.5" fill="none" stroke="#e8392b" stroke-width="1.1" stroke-linejoin="round"/>
<circle cx="394.7" cy="699" r="1.67" fill="none" stroke="#e8392b" stroke-width="1.21"/><circle cx="400.48" cy="764.3" r="1.67" fill="none" stroke="#e8392b" stroke-width="1.21"/><circle cx="406.26" cy="772.4" r="1.67" fill="none" stroke="#e8392b" stroke-width="1.21"/><circle cx="412.03" cy="773.5" r="1.67" fill="none" stroke="#e8392b" stroke-width="1.21"/><circle cx="417.81" cy="773.5" r="1.67" fill="none" stroke="#e8392b" stroke-width="1.21"/><circle cx="423.59" cy="773.5" r="1.67" fill="none" stroke="#e8392b" stroke-width="1.21"/><circle cx="429.37" cy="773.5" r="1.67" fill="none" stroke="#e8392b" stroke-width="1.21"/><circle cx="435.14" cy="773.5" r="1.67" fill="none" stroke="#e8392b" stroke-width="1.21"/><circle cx="440.92" cy="773.5" r="1.67" fill="none" stroke="#e8392b" stroke-width="1.21"/><circle cx="446.7" cy="773.5" r="1.67" fill="none" stroke="#e8392b" stroke-width="1.21"/><circle cx="452.48" cy="773.5" r="1.67" fill="none" stroke="#e8392b" stroke-width="1.21"/><circle cx="458.25" cy="773.5" r="1.67" fill="none" stroke="#e8392b" stroke-width="1.21"/><circle cx="464.03" cy="773.5" r="1.67" fill="none" stroke="#e8392b" stroke-width="1.21"/><circle cx="469.81" cy="773.5" r="1.67" fill="none" stroke="#e8392b" stroke-width="1.21"/><circle cx="475.59" cy="773.5" r="1.67" fill="none" stroke="#e8392b" stroke-width="1.21"/><circle cx="481.36" cy="773.5" r="1.67" fill="none" stroke="#e8392b" stroke-width="1.21"/><circle cx="487.14" cy="773.5" r="1.67" fill="none" stroke="#e8392b" stroke-width="1.21"/><circle cx="492.92" cy="773.5" r="1.67" fill="none" stroke="#e8392b" stroke-width="1.21"/><circle cx="498.7" cy="773.5" r="1.67" fill="none" stroke="#e8392b" stroke-width="1.21"/><circle cx="504.47" cy="773.5" r="1.67" fill="none" stroke="#e8392b" stroke-width="1.21"/><circle cx="510.25" cy="773.5" r="1.67" fill="none" stroke="#e8392b" stroke-width="1.21"/><circle cx="516.03" cy="773.5" r="1.67" fill="none" stroke="#e8392b" stroke-width="1.21"/><circle cx="521.81" cy="773.5" r="1.67" fill="none" stroke="#e8392b" stroke-width="1.21"/><circle cx="527.58" cy="773.5" r="1.67" fill="none" stroke="#e8392b" stroke-width="1.21"/><circle cx="533.36" cy="773.5" r="1.67" fill="none" stroke="#e8392b" stroke-width="1.21"/><circle cx="539.14" cy="773.5" r="1.67" fill="none" stroke="#e8392b" stroke-width="1.21"/><circle cx="544.92" cy="773.5" r="1.67" fill="none" stroke="#e8392b" stroke-width="1.21"/><circle cx="550.69" cy="773.5" r="1.67" fill="none" stroke="#e8392b" stroke-width="1.21"/><circle cx="556.47" cy="773.5" r="1.67" fill="none" stroke="#e8392b" stroke-width="1.21"/><circle cx="562.25" cy="773.5" r="1.67" fill="none" stroke="#e8392b" stroke-width="1.21"/><circle cx="568.03" cy="773.5" r="1.67" fill="none" stroke="#e8392b" stroke-width="1.21"/><circle cx="573.8" cy="773.5" r="1.67" fill="none" stroke="#e8392b" stroke-width="1.21"/><circle cx="579.58" cy="773.5" r="1.67" fill="none" stroke="#e8392b" stroke-width="1.21"/><circle cx="585.36" cy="773.5" r="1.67" fill="none" stroke="#e8392b" stroke-width="1.21"/><circle cx="591.14" cy="773.5" r="1.67" fill="none" stroke="#e8392b" stroke-width="1.21"/><circle cx="596.91" cy="773.5" r="1.67" fill="none" stroke="#e8392b" stroke-width="1.21"/><circle cx="602.69" cy="773.5" r="1.67" fill="none" stroke="#e8392b" stroke-width="1.21"/><circle cx="608.47" cy="773.5" r="1.67" fill="none" stroke="#e8392b" stroke-width="1.21"/><circle cx="614.25" cy="773.5" r="1.67" fill="none" stroke="#e8392b" stroke-width="1.21"/><circle cx="620.02" cy="773.5" r="1.67" fill="none" stroke="#e8392b" stroke-width="1.21"/><circle cx="625.8" cy="773.5" r="1.67" fill="none" stroke="#e8392b" stroke-width="1.21"/><circle cx="631.58" cy="773.5" r="1.67" fill="none" stroke="#e8392b" stroke-width="1.21"/><circle cx="637.36" cy="773.5" r="1.67" fill="none" stroke="#e8392b" stroke-width="1.21"/><circle cx="643.13" cy="773.5" r="1.67" fill="none" stroke="#e8392b" stroke-width="1.21"/><circle cx="648.91" cy="773.5" r="1.67" fill="none" stroke="#e8392b" stroke-width="1.21"/><circle cx="654.69" cy="773.5" r="1.67" fill="none" stroke="#e8392b" stroke-width="1.21"/><circle cx="660.47" cy="773.5" r="1.67" fill="none" stroke="#e8392b" stroke-width="1.21"/><circle cx="666.24" cy="773.5" r="1.67" fill="none" stroke="#e8392b" stroke-width="1.21"/><circle cx="672.02" cy="773.5" r="1.67" fill="none" stroke="#e8392b" stroke-width="1.21"/><circle cx="677.8" cy="773.5" r="1.67" fill="none" stroke="#e8392b" stroke-width="1.21"/>
<path d="M394.7 646.5 L400.48 741.3 L406.26 765 L412.03 772.4 L414 773.5 L677.8 773.5" fill="none" stroke="#a6d255" stroke-width="0.9" stroke-linejoin="round"/>
<rect x="393.61" y="645.41" width="2.18" height="2.18" fill="#a6d255"/><rect x="399.39" y="740.21" width="2.18" height="2.18" fill="#a6d255"/><rect x="405.16" y="763.91" width="2.18" height="2.18" fill="#a6d255"/><rect x="410.94" y="771.31" width="2.18" height="2.18" fill="#a6d255"/><rect x="416.72" y="772.41" width="2.18" height="2.18" fill="#a6d255"/><rect x="422.5" y="772.41" width="2.18" height="2.18" fill="#a6d255"/><rect x="428.27" y="772.41" width="2.18" height="2.18" fill="#a6d255"/><rect x="434.05" y="772.41" width="2.18" height="2.18" fill="#a6d255"/><rect x="439.83" y="772.41" width="2.18" height="2.18" fill="#a6d255"/><rect x="445.61" y="772.41" width="2.18" height="2.18" fill="#a6d255"/><rect x="451.38" y="772.41" width="2.18" height="2.18" fill="#a6d255"/><rect x="457.16" y="772.41" width="2.18" height="2.18" fill="#a6d255"/><rect x="462.94" y="772.41" width="2.18" height="2.18" fill="#a6d255"/><rect x="468.72" y="772.41" width="2.18" height="2.18" fill="#a6d255"/><rect x="474.49" y="772.41" width="2.18" height="2.18" fill="#a6d255"/><rect x="480.27" y="772.41" width="2.18" height="2.18" fill="#a6d255"/><rect x="486.05" y="772.41" width="2.18" height="2.18" fill="#a6d255"/><rect x="491.83" y="772.41" width="2.18" height="2.18" fill="#a6d255"/><rect x="497.6" y="772.41" width="2.18" height="2.18" fill="#a6d255"/><rect x="503.38" y="772.41" width="2.18" height="2.18" fill="#a6d255"/><rect x="509.16" y="772.41" width="2.18" height="2.18" fill="#a6d255"/><rect x="514.94" y="772.41" width="2.18" height="2.18" fill="#a6d255"/><rect x="520.71" y="772.41" width="2.18" height="2.18" fill="#a6d255"/><rect x="526.49" y="772.41" width="2.18" height="2.18" fill="#a6d255"/><rect x="532.27" y="772.41" width="2.18" height="2.18" fill="#a6d255"/><rect x="538.05" y="772.41" width="2.18" height="2.18" fill="#a6d255"/><rect x="543.82" y="772.41" width="2.18" height="2.18" fill="#a6d255"/><rect x="549.6" y="772.41" width="2.18" height="2.18" fill="#a6d255"/><rect x="555.38" y="772.41" width="2.18" height="2.18" fill="#a6d255"/><rect x="561.16" y="772.41" width="2.18" height="2.18" fill="#a6d255"/><rect x="566.93" y="772.41" width="2.18" height="2.18" fill="#a6d255"/><rect x="572.71" y="772.41" width="2.18" height="2.18" fill="#a6d255"/><rect x="578.49" y="772.41" width="2.18" height="2.18" fill="#a6d255"/><rect x="584.27" y="772.41" width="2.18" height="2.18" fill="#a6d255"/><rect x="590.04" y="772.41" width="2.18" height="2.18" fill="#a6d255"/><rect x="595.82" y="772.41" width="2.18" height="2.18" fill="#a6d255"/><rect x="601.6" y="772.41" width="2.18" height="2.18" fill="#a6d255"/><rect x="607.38" y="772.41" width="2.18" height="2.18" fill="#a6d255"/><rect x="613.15" y="772.41" width="2.18" height="2.18" fill="#a6d255"/><rect x="618.93" y="772.41" width="2.18" height="2.18" fill="#a6d255"/><rect x="624.71" y="772.41" width="2.18" height="2.18" fill="#a6d255"/><rect x="630.49" y="772.41" width="2.18" height="2.18" fill="#a6d255"/><rect x="636.26" y="772.41" width="2.18" height="2.18" fill="#a6d255"/><rect x="642.04" y="772.41" width="2.18" height="2.18" fill="#a6d255"/><rect x="647.82" y="772.41" width="2.18" height="2.18" fill="#a6d255"/><rect x="653.6" y="772.41" width="2.18" height="2.18" fill="#a6d255"/><rect x="659.37" y="772.41" width="2.18" height="2.18" fill="#a6d255"/><rect x="665.15" y="772.41" width="2.18" height="2.18" fill="#a6d255"/><rect x="670.93" y="772.41" width="2.18" height="2.18" fill="#a6d255"/><rect x="676.71" y="772.41" width="2.18" height="2.18" fill="#a6d255"/>
<path d="M394.7 666 L400.48 707.6 L406.26 715.4 L412.03 716.9 L417.81 719.3 L429.37 719.8 L435.14 727.1 L452.48 727.1 L455 727.6 L464.03 730.3 L469.81 731 L475.59 734.3 L579.58 734.3 L585.36 736 L591.14 741.7 L599.4 743.7 L608.47 746.1 L612.8 747.1 L677.8 747.1" fill="none" stroke="#52b973" stroke-width="0.95" stroke-dasharray="1.1 0.5" stroke-linejoin="round"/>
<path d="M392.97 666H396.43M394.7 664.27V667.73" stroke="#52b973" stroke-width="0.92"/><path d="M398.75 707.6H402.2M400.48 705.88V709.33" stroke="#52b973" stroke-width="0.92"/><path d="M404.53 715.4H407.98M406.26 713.67V717.12" stroke="#52b973" stroke-width="0.92"/><path d="M410.31 716.9H413.76M412.03 715.17V718.62" stroke="#52b973" stroke-width="0.92"/><path d="M416.09 719.3H419.54M417.81 717.57V721.02" stroke="#52b973" stroke-width="0.92"/><path d="M421.86 719.55H425.31M423.59 717.82V721.27" stroke="#52b973" stroke-width="0.92"/><path d="M427.64 719.8H431.09M429.37 718.07V721.52" stroke="#52b973" stroke-width="0.92"/><path d="M433.42 727.1H436.87M435.14 725.38V728.83" stroke="#52b973" stroke-width="0.92"/><path d="M439.2 727.1H442.65M440.92 725.38V728.83" stroke="#52b973" stroke-width="0.92"/><path d="M444.97 727.1H448.42M446.7 725.38V728.83" stroke="#52b973" stroke-width="0.92"/><path d="M450.75 727.1H454.2M452.48 725.38V728.83" stroke="#52b973" stroke-width="0.92"/><path d="M456.53 728.57H459.98M458.25 726.85V730.3" stroke="#52b973" stroke-width="0.92"/><path d="M462.31 730.3H465.76M464.03 728.57V732.02" stroke="#52b973" stroke-width="0.92"/><path d="M468.08 731H471.53M469.81 729.27V732.73" stroke="#52b973" stroke-width="0.92"/><path d="M473.86 734.3H477.31M475.59 732.57V736.02" stroke="#52b973" stroke-width="0.92"/><path d="M479.64 734.3H483.09M481.36 732.57V736.02" stroke="#52b973" stroke-width="0.92"/><path d="M485.42 734.3H488.87M487.14 732.57V736.02" stroke="#52b973" stroke-width="0.92"/><path d="M491.19 734.3H494.64M492.92 732.57V736.02" stroke="#52b973" stroke-width="0.92"/><path d="M496.97 734.3H500.42M498.7 732.57V736.02" stroke="#52b973" stroke-width="0.92"/><path d="M502.75 734.3H506.2M504.47 732.57V736.02" stroke="#52b973" stroke-width="0.92"/><path d="M508.53 734.3H511.98M510.25 732.57V736.02" stroke="#52b973" stroke-width="0.92"/><path d="M514.3 734.3H517.75M516.03 732.57V736.02" stroke="#52b973" stroke-width="0.92"/><path d="M520.08 734.3H523.53M521.81 732.57V736.02" stroke="#52b973" stroke-width="0.92"/><path d="M525.86 734.3H529.31M527.58 732.57V736.02" stroke="#52b973" stroke-width="0.92"/><path d="M531.64 734.3H535.09M533.36 732.57V736.02" stroke="#52b973" stroke-width="0.92"/><path d="M537.41 734.3H540.86M539.14 732.57V736.02" stroke="#52b973" stroke-width="0.92"/><path d="M543.19 734.3H546.64M544.92 732.57V736.02" stroke="#52b973" stroke-width="0.92"/><path d="M548.97 734.3H552.42M550.69 732.57V736.02" stroke="#52b973" stroke-width="0.92"/><path d="M554.75 734.3H558.2M556.47 732.57V736.02" stroke="#52b973" stroke-width="0.92"/><path d="M560.52 734.3H563.97M562.25 732.57V736.02" stroke="#52b973" stroke-width="0.92"/><path d="M566.3 734.3H569.75M568.03 732.57V736.02" stroke="#52b973" stroke-width="0.92"/><path d="M572.08 734.3H575.53M573.8 732.57V736.02" stroke="#52b973" stroke-width="0.92"/><path d="M577.86 734.3H581.31M579.58 732.57V736.02" stroke="#52b973" stroke-width="0.92"/><path d="M583.63 736H587.08M585.36 734.27V737.73" stroke="#52b973" stroke-width="0.92"/><path d="M589.41 741.7H592.86M591.14 739.98V743.43" stroke="#52b973" stroke-width="0.92"/><path d="M595.19 743.1H598.64M596.91 741.37V744.82" stroke="#52b973" stroke-width="0.92"/><path d="M600.97 744.57H604.42M602.69 742.85V746.3" stroke="#52b973" stroke-width="0.92"/><path d="M606.74 746.1H610.19M608.47 744.38V747.83" stroke="#52b973" stroke-width="0.92"/><path d="M612.52 747.1H615.97M614.25 745.38V748.83" stroke="#52b973" stroke-width="0.92"/><path d="M618.3 747.1H621.75M620.02 745.38V748.83" stroke="#52b973" stroke-width="0.92"/><path d="M624.08 747.1H627.53M625.8 745.38V748.83" stroke="#52b973" stroke-width="0.92"/><path d="M629.85 747.1H633.3M631.58 745.38V748.83" stroke="#52b973" stroke-width="0.92"/><path d="M635.63 747.1H639.08M637.36 745.38V748.83" stroke="#52b973" stroke-width="0.92"/><path d="M641.41 747.1H644.86M643.13 745.38V748.83" stroke="#52b973" stroke-width="0.92"/><path d="M647.19 747.1H650.64M648.91 745.38V748.83" stroke="#52b973" stroke-width="0.92"/><path d="M652.96 747.1H656.41M654.69 745.38V748.83" stroke="#52b973" stroke-width="0.92"/><path d="M658.74 747.1H662.19M660.47 745.38V748.83" stroke="#52b973" stroke-width="0.92"/><path d="M664.52 747.1H667.97M666.24 745.38V748.83" stroke="#52b973" stroke-width="0.92"/><path d="M670.3 747.1H673.75M672.02 745.38V748.83" stroke="#52b973" stroke-width="0.92"/><path d="M676.07 747.1H679.52M677.8 745.38V748.83" stroke="#52b973" stroke-width="0.92"/>
<path d="M394.7 624.4 L400.48 679 L406.26 692.2 L412.03 694.9 L417.81 694.9 L423.59 714.4 L440.92 714.4 L446.7 714.9 L455 715.2 L458.25 715.8 L464.03 718.2 L481.36 718.2 L487.14 721.6 L505.4 721.6 L510.25 727.6 L516.03 730.3 L523.8 731 L527.58 733 L544.92 733 L550.69 742.7 L612.8 742.7 L620.02 743.7 L677.8 743.7" fill="none" stroke="#1f55b5" stroke-width="0.95" stroke-dasharray="2.2 1.3" stroke-linejoin="round"/>
<circle cx="394.7" cy="624.4" r="1.47" fill="#1f55b5"/><circle cx="400.48" cy="679" r="1.47" fill="#1f55b5"/><circle cx="406.26" cy="692.2" r="1.47" fill="#1f55b5"/><circle cx="412.03" cy="694.9" r="1.47" fill="#1f55b5"/><circle cx="417.81" cy="694.9" r="1.47" fill="#1f55b5"/><circle cx="423.59" cy="714.4" r="1.47" fill="#1f55b5"/><circle cx="429.37" cy="714.4" r="1.47" fill="#1f55b5"/><circle cx="435.14" cy="714.4" r="1.47" fill="#1f55b5"/><circle cx="440.92" cy="714.4" r="1.47" fill="#1f55b5"/><circle cx="446.7" cy="714.9" r="1.47" fill="#1f55b5"/><circle cx="452.48" cy="715.11" r="1.47" fill="#1f55b5"/><circle cx="458.25" cy="715.8" r="1.47" fill="#1f55b5"/><circle cx="464.03" cy="718.2" r="1.47" fill="#1f55b5"/><circle cx="469.81" cy="718.2" r="1.47" fill="#1f55b5"/><circle cx="475.59" cy="718.2" r="1.47" fill="#1f55b5"/><circle cx="481.36" cy="718.2" r="1.47" fill="#1f55b5"/><circle cx="487.14" cy="721.6" r="1.47" fill="#1f55b5"/><circle cx="492.92" cy="721.6" r="1.47" fill="#1f55b5"/><circle cx="498.7" cy="721.6" r="1.47" fill="#1f55b5"/><circle cx="504.47" cy="721.6" r="1.47" fill="#1f55b5"/><circle cx="510.25" cy="727.6" r="1.47" fill="#1f55b5"/><circle cx="516.03" cy="730.3" r="1.47" fill="#1f55b5"/><circle cx="521.81" cy="730.82" r="1.47" fill="#1f55b5"/><circle cx="527.58" cy="733" r="1.47" fill="#1f55b5"/><circle cx="533.36" cy="733" r="1.47" fill="#1f55b5"/><circle cx="539.14" cy="733" r="1.47" fill="#1f55b5"/><circle cx="544.92" cy="733" r="1.47" fill="#1f55b5"/><circle cx="550.69" cy="742.7" r="1.47" fill="#1f55b5"/><circle cx="556.47" cy="742.7" r="1.47" fill="#1f55b5"/><circle cx="562.25" cy="742.7" r="1.47" fill="#1f55b5"/><circle cx="568.03" cy="742.7" r="1.47" fill="#1f55b5"/><circle cx="573.8" cy="742.7" r="1.47" fill="#1f55b5"/><circle cx="579.58" cy="742.7" r="1.47" fill="#1f55b5"/><circle cx="585.36" cy="742.7" r="1.47" fill="#1f55b5"/><circle cx="591.14" cy="742.7" r="1.47" fill="#1f55b5"/><circle cx="596.91" cy="742.7" r="1.47" fill="#1f55b5"/><circle cx="602.69" cy="742.7" r="1.47" fill="#1f55b5"/><circle cx="608.47" cy="742.7" r="1.47" fill="#1f55b5"/><circle cx="614.25" cy="742.9" r="1.47" fill="#1f55b5"/><circle cx="620.02" cy="743.7" r="1.47" fill="#1f55b5"/><circle cx="625.8" cy="743.7" r="1.47" fill="#1f55b5"/><circle cx="631.58" cy="743.7" r="1.47" fill="#1f55b5"/><circle cx="637.36" cy="743.7" r="1.47" fill="#1f55b5"/><circle cx="643.13" cy="743.7" r="1.47" fill="#1f55b5"/><circle cx="648.91" cy="743.7" r="1.47" fill="#1f55b5"/><circle cx="654.69" cy="743.7" r="1.47" fill="#1f55b5"/><circle cx="660.47" cy="743.7" r="1.47" fill="#1f55b5"/><circle cx="666.24" cy="743.7" r="1.47" fill="#1f55b5"/><circle cx="672.02" cy="743.7" r="1.47" fill="#1f55b5"/><circle cx="677.8" cy="743.7" r="1.47" fill="#1f55b5"/>
<path d="M394.7 609.8 L400.48 757.5 L677.8 757.3" fill="none" stroke="#8d40aa" stroke-width="0.9" stroke-linejoin="round"/>
<rect x="393.3" y="608.4" width="2.8" height="2.8" fill="#a772c0" stroke="#8d40aa" stroke-width="0.8"/><rect x="399.08" y="756.1" width="2.8" height="2.8" fill="#a772c0" stroke="#8d40aa" stroke-width="0.8"/><rect x="404.86" y="756.1" width="2.8" height="2.8" fill="#a772c0" stroke="#8d40aa" stroke-width="0.8"/><rect x="410.63" y="756.09" width="2.8" height="2.8" fill="#a772c0" stroke="#8d40aa" stroke-width="0.8"/><rect x="416.41" y="756.09" width="2.8" height="2.8" fill="#a772c0" stroke="#8d40aa" stroke-width="0.8"/><rect x="422.19" y="756.08" width="2.8" height="2.8" fill="#a772c0" stroke="#8d40aa" stroke-width="0.8"/><rect x="427.97" y="756.08" width="2.8" height="2.8" fill="#a772c0" stroke="#8d40aa" stroke-width="0.8"/><rect x="433.74" y="756.08" width="2.8" height="2.8" fill="#a772c0" stroke="#8d40aa" stroke-width="0.8"/><rect x="439.52" y="756.07" width="2.8" height="2.8" fill="#a772c0" stroke="#8d40aa" stroke-width="0.8"/><rect x="445.3" y="756.07" width="2.8" height="2.8" fill="#a772c0" stroke="#8d40aa" stroke-width="0.8"/><rect x="451.08" y="756.06" width="2.8" height="2.8" fill="#a772c0" stroke="#8d40aa" stroke-width="0.8"/><rect x="456.85" y="756.06" width="2.8" height="2.8" fill="#a772c0" stroke="#8d40aa" stroke-width="0.8"/><rect x="462.63" y="756.05" width="2.8" height="2.8" fill="#a772c0" stroke="#8d40aa" stroke-width="0.8"/><rect x="468.41" y="756.05" width="2.8" height="2.8" fill="#a772c0" stroke="#8d40aa" stroke-width="0.8"/><rect x="474.19" y="756.05" width="2.8" height="2.8" fill="#a772c0" stroke="#8d40aa" stroke-width="0.8"/><rect x="479.96" y="756.04" width="2.8" height="2.8" fill="#a772c0" stroke="#8d40aa" stroke-width="0.8"/><rect x="485.74" y="756.04" width="2.8" height="2.8" fill="#a772c0" stroke="#8d40aa" stroke-width="0.8"/><rect x="491.52" y="756.03" width="2.8" height="2.8" fill="#a772c0" stroke="#8d40aa" stroke-width="0.8"/><rect x="497.3" y="756.03" width="2.8" height="2.8" fill="#a772c0" stroke="#8d40aa" stroke-width="0.8"/><rect x="503.07" y="756.02" width="2.8" height="2.8" fill="#a772c0" stroke="#8d40aa" stroke-width="0.8"/><rect x="508.85" y="756.02" width="2.8" height="2.8" fill="#a772c0" stroke="#8d40aa" stroke-width="0.8"/><rect x="514.63" y="756.02" width="2.8" height="2.8" fill="#a772c0" stroke="#8d40aa" stroke-width="0.8"/><rect x="520.41" y="756.01" width="2.8" height="2.8" fill="#a772c0" stroke="#8d40aa" stroke-width="0.8"/><rect x="526.18" y="756.01" width="2.8" height="2.8" fill="#a772c0" stroke="#8d40aa" stroke-width="0.8"/><rect x="531.96" y="756" width="2.8" height="2.8" fill="#a772c0" stroke="#8d40aa" stroke-width="0.8"/><rect x="537.74" y="756" width="2.8" height="2.8" fill="#a772c0" stroke="#8d40aa" stroke-width="0.8"/><rect x="543.52" y="756" width="2.8" height="2.8" fill="#a772c0" stroke="#8d40aa" stroke-width="0.8"/><rect x="549.29" y="755.99" width="2.8" height="2.8" fill="#a772c0" stroke="#8d40aa" stroke-width="0.8"/><rect x="555.07" y="755.99" width="2.8" height="2.8" fill="#a772c0" stroke="#8d40aa" stroke-width="0.8"/><rect x="560.85" y="755.98" width="2.8" height="2.8" fill="#a772c0" stroke="#8d40aa" stroke-width="0.8"/><rect x="566.63" y="755.98" width="2.8" height="2.8" fill="#a772c0" stroke="#8d40aa" stroke-width="0.8"/><rect x="572.4" y="755.98" width="2.8" height="2.8" fill="#a772c0" stroke="#8d40aa" stroke-width="0.8"/><rect x="578.18" y="755.97" width="2.8" height="2.8" fill="#a772c0" stroke="#8d40aa" stroke-width="0.8"/><rect x="583.96" y="755.97" width="2.8" height="2.8" fill="#a772c0" stroke="#8d40aa" stroke-width="0.8"/><rect x="589.74" y="755.96" width="2.8" height="2.8" fill="#a772c0" stroke="#8d40aa" stroke-width="0.8"/><rect x="595.51" y="755.96" width="2.8" height="2.8" fill="#a772c0" stroke="#8d40aa" stroke-width="0.8"/><rect x="601.29" y="755.95" width="2.8" height="2.8" fill="#a772c0" stroke="#8d40aa" stroke-width="0.8"/><rect x="607.07" y="755.95" width="2.8" height="2.8" fill="#a772c0" stroke="#8d40aa" stroke-width="0.8"/><rect x="612.85" y="755.95" width="2.8" height="2.8" fill="#a772c0" stroke="#8d40aa" stroke-width="0.8"/><rect x="618.62" y="755.94" width="2.8" height="2.8" fill="#a772c0" stroke="#8d40aa" stroke-width="0.8"/><rect x="624.4" y="755.94" width="2.8" height="2.8" fill="#a772c0" stroke="#8d40aa" stroke-width="0.8"/><rect x="630.18" y="755.93" width="2.8" height="2.8" fill="#a772c0" stroke="#8d40aa" stroke-width="0.8"/><rect x="635.96" y="755.93" width="2.8" height="2.8" fill="#a772c0" stroke="#8d40aa" stroke-width="0.8"/><rect x="641.73" y="755.92" width="2.8" height="2.8" fill="#a772c0" stroke="#8d40aa" stroke-width="0.8"/><rect x="647.51" y="755.92" width="2.8" height="2.8" fill="#a772c0" stroke="#8d40aa" stroke-width="0.8"/><rect x="653.29" y="755.92" width="2.8" height="2.8" fill="#a772c0" stroke="#8d40aa" stroke-width="0.8"/><rect x="659.07" y="755.91" width="2.8" height="2.8" fill="#a772c0" stroke="#8d40aa" stroke-width="0.8"/><rect x="664.84" y="755.91" width="2.8" height="2.8" fill="#a772c0" stroke="#8d40aa" stroke-width="0.8"/><rect x="670.62" y="755.9" width="2.8" height="2.8" fill="#a772c0" stroke="#8d40aa" stroke-width="0.8"/><rect x="676.4" y="755.9" width="2.8" height="2.8" fill="#a772c0" stroke="#8d40aa" stroke-width="0.8"/>
</g>
<rect x="622.9" y="613.4" width="51" height="38" fill="#fff" stroke="#2a2a2a" stroke-width="0.9"/>
<path d="M624.6 617.9H639.2" stroke="#e8392b" stroke-width="1.1"/>
<circle cx="631.9" cy="617.9" r="1.67" fill="none" stroke="#e8392b" stroke-width="1.21"/>
<text x="640.6" y="620.25" font-size="6.9" font-weight="bold" fill="#111">WOACBA</text>
<path d="M624.6 625H639.2" stroke="#a6d255" stroke-width="0.9"/>
<rect x="630.81" y="623.91" width="2.18" height="2.18" fill="#a6d255"/>
<text x="640.6" y="627.35" font-size="6.9" font-weight="bold" fill="#111">WOA</text>
<path d="M624.6 632.4H639.2" stroke="#52b973" stroke-width="0.95" stroke-dasharray="1.1 0.5"/>
<path d="M630.18 632.4H633.63M631.9 630.67V634.12" stroke="#52b973" stroke-width="0.92"/>
<text x="640.6" y="634.75" font-size="6.9" font-weight="bold" fill="#111">BA</text>
<path d="M624.6 639.7H639.2" stroke="#1f55b5" stroke-width="0.95" stroke-dasharray="2.2 1.3"/>
<circle cx="631.9" cy="639.7" r="1.47" fill="#1f55b5"/>
<text x="640.6" y="642.05" font-size="6.9" font-weight="bold" fill="#111">PSO</text>
<path d="M624.6 646.9H639.2" stroke="#8d40aa" stroke-width="1.2"/>
<rect x="630.5" y="645.5" width="2.8" height="2.8" fill="#a772c0" stroke="#8d40aa" stroke-width="0.8"/>
<text x="640.6" y="649.25" font-size="6.9" font-weight="bold" fill="#111">GA</text>
</g>
</svg></body></html>
